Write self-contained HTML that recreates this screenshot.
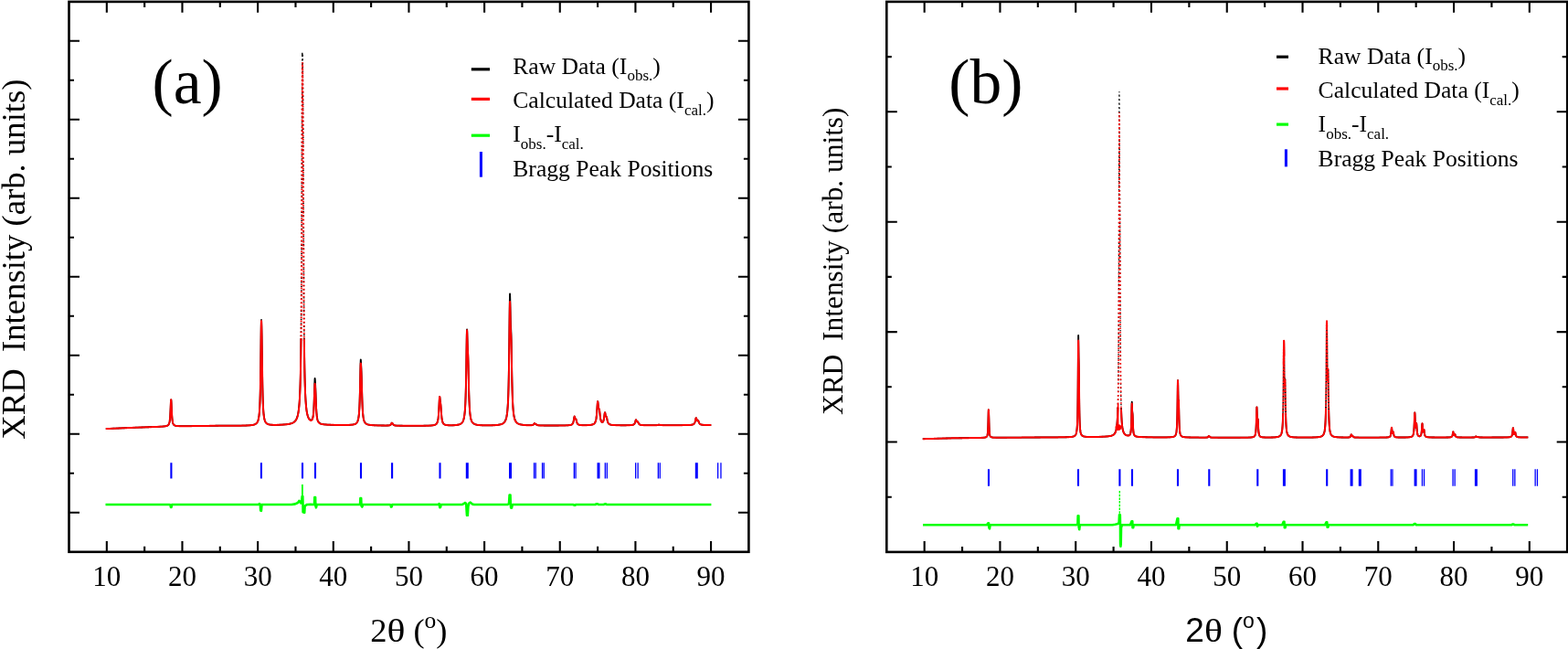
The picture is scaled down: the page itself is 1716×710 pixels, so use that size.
<!DOCTYPE html>
<html><head><meta charset="utf-8"><title>XRD Rietveld refinement</title><style>html,body{margin:0;padding:0;background:#fff;width:1716px;height:710px;overflow:hidden}
svg{display:block}
text{fill:#000}
.sf{font-family:"Liberation Serif","Times New Roman",serif}
.ss{font-family:"Liberation Sans",Arial,sans-serif}
.tl{font-family:"Liberation Serif","Times New Roman",serif;font-size:31px;text-anchor:middle}
</style></head><body>
<svg width="1716" height="710" viewBox="0 0 1716 710">

<rect x="75.5" y="1.9" width="743.9" height="601.9" fill="none" stroke="#000" stroke-width="2.6"/>
<path d="M116.83 603.8V592M116.83 1.9V13.7M158.16 603.8V597.8M158.16 1.9V7.9M199.48 603.8V592M199.48 1.9V13.7M240.81 603.8V597.8M240.81 1.9V7.9M282.14 603.8V592M282.14 1.9V13.7M323.47 603.8V597.8M323.47 1.9V7.9M364.79 603.8V592M364.79 1.9V13.7M406.12 603.8V597.8M406.12 1.9V7.9M447.45 603.8V592M447.45 1.9V13.7M488.78 603.8V597.8M488.78 1.9V7.9M530.11 603.8V592M530.11 1.9V13.7M571.43 603.8V597.8M571.43 1.9V7.9M612.76 603.8V592M612.76 1.9V13.7M654.09 603.8V597.8M654.09 1.9V7.9M695.42 603.8V592M695.42 1.9V13.7M736.74 603.8V597.8M736.74 1.9V7.9M778.07 603.8V592M778.07 1.9V13.7M75.5 560.8H87M819.4 560.8H807.9M75.5 517.8H81M819.4 517.8H813.9M75.5 474.8H87M819.4 474.8H807.9M75.5 431.8H81M819.4 431.8H813.9M75.5 388.8H87M819.4 388.8H807.9M75.5 345.8H81M819.4 345.8H813.9M75.5 302.8H87M819.4 302.8H807.9M75.5 259.8H81M819.4 259.8H813.9M75.5 216.8H87M819.4 216.8H807.9M75.5 173.8H81M819.4 173.8H813.9M75.5 130.8H87M819.4 130.8H807.9M75.5 87.8H81M819.4 87.8H813.9M75.5 44.8H87M819.4 44.8H807.9" stroke="#000" stroke-width="2.1" fill="none"/>
<text x="116.83" y="640.5" class="tl">10</text>
<text x="199.48" y="640.5" class="tl">20</text>
<text x="282.14" y="640.5" class="tl">30</text>
<text x="364.79" y="640.5" class="tl">40</text>
<text x="447.45" y="640.5" class="tl">50</text>
<text x="530.11" y="640.5" class="tl">60</text>
<text x="612.76" y="640.5" class="tl">70</text>
<text x="695.42" y="640.5" class="tl">80</text>
<text x="778.07" y="640.5" class="tl">90</text>
<path d="M115.8 469.08L116.3 469.06L116.8 469.04L117.3 469.02L117.8 469L118.3 468.98L118.8 468.96L119.3 468.94L119.8 468.92L120.3 468.9L120.8 468.88L121.3 468.86L121.8 468.84L122.3 468.82L122.8 468.8L123.3 468.77L123.8 468.75L124.3 468.73L124.8 468.71L125.3 468.69L125.8 468.67L126.3 468.65L126.8 468.63L127.3 468.61L127.8 468.59L128.3 468.57L128.8 468.55L129.3 468.53L129.8 468.51L130.3 468.49L130.8 468.47L131.3 468.44L131.8 468.42L132.3 468.4L132.8 468.38L133.3 468.36L133.8 468.34L134.3 468.32L134.8 468.3L135.3 468.28L135.8 468.26L136.3 468.24L136.8 468.22L137.3 468.2L137.8 468.18L138.3 468.16L138.8 468.14L139.3 468.11L139.8 468.09L140.3 468.07L140.8 468.05L141.3 468.03L141.8 468.01L142.3 467.99L142.8 467.97L143.3 467.95L143.8 467.93L144.3 467.91L144.8 467.89L145.3 467.87L145.8 467.84L146.3 467.82L146.8 467.8L147.3 467.78L147.8 467.76L148.3 467.74L148.8 467.72L149.3 467.7L149.8 467.68L150.3 467.66L150.8 467.64L151.3 467.63L151.8 467.61L152.3 467.59L152.8 467.58L153.3 467.56L153.8 467.54L154.3 467.53L154.8 467.51L155.3 467.49L155.8 467.48L156.3 467.46L156.8 467.44L157.3 467.42L157.8 467.41L158.3 467.39L158.8 467.37L159.3 467.36L159.8 467.34L160.3 467.32L160.8 467.31L161.3 467.29L161.8 467.27L162.3 467.25L162.8 467.24L163.3 467.22L163.8 467.2L164.3 467.18L164.8 467.17L165.3 467.15L165.8 467.13L166.3 467.11L166.8 467.09L167.3 467.08L167.8 467.06L168.3 467.04L168.8 467.02L169.3 467L169.8 466.98L170.3 466.96L170.8 466.94L171.3 466.92L171.8 466.9L172.3 466.88L172.8 466.86L173.3 466.84L173.8 466.81L174.3 466.79L174.8 466.77L175.3 466.74L175.8 466.71L176.3 466.69L176.8 466.66L177.3 466.62L177.8 466.59L178.3 466.55L178.8 466.51L179.3 466.47L179.8 466.41L180.3 466.35L180.8 466.28L181.3 466.2L181.8 466.1L182.3 465.97L182.75 465.82L182.8 465.8L182.93 465.74L183.11 465.66L183.29 465.57L183.3 465.57L183.47 465.47L183.66 465.35L183.8 465.24L183.84 465.21L184.02 465.05L184.2 464.87L184.3 464.75L184.38 464.65L184.56 464.4L184.74 464.09L184.8 463.98L184.93 463.71L185.11 463.25L185.29 462.67L185.3 462.62L185.47 461.94L185.65 461L185.8 460.01L185.83 459.77L186.01 458.15L186.19 455.97L186.3 454.39L186.38 453.1L186.4 452.63L186.56 449.39L186.58 448.81L186.74 445L186.76 444.37L186.8 443.42L186.92 440.66L186.94 440.14L187.1 437.81L187.12 437.6L187.2 437.3L187.28 437.5L187.3 437.62L187.31 437.66L187.46 439.66L187.49 440.1L187.64 443.4L187.67 443.98L187.8 447.08L187.82 447.66L187.85 448.23L188.01 451.57L188.03 452.06L188.19 454.77L188.21 455.15L188.3 456.36L188.37 457.21L188.39 457.49L188.55 459.04L188.57 459.26L188.73 460.42L188.8 460.86L188.91 461.48L189.09 462.29L189.28 462.92L189.3 462.99L189.46 463.42L189.64 463.82L189.8 464.12L189.82 464.15L190 464.42L190.18 464.65L190.3 464.77L190.36 464.84L190.54 465L190.72 465.13L190.8 465.18L190.91 465.25L191.09 465.35L191.27 465.44L191.3 465.45L191.45 465.52L191.8 465.64L192.3 465.78L192.8 465.87L193.3 465.95L193.8 466L194.3 466.05L194.8 466.08L195.3 466.11L195.8 466.13L196.3 466.15L196.8 466.16L197.3 466.17L197.8 466.18L198.3 466.18L198.8 466.19L199.3 466.19L199.8 466.19L200.3 466.19L200.8 466.19L201.3 466.19L201.8 466.19L202.3 466.19L202.8 466.19L203.3 466.18L203.8 466.18L204.3 466.18L204.8 466.17L205.3 466.17L205.8 466.16L206.3 466.16L206.8 466.16L207.3 466.15L207.8 466.15L208.3 466.14L208.8 466.14L209.3 466.13L209.8 466.12L210.3 466.12L210.8 466.11L211.3 466.11L211.8 466.1L212.3 466.1L212.8 466.09L213.3 466.08L213.8 466.08L214.3 466.07L214.8 466.06L215.3 466.06L215.8 466.05L216.3 466.05L216.8 466.04L217.3 466.03L217.8 466.03L218.3 466.02L218.8 466.01L219.3 466.01L219.8 466L220.3 465.99L220.8 465.99L221.3 465.98L221.8 465.97L222.3 465.97L222.8 465.96L223.3 465.95L223.8 465.95L224.3 465.94L224.8 465.93L225.3 465.92L225.8 465.92L226.3 465.91L226.8 465.9L227.3 465.9L227.8 465.89L228.3 465.88L228.8 465.87L229.3 465.87L229.8 465.86L230.3 465.85L230.8 465.85L231.3 465.84L231.8 465.83L232.3 465.82L232.8 465.82L233.3 465.81L233.8 465.8L234.3 465.79L234.8 465.79L235.3 465.78L235.8 465.77L236.3 465.76L236.8 465.76L237.3 465.75L237.8 465.74L238.3 465.73L238.8 465.73L239.3 465.72L239.8 465.71L240.3 465.71L240.8 465.71L241.3 465.71L241.8 465.71L242.3 465.71L242.8 465.71L243.3 465.71L243.8 465.71L244.3 465.71L244.8 465.71L245.3 465.71L245.8 465.71L246.3 465.71L246.8 465.71L247.3 465.71L247.8 465.71L248.3 465.71L248.8 465.71L249.3 465.71L249.8 465.71L250.3 465.71L250.8 465.71L251.3 465.71L251.8 465.7L252.3 465.7L252.8 465.7L253.3 465.7L253.8 465.7L254.3 465.7L254.8 465.7L255.3 465.7L255.8 465.69L256.3 465.69L256.8 465.69L257.3 465.69L257.8 465.68L258.3 465.68L258.8 465.68L259.3 465.67L259.8 465.67L260.3 465.67L260.8 465.66L261.3 465.66L261.8 465.65L262.3 465.65L262.8 465.64L263.3 465.64L263.8 465.63L264.3 465.62L264.8 465.62L265.3 465.61L265.8 465.6L266.3 465.59L266.8 465.58L267.3 465.57L267.8 465.56L268.3 465.54L268.8 465.53L269.3 465.51L269.8 465.49L270.3 465.47L270.8 465.45L271.3 465.43L271.8 465.4L272.3 465.37L272.8 465.33L273.3 465.3L273.8 465.25L274.3 465.21L274.8 465.15L275.3 465.09L275.8 465.02L276.3 464.94L276.8 464.85L277.3 464.74L277.8 464.61L278.3 464.45L278.8 464.26L279.3 464.04L279.8 463.75L280.3 463.39L280.8 462.93L281.19 462.47L281.3 462.32L281.39 462.19L281.59 461.88L281.78 461.53L281.8 461.49L281.98 461.13L282.17 460.67L282.3 460.33L282.37 460.13L282.57 459.51L282.76 458.79L282.8 458.64L282.96 457.93L283.15 456.91L283.3 456.02L283.35 455.68L283.55 454.18L283.74 452.33L283.8 451.72L283.94 450.03L284.13 447.11L284.3 444.01L284.33 443.35L284.53 438.45L284.72 431.97L284.8 428.87L284.92 423.29L285.12 411.82L285.3 398.08L285.31 397.09L285.37 392.07L285.51 379.77L285.57 374.45L285.7 363L285.76 358.86L285.8 356.61L285.9 352.12L285.96 350.63L286.02 350L286.1 350.42L286.15 351.51L286.29 356.07L286.3 356.41L286.35 358.76L286.49 366.12L286.55 369.89L286.68 379.41L286.74 383.93L286.8 388.24L286.88 394.4L286.94 398.94L287.08 408.7L287.14 412.55L287.27 420.56L287.3 421.99L287.33 423.61L287.47 429.8L287.53 432.12L287.67 436.81L287.72 438.57L287.8 440.62L287.86 442.12L288.06 446.17L288.25 449.3L288.3 449.95L288.45 451.76L288.64 453.72L288.8 454.99L288.84 455.3L289.04 456.59L289.23 457.66L289.3 457.98L289.43 458.56L289.63 459.31L289.8 459.88L289.82 459.95L290.02 460.49L290.21 460.96L290.3 461.15L290.41 461.37L290.61 461.72L290.8 462.03L291.3 462.67L291.8 463.15L292.3 463.51L292.8 463.79L293.3 464.01L293.8 464.19L294.3 464.33L294.8 464.45L295.3 464.54L295.8 464.62L296.3 464.68L296.8 464.73L297.3 464.77L297.8 464.8L298.3 464.83L298.8 464.85L299.3 464.86L299.8 464.87L300.3 464.88L300.8 464.88L301.3 464.88L301.8 464.88L302.3 464.87L302.8 464.86L303.3 464.85L303.8 464.84L304.3 464.82L304.8 464.81L305.3 464.79L305.8 464.77L306.3 464.75L306.8 464.72L307.3 464.69L307.8 464.66L308.3 464.63L308.8 464.6L309.3 464.56L309.8 464.53L310.3 464.49L310.8 464.46L311.3 464.42L311.8 464.39L312.3 464.34L312.8 464.3L313.3 464.25L313.8 464.19L314.3 464.13L314.8 464.06L315.3 463.99L315.8 463.91L316.3 463.82L316.8 463.72L317.3 463.61L317.8 463.48L318.3 463.34L318.8 463.19L319.3 463.01L319.8 462.81L320.3 462.58L320.8 462.32L321.3 462.01L321.8 461.66L322.3 461.24L322.8 460.75L323.3 460.17L323.8 459.46L324.3 458.59L324.8 457.51L325.3 456.15L325.8 454.4L326.03 453.41L326.24 452.43L326.3 452.09L326.44 451.32L326.64 450.07L326.8 448.96L326.84 448.64L327.05 447L327.25 445.1L327.3 444.58L327.45 442.89L327.65 440.31L327.8 438.18L327.86 437.27L328.06 433.64L328.26 429.26L328.3 428.36L328.47 423.92L328.67 417.35L328.8 412.27L328.87 409.15L329.07 398.81L329.28 385.46L329.3 383.71L329.46 370M332.88 370L332.89 371.04L332.93 374.72L333.13 390.63L333.3 401.02L333.33 402.86L333.54 412.4L333.74 419.96L333.8 421.88L333.94 426.02L334.14 430.93L334.3 434.09L334.35 434.99L334.55 438.36L334.75 441.2L334.8 441.78L334.96 443.6L335.16 445.65L335.3 446.9L335.36 447.41L335.56 448.94L335.77 450.27L335.8 450.46L336.3 453.03L336.8 454.93L337.3 456.36L337.8 457.44L338.3 458.26L338.8 458.87L339.3 459.29L339.58 459.46L339.79 459.54L339.8 459.55L339.99 459.6L340.2 459.62L340.3 459.62L340.4 459.61L340.61 459.57L340.8 459.49L340.81 459.48L341.02 459.35L341.22 459.16L341.3 459.08L341.43 458.91L341.63 458.58L341.8 458.24L341.84 458.15L342.04 457.6L342.25 456.9L342.3 456.68L342.45 455.99L342.66 454.8L342.8 453.76L342.86 453.25L343.07 451.2L343.27 448.45L343.3 448L343.48 444.77L343.68 439.89L343.8 436.37L343.88 433.58L344.08 426.6L344.09 426.19L344.28 419.44L344.3 419.11L344.3 418.96L344.49 414.83L344.5 414.7L344.63 414L344.69 414.22L344.7 414.29L344.8 415.18L344.9 416.55L344.91 416.72L345.1 420.09L345.12 420.3L345.3 424.29L345.31 424.51L345.32 424.78L345.51 430.04L345.52 430.33L345.72 436.07L345.73 436.39L345.8 438.41L345.92 441.67L345.93 441.94L346.13 446.27L346.14 446.48L346.3 449.32L346.33 449.83L346.34 449.99L346.54 452.54L346.55 452.67L346.75 454.71L346.8 455.09L346.96 456.27L347.16 457.5L347.3 458.18L347.37 458.48L347.57 459.27L347.78 459.92L347.8 459.98L347.98 460.46L348.19 460.9L348.3 461.12L348.39 461.28L348.6 461.61L348.8 461.89L348.8 461.89L349.01 462.13L349.21 462.35L349.3 462.43L349.42 462.54L349.8 462.83L350.3 463.14L350.8 463.39L351.3 463.58L351.8 463.74L352.3 463.88L352.8 463.99L353.3 464.09L353.8 464.17L354.3 464.24L354.8 464.31L355.3 464.37L355.8 464.42L356.3 464.46L356.8 464.5L357.3 464.54L357.8 464.57L358.3 464.61L358.8 464.63L359.3 464.66L359.8 464.68L360.3 464.7L360.8 464.72L361.3 464.74L361.8 464.76L362.3 464.78L362.8 464.79L363.3 464.8L363.8 464.82L364.3 464.83L364.8 464.84L365.3 464.85L365.8 464.86L366.3 464.86L366.8 464.87L367.3 464.88L367.8 464.88L368.3 464.89L368.8 464.89L369.3 464.9L369.8 464.9L370.3 464.91L370.8 464.92L371.3 464.92L371.8 464.93L372.3 464.93L372.8 464.94L373.3 464.94L373.8 464.95L374.3 464.95L374.8 464.95L375.3 464.95L375.8 464.96L376.3 464.96L376.8 464.95L377.3 464.95L377.8 464.95L378.3 464.94L378.8 464.94L379.3 464.93L379.8 464.92L380.3 464.91L380.8 464.9L381.3 464.88L381.8 464.86L382.3 464.84L382.8 464.82L383.3 464.79L383.8 464.75L384.3 464.71L384.8 464.67L385.3 464.61L385.8 464.54L386.3 464.46L386.8 464.36L387.3 464.25L387.8 464.1L388.3 463.92L388.8 463.7L389.3 463.41L389.6 463.19L389.8 463.03L389.81 463.02L390.03 462.82L390.24 462.6L390.3 462.53L390.45 462.34L390.66 462.05L390.8 461.84L390.88 461.71L391.09 461.32L391.3 460.86L391.3 460.85L391.51 460.31L391.73 459.66L391.8 459.4L391.94 458.87L392.15 457.92L392.3 457.12L392.36 456.74L392.58 455.27L392.79 453.41L392.8 453.29L393 451.01L393.21 447.89L393.3 446.33L393.43 443.74L393.64 438.24L393.8 432.86L393.85 430.97L394.06 421.61L394.27 410.76L394.3 409.45L394.38 405.48L394.49 400.42L394.59 396.73L394.7 394.22L394.8 393.41L394.8 393.4L394.81 393.4L394.91 393.99L395.01 395.53L395.12 397.76L395.23 400.03L395.3 401.67L395.34 402.5L395.44 404.85L395.55 407.57L395.65 410.44L395.76 414.02L395.8 415.36L395.86 417.73L395.97 422L396.08 426.04L396.19 430.21L396.29 433.81L396.3 434.18L396.4 437.33L396.5 440.26L396.61 443.01L396.71 445.24L396.8 446.91L396.82 447.35L396.93 449.06L397.04 450.64L397.25 453.17L397.3 453.68L397.46 455.12L397.67 456.66L397.8 457.42L397.89 457.88L398.1 458.87L398.3 459.64L398.31 459.68L398.52 460.35L398.74 460.91L398.8 461.06L398.95 461.38L399.16 461.79L399.3 462.02L399.37 462.14L399.58 462.44L399.8 462.7L399.8 462.7L400.3 463.2L400.8 463.58L401.3 463.87L401.8 464.1L402.3 464.29L402.8 464.44L403.3 464.57L403.8 464.67L404.3 464.76L404.8 464.84L405.3 464.91L405.8 464.97L406.3 465.02L406.8 465.07L407.3 465.11L407.8 465.14L408.3 465.18L408.8 465.21L409.3 465.24L409.8 465.26L410.3 465.28L410.8 465.3L411.3 465.32L411.8 465.34L412.3 465.36L412.8 465.38L413.3 465.39L413.8 465.4L414.3 465.42L414.8 465.43L415.3 465.44L415.8 465.45L416.3 465.46L416.8 465.47L417.3 465.48L417.8 465.49L418.3 465.5L418.8 465.5L419.3 465.51L419.8 465.52L420.3 465.52L420.8 465.53L421.3 465.53L421.8 465.53L422.3 465.53L422.8 465.53L423.3 465.52L423.48 465.52L423.7 465.51L423.8 465.51L423.92 465.51L424.13 465.5L424.3 465.5L424.35 465.49L424.57 465.48L424.79 465.47L424.8 465.47L425 465.46L425.22 465.44L425.3 465.44L425.44 465.42L425.65 465.4L425.8 465.38L425.87 465.37L426.09 465.33L426.3 465.29L426.31 465.29L426.52 465.23L426.74 465.15L426.8 465.13L426.96 465.06L427.18 464.93L427.3 464.84L427.39 464.76L427.61 464.53L427.8 464.28L427.83 464.23L428.05 463.85L428.26 463.4L428.3 463.32L428.45 463.03L428.48 462.98L428.67 462.75L428.7 462.73L428.8 462.7L428.81 462.7L428.88 462.72L428.92 462.73L429.1 462.87L429.13 462.91L429.3 463.06L429.32 463.07L429.35 463.1L429.54 463.26L429.57 463.29L429.75 463.47L429.79 463.51L429.8 463.52L429.97 463.75L430 463.81L430.19 464.09L430.22 464.14L430.3 464.26L430.4 464.4L430.44 464.45L430.62 464.67L430.66 464.71L430.8 464.84L430.84 464.87L430.88 464.9L431.06 465.03L431.09 465.05L431.3 465.16L431.31 465.17L431.53 465.26L431.75 465.33L431.8 465.34L431.96 465.39L432.18 465.43L432.3 465.45L432.4 465.47L432.62 465.5L432.8 465.52L432.83 465.53L433.05 465.55L433.27 465.57L433.3 465.57L433.49 465.59L433.7 465.6L433.8 465.61L433.92 465.62L434.3 465.64L434.8 465.66L435.3 465.68L435.8 465.69L436.3 465.7L436.8 465.72L437.3 465.73L437.8 465.74L438.3 465.74L438.8 465.75L439.3 465.76L439.8 465.77L440.3 465.77L440.8 465.78L441.3 465.78L441.8 465.79L442.3 465.8L442.8 465.8L443.3 465.81L443.8 465.81L444.3 465.82L444.8 465.82L445.3 465.83L445.8 465.83L446.3 465.83L446.8 465.84L447.3 465.84L447.8 465.85L448.3 465.85L448.8 465.86L449.3 465.86L449.8 465.86L450.3 465.86L450.8 465.86L451.3 465.86L451.8 465.86L452.3 465.86L452.8 465.85L453.3 465.85L453.8 465.85L454.3 465.85L454.8 465.85L455.3 465.84L455.8 465.84L456.3 465.84L456.8 465.84L457.3 465.83L457.8 465.83L458.3 465.83L458.8 465.82L459.3 465.82L459.8 465.81L460.3 465.81L460.8 465.8L461.3 465.8L461.8 465.79L462.3 465.79L462.8 465.78L463.3 465.78L463.8 465.77L464.3 465.76L464.8 465.75L465.3 465.74L465.8 465.73L466.3 465.72L466.8 465.71L467.3 465.7L467.8 465.69L468.3 465.67L468.8 465.65L469.3 465.63L469.8 465.61L470.3 465.59L470.8 465.56L471.3 465.53L471.8 465.49L472.3 465.45L472.8 465.41L473.3 465.35L473.8 465.28L474.3 465.2L474.8 465.1L475.3 464.97L475.69 464.85L475.8 464.81L475.92 464.77L476.14 464.68L476.3 464.61L476.37 464.58L476.59 464.46L476.8 464.34L476.82 464.32L477.04 464.17L477.27 463.99L477.3 463.96L477.49 463.78L477.72 463.53L477.8 463.43L477.94 463.24L478.17 462.88L478.3 462.64L478.4 462.45L478.62 461.92L478.8 461.4L478.85 461.25L479.07 460.41L479.3 459.34L479.3 459.32L479.52 457.93L479.75 456.07L479.8 455.56L479.97 453.6L480.2 450.32L480.3 448.56L480.42 446.15L480.65 441.31L480.8 438.15L480.88 436.78L480.96 435.47L481.1 434.22L481.19 434L481.19 434L481.3 434.32L481.32 434.47L481.41 435.16L481.55 436.54L481.64 437.44L481.78 438.74L481.8 438.94L481.86 439.44L482 440.41L482.09 441L482.23 442.04L482.3 442.7L482.31 442.84L482.45 444.42L482.54 445.61L482.68 447.65L482.76 448.97L482.8 449.5L482.9 451.01L482.99 452.21L483.13 453.95L483.22 454.94L483.3 455.8L483.35 456.31L483.44 457.06L483.58 458.11L483.67 458.68L483.8 459.46L483.8 459.48L484.03 460.53L484.25 461.34L484.3 461.48L484.48 461.98L484.71 462.49L484.8 462.68L484.93 462.91L485.16 463.25L485.3 463.43L485.38 463.52L485.61 463.76L485.8 463.93L485.83 463.96L486.06 464.13L486.28 464.27L486.3 464.28L486.51 464.39L486.8 464.53L487.3 464.72L487.8 464.86L488.3 464.97L488.8 465.05L489.3 465.12L489.8 465.17L490.3 465.21L490.8 465.24L491.3 465.26L491.8 465.28L492.3 465.29L492.8 465.3L493.3 465.3L493.8 465.3L494.3 465.29L494.8 465.28L495.3 465.27L495.8 465.25L496.3 465.23L496.8 465.2L497.3 465.17L497.8 465.13L498.3 465.09L498.8 465.04L499.3 464.99L499.8 464.92L500.3 464.85L500.8 464.76L501.3 464.67L501.8 464.55L502.3 464.41L502.8 464.25L503.3 464.06L503.8 463.83L504.3 463.54L504.8 463.19L505.3 462.75L505.48 462.56L505.71 462.3L505.8 462.19L505.94 462L506.17 461.66L506.3 461.45L506.4 461.27L506.63 460.83L506.8 460.46L506.86 460.32L507.09 459.72L507.3 459.1L507.32 459.03L507.55 458.21L507.78 457.23L507.8 457.15L508.01 456.05L508.24 454.62L508.3 454.21L508.47 452.85L508.7 450.65L508.8 449.54L508.93 447.87L509.16 444.29L509.3 441.62L509.39 439.61L509.62 433.43L509.8 427.23L509.85 425.2L510.08 414.3L510.3 401.12L510.31 400.46L510.54 384.36L510.77 369.4L510.8 367.83L510.93 362.6L511 361.09L511.09 360.5L511.16 361.05L511.23 362.33L511.3 364.21L511.39 367.21L511.46 369.69L511.62 375.31L511.69 377.42L511.8 380.29L511.85 381.42L511.92 382.79L512.08 385.76L512.15 387.11L512.3 390.89L512.31 391.19L512.38 393.44L512.54 399.87L512.61 403.01L512.77 410.74L512.8 412.18L512.84 414.04L513 421.35L513.07 424.23L513.23 430.26L513.3 432.52L513.3 432.58L513.46 437.24L513.53 438.97L513.69 442.56L513.76 443.88L513.8 444.64L513.99 447.63L514.22 450.53L514.3 451.4L514.45 452.8L514.68 454.61L514.8 455.42L514.91 456.06L515.14 457.25L515.3 457.97L515.37 458.23L515.6 459.06L515.8 459.68L515.83 459.75L516.06 460.35L516.29 460.86L516.3 460.88L516.52 461.29L516.8 461.76L517.3 462.42L517.8 462.93L518.3 463.33L518.8 463.65L519.3 463.91L519.8 464.12L520.3 464.3L520.8 464.45L521.3 464.57L521.8 464.68L522.3 464.77L522.8 464.85L523.3 464.92L523.8 464.98L524.3 465.03L524.8 465.08L525.3 465.12L525.8 465.16L526.3 465.19L526.8 465.22L527.3 465.24L527.8 465.26L528.3 465.28L528.8 465.3L529.3 465.31L529.8 465.32L530.3 465.33L530.8 465.34L531.3 465.34L531.8 465.35L532.3 465.35L532.8 465.35L533.3 465.35L533.8 465.35L534.3 465.35L534.8 465.34L535.3 465.34L535.8 465.33L536.3 465.32L536.8 465.31L537.3 465.3L537.8 465.28L538.3 465.27L538.8 465.25L539.3 465.23L539.8 465.21L540.3 465.19L540.8 465.16L541.3 465.13L541.8 465.1L542.3 465.06L542.8 465.02L543.3 464.98L543.8 464.93L544.3 464.88L544.8 464.82L545.3 464.75L545.8 464.67L546.3 464.58L546.8 464.48L547.3 464.37L547.8 464.24L548.3 464.09L548.8 463.92L549.3 463.72L549.8 463.48L550.3 463.2L550.8 462.85L551.3 462.44L551.8 461.92L552.3 461.28L552.31 461.26L552.55 460.89L552.79 460.48L552.8 460.46L553.02 460.01L553.26 459.48L553.3 459.39L553.5 458.87L553.74 458.16L553.8 457.95L553.97 457.34L554.21 456.38L554.3 455.97L554.45 455.25L554.68 453.9L554.8 453.14L554.92 452.28L555.16 450.3L555.3 448.9L555.39 447.87L555.63 444.83L555.8 442.18L555.87 440.98L556.11 436.03L556.3 430.86L556.34 429.58L556.58 421.04L556.8 410.55L556.82 409.67L557.05 394.7L557.29 375.53L557.3 374.55L557.53 353.38L557.76 332.93L557.8 330.39L558 321.9L558.05 321.35L558.06 321.3L558.24 324.4L558.28 326.2L558.3 326.89L558.47 335.6L558.52 338.09L558.71 347.25L558.76 349.13L558.8 350.66L558.95 354.9L559 355.92L559.18 359.26L559.23 360.1L559.3 361.45L559.42 364.59L559.47 366.18L559.66 374.56L559.71 377.16L559.8 382.64L559.89 388.49L559.94 391.49L560.13 402.96L560.18 405.64L560.3 412.09L560.37 415.47L560.42 417.64L560.61 425.39L560.65 427.06L560.8 431.75L560.84 432.98L560.89 434.25L561.08 438.77L561.3 442.93L561.32 443.21L561.55 446.67L561.79 449.39L561.8 449.49L562.03 451.58L562.26 453.35L562.3 453.59L562.5 454.82L562.74 456.04L562.8 456.32L562.98 457.06L563.21 457.93L563.3 458.22L563.45 458.67L563.69 459.31L563.8 459.59L564.3 460.62L564.8 461.4L565.3 462.02L565.8 462.51L566.3 462.91L566.8 463.24L567.3 463.51L567.8 463.74L568.3 463.94L568.8 464.1L569.3 464.25L569.8 464.37L570.3 464.48L570.8 464.57L571.3 464.66L571.8 464.73L572.3 464.8L572.8 464.86L573.3 464.91L573.8 464.96L574.3 465L574.8 465.04L575.3 465.07L575.8 465.1L576.3 465.13L576.8 465.15L577.3 465.17L577.8 465.19L578.3 465.2L578.8 465.21L579.12 465.22L579.3 465.22L579.36 465.22L579.6 465.22L579.8 465.22L579.84 465.22L580.08 465.22L580.3 465.22L580.32 465.22L580.56 465.22L580.8 465.21L580.8 465.21L581.04 465.2L581.29 465.19L581.3 465.19L581.53 465.18L581.77 465.16L581.8 465.15L582.01 465.13L582.25 465.1L582.3 465.09L582.49 465.06L582.73 465L582.8 464.98L582.97 464.93L583.21 464.84L583.3 464.8L583.45 464.71L583.7 464.54L583.8 464.45L583.94 464.31L584.18 464.02L584.3 463.85L584.42 463.68L584.66 463.37L584.8 463.25L584.9 463.21L584.96 463.2L585.02 463.21L585.14 463.26L585.26 463.34L585.3 463.37L585.38 463.44L585.5 463.54L585.62 463.63L585.74 463.71L585.8 463.73L585.86 463.76L585.98 463.8L586.11 463.82L586.22 463.85L586.3 463.87L586.35 463.88L586.46 463.93L586.59 464.01L586.71 464.1L586.8 464.18L586.83 464.21L586.95 464.32L587.07 464.43L587.19 464.54L587.3 464.63L587.31 464.64L587.43 464.72L587.55 464.8L587.67 464.87L587.79 464.93L587.8 464.93L587.91 464.98L588.03 465.03L588.27 465.1L588.3 465.11L588.51 465.16L588.75 465.21L588.8 465.22L589 465.25L589.24 465.28L589.3 465.28L589.48 465.3L589.72 465.32L589.8 465.33L589.96 465.34L590.2 465.36L590.3 465.36L590.44 465.37L590.68 465.38L590.8 465.39L591.3 465.41L591.8 465.42L592.3 465.43L592.8 465.44L593.3 465.45L593.8 465.46L594.3 465.47L594.8 465.47L595.3 465.48L595.8 465.48L596.3 465.48L596.8 465.49L597.3 465.49L597.8 465.49L598.3 465.49L598.8 465.5L599.3 465.5L599.8 465.5L600.3 465.5L600.8 465.5L601.3 465.5L601.8 465.5L602.3 465.5L602.8 465.5L603.3 465.5L603.8 465.5L604.3 465.5L604.8 465.5L605.3 465.5L605.8 465.5L606.3 465.5L606.8 465.5L607.3 465.49L607.8 465.49L608.3 465.49L608.8 465.49L609.3 465.49L609.8 465.48L610.3 465.48L610.8 465.48L611.3 465.48L611.8 465.47L612.3 465.47L612.8 465.47L613.3 465.46L613.8 465.46L614.3 465.45L614.8 465.45L615.3 465.44L615.8 465.44L616.3 465.43L616.8 465.42L617.3 465.41L617.8 465.4L618.3 465.39L618.8 465.38L619.3 465.36L619.8 465.35L620.3 465.33L620.8 465.31L621.3 465.28L621.8 465.25L622.3 465.21L622.76 465.17L622.8 465.17L623.01 465.15L623.25 465.12L623.3 465.11L623.5 465.08L623.75 465.04L623.8 465.04L624 465L624.25 464.95L624.3 464.94L624.49 464.89L624.74 464.82L624.8 464.81L624.99 464.74L625.24 464.65L625.3 464.62L625.48 464.54L625.73 464.4L625.8 464.35L625.98 464.23L626.23 464.02L626.3 463.94L626.47 463.75L626.72 463.4L626.8 463.27L626.97 462.95L627.22 462.36L627.3 462.11L627.46 461.57L627.71 460.52L627.8 460.07L627.96 459.19L628.21 457.66L628.3 457.07L628.45 456.26L628.7 455.53L628.75 455.5L628.8 455.51L628.94 455.75L628.95 455.77L629.19 456.62L629.2 456.65L629.3 457.06L629.44 457.55L629.44 457.57L629.68 458.17L629.69 458.18L629.8 458.34L629.93 458.44L629.94 458.45L630.18 458.55L630.18 458.55L630.3 458.65L630.43 458.84L630.43 458.85L630.67 459.5L630.68 459.53L630.8 459.96L630.92 460.44L630.93 460.46L631.17 461.38L631.17 461.4L631.3 461.83L631.42 462.18L631.42 462.2L631.66 462.82L631.67 462.83L631.8 463.1L631.91 463.3L631.92 463.31L632.16 463.67L632.3 463.84L632.41 463.95L632.66 464.17L632.8 464.27L632.91 464.34L633.15 464.48L633.3 464.55L633.4 464.59L633.65 464.69L633.8 464.73L633.9 464.76L634.14 464.83L634.3 464.86L634.39 464.88L634.64 464.92L634.8 464.95L635.3 465.02L635.8 465.07L636.3 465.1L636.8 465.13L637.3 465.15L637.8 465.16L638.3 465.17L638.8 465.18L639.3 465.18L639.8 465.18L640.3 465.18L640.8 465.17L641.3 465.16L641.8 465.15L642.3 465.14L642.8 465.12L643.3 465.1L643.8 465.07L644.3 465.04L644.8 465.01L645.3 464.97L645.8 464.92L646.3 464.86L646.8 464.79L647.3 464.7L647.8 464.6L648.07 464.53L648.3 464.47L648.32 464.46L648.57 464.39L648.8 464.31L648.82 464.3L649.07 464.2L649.3 464.1L649.33 464.08L649.58 463.95L649.8 463.82L649.83 463.8L650.08 463.62L650.3 463.44L650.33 463.41L650.58 463.16L650.8 462.9L650.83 462.86L651.08 462.5L651.3 462.12L651.34 462.05L651.59 461.49L651.8 460.9L651.84 460.79L652.09 459.88L652.3 458.91L652.34 458.7L652.59 457.14L652.8 455.47L652.84 455.07L653.1 452.32L653.3 449.52L653.35 448.83L653.6 444.82L653.8 441.76L653.85 441.14L654.1 439.26L654.15 439.2L654.3 439.62L654.35 439.95L654.42 440.48L654.6 442.33L654.67 443.03L654.8 444.34L654.85 444.83L654.92 445.38L655.11 446.53L655.17 446.8L655.3 447.14L655.36 447.23L655.42 447.29L655.61 447.35L655.67 447.39L655.8 447.58L655.86 447.75L655.93 448L655.94 448.07L656.11 449.12L656.18 449.65L656.19 449.77L656.3 450.75L656.36 451.35L656.43 452L656.45 452.17L656.61 453.79L656.68 454.41L656.7 454.57L656.8 455.44L656.86 455.94L656.93 456.44L656.95 456.58L657.12 457.65L657.18 458.02L657.2 458.13L657.3 458.63L657.37 458.93L657.43 459.22L657.46 459.3L657.62 459.89L657.71 460.16L657.8 460.42L657.87 460.59L657.96 460.8L658.12 461.1L658.21 461.25L658.3 461.38L658.37 461.47L658.47 461.57L658.62 461.71L658.72 461.78L658.8 461.82L658.88 461.86L658.97 461.88L659.13 461.9L659.22 461.9L659.3 461.88L659.38 461.86L659.48 461.81L659.63 461.71L659.73 461.62L659.8 461.54L659.88 461.44L659.98 461.3L660.13 461.03L660.23 460.82L660.3 460.65L660.49 460.12L660.74 459.14L660.8 458.85L660.99 457.81L661.24 456.08L661.3 455.63L661.5 454.07L661.75 452.23L661.8 451.94L662 451.32L662.05 451.3L662.25 451.74L662.3 451.94L662.34 452.14L662.5 453.03L662.6 453.55L662.76 454.4L662.8 454.59L662.85 454.79L663.01 455.34L663.1 455.54L663.26 455.75L663.3 455.78L663.35 455.8L663.51 455.84L663.61 455.88L663.77 456.04L663.8 456.09L663.86 456.21L664.02 456.72L664.11 457.1L664.27 457.88L664.3 458.02L664.36 458.35L664.52 459.19L664.62 459.63L664.78 460.36L664.8 460.46L664.87 460.72L665.03 461.31L665.12 461.59L665.28 462.03L665.3 462.08L665.37 462.25L665.53 462.59L665.79 463.03L665.8 463.04L666.04 463.36L666.29 463.63L666.3 463.63L666.54 463.84L666.8 464.02L666.8 464.02L667.05 464.16L667.3 464.28L667.3 464.28L667.55 464.39L667.8 464.47L667.81 464.47L668.06 464.55L668.3 464.61L668.8 464.72L669.3 464.81L669.8 464.87L670.3 464.93L670.8 464.98L671.3 465.01L671.8 465.05L672.3 465.07L672.8 465.1L673.3 465.12L673.8 465.14L674.3 465.15L674.8 465.16L675.3 465.18L675.8 465.19L676.3 465.2L676.8 465.2L677.3 465.21L677.8 465.22L678.3 465.22L678.8 465.23L679.3 465.23L679.8 465.23L680.3 465.24L680.8 465.24L681.3 465.24L681.8 465.24L682.3 465.24L682.8 465.24L683.3 465.24L683.8 465.24L684.3 465.23L684.8 465.23L685.3 465.23L685.8 465.22L686.3 465.21L686.8 465.21L687.3 465.2L687.8 465.19L688.3 465.17L688.8 465.16L689.3 465.14L689.8 465.11L689.82 465.11L690.08 465.1L690.3 465.08L690.33 465.08L690.59 465.06L690.8 465.04L690.85 465.04L691.11 465.01L691.3 464.99L691.36 464.98L691.62 464.95L691.8 464.92L691.88 464.91L692.14 464.86L692.3 464.82L692.39 464.8L692.65 464.73L692.8 464.69L692.91 464.65L693.17 464.55L693.3 464.49L693.42 464.42L693.68 464.26L693.8 464.17L693.94 464.05L694.2 463.78L694.3 463.65L694.45 463.42L694.71 462.94L694.8 462.74L694.97 462.31L695.23 461.5L695.3 461.25L695.49 460.57L695.74 459.73L695.8 459.59L696 459.31L696.06 459.3L696.26 459.49L696.3 459.57L696.45 459.92L696.51 460.08L696.71 460.57L696.77 460.71L696.8 460.76L696.97 461.07L697.03 461.15L697.23 461.32L697.29 461.35L697.3 461.35L697.48 461.36L697.55 461.36L697.74 461.34L697.8 461.35L697.8 461.35L698 461.45L698.06 461.51L698.26 461.81L698.3 461.89L698.32 461.93L698.51 462.35L698.58 462.48L698.77 462.9L698.8 462.96L698.83 463.03L699.03 463.38L699.09 463.48L699.29 463.75L699.3 463.77L699.35 463.83L699.54 464.04L699.61 464.09L699.8 464.25L699.86 464.3L700.12 464.46L700.3 464.55L700.38 464.58L700.64 464.68L700.8 464.73L700.89 464.76L701.15 464.82L701.3 464.85L701.41 464.87L701.67 464.92L701.8 464.94L701.92 464.96L702.18 464.99L702.3 465L702.8 465.05L703.3 465.08L703.8 465.11L704.3 465.13L704.8 465.15L705.3 465.16L705.8 465.17L706.3 465.18L706.8 465.19L707.3 465.2L707.8 465.2L708.3 465.21L708.8 465.21L709.3 465.22L709.8 465.22L710.3 465.22L710.8 465.22L711.3 465.22L711.8 465.22L712.3 465.22L712.8 465.22L713.3 465.22L713.8 465.22L714.3 465.22L714.73 465.22L714.8 465.22L714.99 465.22L715.25 465.22L715.3 465.22L715.51 465.21L715.77 465.21L715.8 465.21L716.03 465.21L716.3 465.21L716.3 465.21L716.56 465.2L716.8 465.2L716.82 465.2L717.08 465.19L717.3 465.19L717.34 465.19L717.6 465.18L717.8 465.18L717.86 465.18L718.12 465.17L718.3 465.16L718.39 465.15L718.65 465.14L718.8 465.13L718.91 465.12L719.17 465.09L719.3 465.08L719.43 465.06L719.69 465.02L719.8 464.99L719.96 464.96L720.22 464.88L720.3 464.86L720.48 464.8L720.74 464.72L720.8 464.71L721 464.68L721.03 464.68L721.26 464.7L721.3 464.71L721.52 464.75L721.54 464.76L721.78 464.81L721.8 464.82L721.8 464.82L722.04 464.86L722.06 464.86L722.3 464.88L722.31 464.88L722.32 464.88L722.57 464.88L722.59 464.88L722.8 464.87L722.83 464.87L722.85 464.87L723.09 464.88L723.11 464.88L723.3 464.9L723.35 464.91L723.37 464.91L723.61 464.95L723.63 464.96L723.8 464.99L723.88 465L723.89 465.01L724.14 465.05L724.15 465.05L724.3 465.07L724.4 465.08L724.41 465.08L724.66 465.11L724.68 465.11L724.8 465.12L724.92 465.13L725.18 465.14L725.3 465.15L725.44 465.15L725.7 465.16L725.8 465.16L725.97 465.17L726.23 465.17L726.3 465.18L726.49 465.18L726.75 465.18L726.8 465.18L727.01 465.19L727.27 465.19L727.3 465.19L727.8 465.19L728.3 465.19L728.8 465.2L729.3 465.2L729.8 465.2L730.3 465.2L730.8 465.2L731.3 465.2L731.8 465.19L732.3 465.19L732.8 465.19L733.3 465.19L733.8 465.19L734.3 465.19L734.8 465.19L735.3 465.19L735.8 465.18L736.3 465.18L736.8 465.18L737.3 465.18L737.8 465.18L738.3 465.18L738.8 465.17L739.3 465.17L739.8 465.17L740.3 465.17L740.8 465.16L741.3 465.16L741.8 465.16L742.3 465.16L742.8 465.15L743.3 465.15L743.8 465.15L744.3 465.14L744.8 465.14L745.3 465.14L745.8 465.13L746.3 465.13L746.8 465.13L747.3 465.12L747.8 465.12L748.3 465.11L748.8 465.1L749.3 465.1L749.8 465.09L750.3 465.08L750.8 465.07L751.3 465.06L751.8 465.05L752.3 465.04L752.8 465.03L753.3 465.01L753.8 464.99L754.3 464.97L754.8 464.94L755.3 464.91L755.38 464.9L755.65 464.88L755.8 464.87L755.92 464.86L756.18 464.83L756.3 464.82L756.45 464.8L756.72 464.76L756.8 464.75L756.99 464.72L757.25 464.68L757.3 464.67L757.52 464.62L757.79 464.56L757.8 464.56L758.05 464.48L758.3 464.4L758.32 464.39L758.59 464.28L758.8 464.18L758.86 464.15L759.12 463.98L759.3 463.84L759.39 463.76L759.66 463.49L759.8 463.31L759.93 463.12L760.2 462.65L760.3 462.42L760.46 462.01L760.73 461.17L760.8 460.91L761 460.09L761.26 458.86L761.3 458.7L761.53 457.74L761.8 457.21L761.84 457.2L762.07 457.49L762.3 458.21L762.34 458.33L762.49 458.89L762.6 459.24L762.76 459.69L762.8 459.78L762.87 459.92L763.03 460.17L763.14 460.28L763.3 460.34L763.3 460.34L763.4 460.33L763.56 460.26L763.67 460.2L763.8 460.13L763.83 460.12L763.94 460.11L764.1 460.19L764.21 460.32L764.3 460.49L764.37 460.62L764.48 460.88L764.63 461.31L764.74 461.6L764.8 461.76L764.9 462.02L765.01 462.29L765.17 462.64L765.28 462.85L765.3 462.89L765.44 463.12L765.54 463.29L765.7 463.49L765.8 463.6L765.81 463.62L766.08 463.87L766.3 464.04L766.35 464.07L766.61 464.22L766.8 464.31L766.88 464.34L767.15 464.44L767.3 464.49L767.42 464.52L767.68 464.59L767.8 464.61L767.95 464.64L768.22 464.69L768.3 464.7L768.8 464.77L769.3 464.82L769.8 464.86L770.3 464.89L770.8 464.92L771.3 464.94L771.8 464.95L772.3 464.97L772.8 464.98L773.3 464.99L773.8 465L774.3 465L774.8 465.01L775.3 465.02L775.8 465.02L776.3 465.02L776.8 465.03L777.3 465.03L777.8 465.03L778.3 465.04" stroke="#000" stroke-width="1.8" fill="none" stroke-linejoin="round"/>
<path d="M115.8 469.08L116.3 469.06L116.8 469.04L117.3 469.02L117.8 469L118.3 468.98L118.8 468.96L119.3 468.94L119.8 468.92L120.3 468.9L120.8 468.88L121.3 468.86L121.8 468.84L122.3 468.82L122.8 468.8L123.3 468.78L123.8 468.75L124.3 468.73L124.8 468.71L125.3 468.69L125.8 468.67L126.3 468.65L126.8 468.63L127.3 468.61L127.8 468.59L128.3 468.57L128.8 468.55L129.3 468.53L129.8 468.51L130.3 468.49L130.8 468.47L131.3 468.45L131.8 468.42L132.3 468.4L132.8 468.38L133.3 468.36L133.8 468.34L134.3 468.32L134.8 468.3L135.3 468.28L135.8 468.26L136.3 468.24L136.8 468.22L137.3 468.2L137.8 468.18L138.3 468.16L138.8 468.14L139.3 468.11L139.8 468.09L140.3 468.07L140.8 468.05L141.3 468.03L141.8 468.01L142.3 467.99L142.8 467.97L143.3 467.95L143.8 467.93L144.3 467.91L144.8 467.89L145.3 467.87L145.8 467.85L146.3 467.82L146.8 467.8L147.3 467.78L147.8 467.76L148.3 467.74L148.8 467.72L149.3 467.7L149.8 467.68L150.3 467.66L150.8 467.64L151.3 467.63L151.8 467.61L152.3 467.59L152.8 467.58L153.3 467.56L153.8 467.54L154.3 467.53L154.8 467.51L155.3 467.49L155.8 467.48L156.3 467.46L156.8 467.44L157.3 467.43L157.8 467.41L158.3 467.39L158.8 467.37L159.3 467.36L159.8 467.34L160.3 467.32L160.8 467.31L161.3 467.29L161.8 467.27L162.3 467.25L162.8 467.24L163.3 467.22L163.8 467.2L164.3 467.18L164.8 467.17L165.3 467.15L165.8 467.13L166.3 467.11L166.8 467.09L167.3 467.08L167.8 467.06L168.3 467.04L168.8 467.02L169.3 467L169.8 466.98L170.3 466.96L170.8 466.94L171.3 466.92L171.8 466.9L172.3 466.88L172.8 466.86L173.3 466.84L173.8 466.81L174.3 466.79L174.8 466.77L175.3 466.74L175.8 466.71L176.3 466.69L176.8 466.66L177.3 466.63L177.8 466.59L178.3 466.55L178.8 466.51L179.3 466.47L179.8 466.42L180.3 466.36L180.8 466.29L181.3 466.2L181.8 466.1L182.3 465.97L182.75 465.82L182.8 465.8L182.93 465.74L183.11 465.66L183.29 465.57L183.3 465.57L183.47 465.47L183.66 465.35L183.8 465.24L183.84 465.21L184.02 465.06L184.2 464.87L184.3 464.76L184.38 464.65L184.56 464.4L184.74 464.09L184.8 463.98L184.93 463.71L185.11 463.25L185.29 462.67L185.3 462.62L185.47 461.94L185.65 461L185.8 460.01L185.83 459.77L186.01 458.15L186.19 455.97L186.3 454.39L186.38 453.1L186.4 452.63L186.56 449.39L186.58 448.81L186.74 445L186.76 444.37L186.8 443.42L186.92 440.66L186.94 440.14L187.1 437.81L187.12 437.6L187.2 437.3L187.28 437.5L187.3 437.62L187.31 437.66L187.46 439.66L187.49 440.1L187.64 443.4L187.67 443.98L187.8 447.08L187.82 447.66L187.85 448.23L188.01 451.57L188.03 452.06L188.19 454.77L188.21 455.15L188.3 456.36L188.37 457.21L188.39 457.5L188.55 459.04L188.57 459.26L188.73 460.42L188.8 460.86L188.91 461.48L189.09 462.29L189.28 462.92L189.3 462.99L189.46 463.42L189.64 463.82L189.8 464.12L189.82 464.15L190 464.42L190.18 464.65L190.3 464.78L190.36 464.84L190.54 465L190.72 465.13L190.8 465.18L190.91 465.25L191.09 465.35L191.27 465.44L191.3 465.46L191.45 465.52L191.8 465.64L192.3 465.78L192.8 465.87L193.3 465.95L193.8 466.01L194.3 466.05L194.8 466.08L195.3 466.11L195.8 466.13L196.3 466.15L196.8 466.16L197.3 466.17L197.8 466.18L198.3 466.18L198.8 466.19L199.3 466.19L199.8 466.19L200.3 466.19L200.8 466.19L201.3 466.19L201.8 466.19L202.3 466.19L202.8 466.19L203.3 466.18L203.8 466.18L204.3 466.18L204.8 466.17L205.3 466.17L205.8 466.17L206.3 466.16L206.8 466.16L207.3 466.15L207.8 466.15L208.3 466.14L208.8 466.14L209.3 466.13L209.8 466.13L210.3 466.12L210.8 466.11L211.3 466.11L211.8 466.1L212.3 466.1L212.8 466.09L213.3 466.08L213.8 466.08L214.3 466.07L214.8 466.07L215.3 466.06L215.8 466.05L216.3 466.05L216.8 466.04L217.3 466.03L217.8 466.03L218.3 466.02L218.8 466.01L219.3 466.01L219.8 466L220.3 465.99L220.8 465.99L221.3 465.98L221.8 465.97L222.3 465.97L222.8 465.96L223.3 465.95L223.8 465.95L224.3 465.94L224.8 465.93L225.3 465.93L225.8 465.92L226.3 465.91L226.8 465.9L227.3 465.9L227.8 465.89L228.3 465.88L228.8 465.88L229.3 465.87L229.8 465.86L230.3 465.85L230.8 465.85L231.3 465.84L231.8 465.83L232.3 465.83L232.8 465.82L233.3 465.81L233.8 465.8L234.3 465.8L234.8 465.79L235.3 465.78L235.8 465.77L236.3 465.77L236.8 465.76L237.3 465.75L237.8 465.74L238.3 465.74L238.8 465.73L239.3 465.72L239.8 465.71L240.3 465.71L240.8 465.71L241.3 465.71L241.8 465.71L242.3 465.71L242.8 465.71L243.3 465.71L243.8 465.71L244.3 465.71L244.8 465.71L245.3 465.71L245.8 465.71L246.3 465.71L246.8 465.71L247.3 465.71L247.8 465.71L248.3 465.71L248.8 465.71L249.3 465.71L249.8 465.71L250.3 465.71L250.8 465.71L251.3 465.71L251.8 465.71L252.3 465.71L252.8 465.71L253.3 465.7L253.8 465.7L254.3 465.7L254.8 465.7L255.3 465.7L255.8 465.7L256.3 465.69L256.8 465.69L257.3 465.69L257.8 465.69L258.3 465.68L258.8 465.68L259.3 465.68L259.8 465.67L260.3 465.67L260.8 465.67L261.3 465.66L261.8 465.66L262.3 465.65L262.8 465.65L263.3 465.64L263.8 465.63L264.3 465.63L264.8 465.62L265.3 465.61L265.8 465.6L266.3 465.59L266.8 465.58L267.3 465.57L267.8 465.56L268.3 465.55L268.8 465.53L269.3 465.52L269.8 465.5L270.3 465.48L270.8 465.46L271.3 465.43L271.8 465.4L272.3 465.37L272.8 465.34L273.3 465.3L273.8 465.26L274.3 465.21L274.8 465.16L275.3 465.1L275.8 465.03L276.3 464.95L276.8 464.86L277.3 464.75L277.8 464.62L278.3 464.47L278.8 464.28L279.3 464.05L279.8 463.77L280.3 463.42L280.8 462.96L281.19 462.5L281.3 462.35L281.39 462.23L281.59 461.92L281.78 461.57L281.8 461.54L281.98 461.17L282.17 460.72L282.3 460.39L282.37 460.19L282.57 459.57L282.76 458.85L282.8 458.7L282.96 458L283.15 456.99L283.3 456.11L283.35 455.77L283.55 454.29L283.74 452.45L283.8 451.84L283.94 450.17L284.13 447.27L284.3 444.21L284.33 443.55L284.53 438.69L284.72 432.27L284.8 429.2L284.92 423.66L285.12 412.28L285.3 398.67L285.31 397.68L285.37 392.7L285.51 380.52L285.57 375.24L285.7 363.89L285.76 359.79L285.8 357.56L285.9 353.1L285.96 351.63L286.02 351L286.1 351.41L286.15 352.5L286.29 357.02L286.3 357.35L286.35 359.68L286.49 366.98L286.55 370.72L286.68 380.16L286.74 384.64L286.8 388.91L286.88 395.02L286.94 399.52L287.08 409.2L287.14 413.02L287.27 420.96L287.3 422.37L287.33 423.98L287.47 430.12L287.53 432.42L287.67 437.07L287.72 438.81L287.8 440.84L287.86 442.33L288.06 446.34L288.25 449.45L288.3 450.09L288.45 451.89L288.64 453.83L288.8 455.09L288.84 455.39L289.04 456.68L289.23 457.73L289.3 458.05L289.43 458.62L289.63 459.37L289.8 459.94L289.82 460L290.02 460.55L290.21 461.01L290.3 461.19L290.41 461.41L290.61 461.76L290.8 462.07L291.3 462.7L291.8 463.18L292.3 463.54L292.8 463.82L293.3 464.04L293.8 464.21L294.3 464.35L294.8 464.46L295.3 464.56L295.8 464.63L296.3 464.69L296.8 464.74L297.3 464.78L297.8 464.81L298.3 464.84L298.8 464.86L299.3 464.88L299.8 464.89L300.3 464.89L300.8 464.89L301.3 464.89L301.8 464.89L302.3 464.89L302.8 464.88L303.3 464.87L303.8 464.85L304.3 464.84L304.8 464.82L305.3 464.81L305.8 464.78L306.3 464.76L306.8 464.74L307.3 464.71L307.8 464.68L308.3 464.65L308.8 464.62L309.3 464.58L309.8 464.55L310.3 464.51L310.8 464.48L311.3 464.45L311.8 464.41L312.3 464.37L312.8 464.33L313.3 464.28L313.8 464.22L314.3 464.16L314.8 464.1L315.3 464.02L315.8 463.95L316.3 463.86L316.8 463.76L317.3 463.65L317.8 463.53L318.3 463.39L318.8 463.24L319.3 463.07L319.8 462.87L320.3 462.65L320.8 462.39L321.3 462.1L321.8 461.75L322.3 461.35L322.8 460.87L323.3 460.3L323.8 459.6L324.3 458.76L324.8 457.7L325.3 456.37L325.8 454.66L326.03 453.7L326.24 452.74L326.3 452.41L326.44 451.66L326.64 450.44L326.8 449.35L326.84 449.04L327.05 447.43L327.25 445.58L327.3 445.07L327.45 443.42L327.65 440.9L327.8 438.82L327.86 437.93L328.06 434.38L328.26 430.1L328.3 429.23L328.47 424.89L328.67 418.47L328.8 413.51L328.87 410.46L329.07 400.36L329.28 387.32L329.3 385.61L329.48 370.3L329.48 370M332.85 370L332.89 373.25L332.93 376.84L333.13 392.38L333.3 402.53L333.33 404.33L333.54 413.65L333.74 421.03L333.8 422.92L333.94 426.96L334.14 431.75L334.3 434.85L334.35 435.72L334.55 439.02L334.75 441.79L334.8 442.36L334.96 444.14L335.16 446.15L335.3 447.36L335.36 447.87L335.56 449.36L335.77 450.66L335.8 450.85L336.3 453.37L336.8 455.23L337.3 456.63L337.8 457.7L338.3 458.51L338.8 459.12L339.3 459.55L339.58 459.72L339.79 459.82L339.8 459.82L339.99 459.88L340.2 459.92L340.3 459.93L340.4 459.93L340.61 459.9L340.8 459.85L340.81 459.84L341.02 459.74L341.22 459.58L341.3 459.51L341.43 459.37L341.63 459.09L341.8 458.79L341.84 458.72L342.04 458.24L342.25 457.63L342.3 457.43L342.45 456.83L342.66 455.79L342.8 454.87L342.86 454.42L343.07 452.61L343.27 450.18L343.3 449.78L343.48 446.93L343.68 442.61L343.8 439.49L343.88 437.03L344.08 430.84L344.09 430.48L344.28 424.51L344.3 424.22L344.3 424.08L344.49 420.43L344.5 420.31L344.63 419.7L344.69 419.89L344.7 419.95L344.8 420.75L344.9 421.96L344.91 422.11L345.1 425.11L345.12 425.29L345.3 428.83L345.31 429.02L345.32 429.26L345.51 433.93L345.52 434.19L345.72 439.28L345.73 439.56L345.8 441.35L345.92 444.24L345.93 444.48L346.13 448.31L346.14 448.5L346.3 451.02L346.33 451.47L346.34 451.62L346.54 453.88L346.55 453.99L346.75 455.8L346.8 456.14L346.96 457.19L347.16 458.28L347.3 458.88L347.37 459.15L347.57 459.85L347.78 460.43L347.8 460.49L347.98 460.91L348.19 461.31L348.3 461.5L348.39 461.65L348.6 461.94L348.8 462.18L348.8 462.19L349.01 462.4L349.21 462.6L349.3 462.67L349.42 462.76L349.8 463.03L350.3 463.31L350.8 463.53L351.3 463.71L351.8 463.85L352.3 463.97L352.8 464.08L353.3 464.16L353.8 464.24L354.3 464.31L354.8 464.37L355.3 464.42L355.8 464.47L356.3 464.51L356.8 464.55L357.3 464.58L357.8 464.61L358.3 464.64L358.8 464.67L359.3 464.69L359.8 464.71L360.3 464.74L360.8 464.75L361.3 464.77L361.8 464.79L362.3 464.8L362.8 464.82L363.3 464.83L363.8 464.84L364.3 464.85L364.8 464.86L365.3 464.87L365.8 464.88L366.3 464.88L366.8 464.89L367.3 464.9L367.8 464.9L368.3 464.91L368.8 464.91L369.3 464.92L369.8 464.92L370.3 464.93L370.8 464.93L371.3 464.94L371.8 464.95L372.3 464.95L372.8 464.96L373.3 464.96L373.8 464.97L374.3 464.97L374.8 464.97L375.3 464.97L375.8 464.97L376.3 464.97L376.8 464.97L377.3 464.97L377.8 464.97L378.3 464.96L378.8 464.96L379.3 464.95L379.8 464.94L380.3 464.93L380.8 464.92L381.3 464.91L381.8 464.89L382.3 464.87L382.8 464.85L383.3 464.82L383.8 464.79L384.3 464.75L384.8 464.7L385.3 464.65L385.8 464.59L386.3 464.51L386.8 464.42L387.3 464.31L387.8 464.17L388.3 464L388.8 463.79L389.3 463.52L389.6 463.32L389.8 463.17L389.81 463.15L390.03 462.97L390.24 462.76L390.3 462.69L390.45 462.52L390.66 462.24L390.8 462.04L390.88 461.92L391.09 461.55L391.3 461.11L391.3 461.11L391.51 460.59L391.73 459.98L391.8 459.74L391.94 459.24L392.15 458.34L392.3 457.58L392.36 457.22L392.58 455.83L392.79 454.08L392.8 453.96L393 451.81L393.21 448.86L393.3 447.39L393.43 444.95L393.64 439.75L393.8 434.67L393.85 432.88L394.06 424.05L394.27 413.79L394.3 412.56L394.38 408.81L394.49 404.03L394.59 400.54L394.7 398.17L394.8 397.41L394.8 397.4L394.81 397.4L394.91 397.95L395.01 399.41L395.12 401.52L395.23 403.66L395.3 405.21L395.34 405.99L395.44 408.22L395.55 410.78L395.65 413.5L395.76 416.87L395.8 418.14L395.86 420.38L395.97 424.41L396.08 428.23L396.19 432.17L396.29 435.57L396.3 435.92L396.4 438.89L396.5 441.66L396.61 444.26L396.71 446.37L396.8 447.94L396.82 448.35L396.93 449.97L397.04 451.46L397.25 453.85L397.3 454.34L397.46 455.7L397.67 457.15L397.8 457.86L397.89 458.3L398.1 459.23L398.3 459.97L398.31 460L398.52 460.63L398.74 461.17L398.8 461.31L398.95 461.61L399.16 462L399.3 462.22L399.37 462.32L399.58 462.61L399.8 462.86L399.8 462.86L400.3 463.33L400.8 463.69L401.3 463.96L401.8 464.18L402.3 464.36L402.8 464.5L403.3 464.62L403.8 464.72L404.3 464.81L404.8 464.88L405.3 464.95L405.8 465L406.3 465.05L406.8 465.09L407.3 465.13L407.8 465.17L408.3 465.2L408.8 465.23L409.3 465.26L409.8 465.28L410.3 465.3L410.8 465.32L411.3 465.34L411.8 465.36L412.3 465.37L412.8 465.39L413.3 465.4L413.8 465.42L414.3 465.43L414.8 465.44L415.3 465.45L415.8 465.46L416.3 465.47L416.8 465.48L417.3 465.49L417.8 465.5L418.3 465.51L418.8 465.51L419.3 465.52L419.8 465.52L420.3 465.53L420.8 465.53L421.3 465.54L421.8 465.54L422.3 465.54L422.8 465.53L423.3 465.53L423.48 465.52L423.7 465.52L423.8 465.52L423.92 465.51L424.13 465.51L424.3 465.5L424.35 465.5L424.57 465.49L424.79 465.48L424.8 465.48L425 465.47L425.22 465.45L425.3 465.44L425.44 465.43L425.65 465.4L425.8 465.39L425.87 465.37L426.09 465.34L426.3 465.29L426.31 465.29L426.52 465.23L426.74 465.16L426.8 465.13L426.96 465.06L427.18 464.93L427.3 464.84L427.39 464.76L427.61 464.54L427.8 464.28L427.83 464.23L428.05 463.85L428.26 463.4L428.3 463.33L428.45 463.04L428.48 462.98L428.67 462.75L428.7 462.73L428.8 462.7L428.81 462.7L428.88 462.72L428.92 462.73L429.1 462.87L429.13 462.91L429.3 463.06L429.32 463.07L429.35 463.1L429.54 463.26L429.57 463.29L429.75 463.47L429.79 463.51L429.8 463.52L429.97 463.76L430 463.81L430.19 464.09L430.22 464.14L430.3 464.26L430.4 464.41L430.44 464.45L430.62 464.67L430.66 464.71L430.8 464.84L430.84 464.88L430.88 464.91L431.06 465.04L431.09 465.06L431.3 465.17L431.31 465.17L431.53 465.26L431.75 465.33L431.8 465.35L431.96 465.39L432.18 465.44L432.3 465.46L432.4 465.47L432.62 465.5L432.8 465.53L432.83 465.53L433.05 465.55L433.27 465.57L433.3 465.58L433.49 465.59L433.7 465.61L433.8 465.61L433.92 465.62L434.3 465.64L434.8 465.66L435.3 465.68L435.8 465.7L436.3 465.71L436.8 465.72L437.3 465.73L437.8 465.74L438.3 465.75L438.8 465.76L439.3 465.76L439.8 465.77L440.3 465.78L440.8 465.78L441.3 465.79L441.8 465.79L442.3 465.8L442.8 465.8L443.3 465.81L443.8 465.82L444.3 465.82L444.8 465.82L445.3 465.83L445.8 465.83L446.3 465.84L446.8 465.84L447.3 465.85L447.8 465.85L448.3 465.85L448.8 465.86L449.3 465.86L449.8 465.87L450.3 465.87L450.8 465.87L451.3 465.86L451.8 465.86L452.3 465.86L452.8 465.86L453.3 465.86L453.8 465.85L454.3 465.85L454.8 465.85L455.3 465.85L455.8 465.84L456.3 465.84L456.8 465.84L457.3 465.83L457.8 465.83L458.3 465.83L458.8 465.82L459.3 465.82L459.8 465.82L460.3 465.81L460.8 465.81L461.3 465.8L461.8 465.8L462.3 465.79L462.8 465.78L463.3 465.78L463.8 465.77L464.3 465.76L464.8 465.76L465.3 465.75L465.8 465.74L466.3 465.73L466.8 465.71L467.3 465.7L467.8 465.69L468.3 465.67L468.8 465.66L469.3 465.64L469.8 465.62L470.3 465.59L470.8 465.56L471.3 465.53L471.8 465.5L472.3 465.46L472.8 465.41L473.3 465.35L473.8 465.28L474.3 465.2L474.8 465.1L475.3 464.98L475.69 464.86L475.8 464.82L475.92 464.77L476.14 464.68L476.3 464.61L476.37 464.58L476.59 464.46L476.8 464.34L476.82 464.33L477.04 464.17L477.27 463.99L477.3 463.97L477.49 463.78L477.72 463.53L477.8 463.43L477.94 463.24L478.17 462.88L478.3 462.65L478.4 462.45L478.62 461.92L478.8 461.41L478.85 461.26L479.07 460.42L479.3 459.34L479.3 459.32L479.52 457.94L479.75 456.07L479.8 455.56L479.97 453.61L480.2 450.32L480.3 448.56L480.42 446.15L480.65 441.31L480.8 438.15L480.88 436.78L480.96 435.47L481.1 434.22L481.19 434L481.19 434L481.3 434.32L481.32 434.47L481.41 435.16L481.55 436.54L481.64 437.44L481.78 438.74L481.8 438.94L481.86 439.44L482 440.41L482.09 441L482.23 442.04L482.3 442.7L482.31 442.84L482.45 444.43L482.54 445.61L482.68 447.65L482.76 448.97L482.8 449.5L482.9 451.01L482.99 452.22L483.13 453.96L483.22 454.95L483.3 455.8L483.35 456.31L483.44 457.07L483.58 458.11L483.67 458.69L483.8 459.46L483.8 459.48L484.03 460.53L484.25 461.35L484.3 461.49L484.48 461.99L484.71 462.5L484.8 462.68L484.93 462.91L485.16 463.25L485.3 463.43L485.38 463.53L485.61 463.76L485.8 463.93L485.83 463.96L486.06 464.13L486.28 464.27L486.3 464.28L486.51 464.4L486.8 464.54L487.3 464.72L487.8 464.86L488.3 464.97L488.8 465.05L489.3 465.12L489.8 465.17L490.3 465.21L490.8 465.24L491.3 465.27L491.8 465.28L492.3 465.3L492.8 465.3L493.3 465.3L493.8 465.3L494.3 465.3L494.8 465.29L495.3 465.27L495.8 465.25L496.3 465.23L496.8 465.21L497.3 465.18L497.8 465.14L498.3 465.1L498.8 465.05L499.3 465L499.8 464.93L500.3 464.86L500.8 464.78L501.3 464.68L501.8 464.56L502.3 464.43L502.8 464.27L503.3 464.08L503.8 463.85L504.3 463.56L504.8 463.22L505.3 462.78L505.48 462.59L505.71 462.33L505.8 462.22L505.94 462.03L506.17 461.69L506.3 461.49L506.4 461.31L506.63 460.87L506.8 460.51L506.86 460.36L507.09 459.77L507.3 459.16L507.32 459.09L507.55 458.27L507.78 457.3L507.8 457.22L508.01 456.13L508.24 454.71L508.3 454.3L508.47 452.96L508.7 450.77L508.8 449.67L508.93 448.01L509.16 444.46L509.3 441.81L509.39 439.82L509.62 433.68L509.8 427.53L509.85 425.51L510.08 414.7L510.3 401.62L510.31 400.96L510.54 384.98L510.77 370.14L510.8 368.57L510.93 363.38L511 361.89L511.09 361.3L511.16 361.85L511.23 363.12L511.3 364.98L511.39 367.96L511.46 370.42L511.62 375.99L511.69 378.09L511.8 380.94L511.85 382.07L511.92 383.42L512.08 386.37L512.15 387.71L512.3 391.46L512.31 391.76L512.38 393.99L512.54 400.37L512.61 403.49L512.77 411.16L512.8 412.59L512.84 414.44L513 421.69L513.07 424.55L513.23 430.54L513.3 432.78L513.3 432.84L513.46 437.46L513.53 439.17L513.69 442.74L513.76 444.05L513.8 444.8L513.99 447.77L514.22 450.65L514.3 451.51L514.45 452.9L514.68 454.7L514.8 455.5L514.91 456.14L515.14 457.32L515.3 458.03L515.37 458.3L515.6 459.12L515.8 459.73L515.83 459.81L516.06 460.39L516.29 460.9L516.3 460.93L516.52 461.33L516.8 461.8L517.3 462.45L517.8 462.96L518.3 463.35L518.8 463.67L519.3 463.93L519.8 464.14L520.3 464.31L520.8 464.46L521.3 464.59L521.8 464.7L522.3 464.79L522.8 464.87L523.3 464.94L523.8 465L524.3 465.05L524.8 465.09L525.3 465.14L525.8 465.17L526.3 465.2L526.8 465.23L527.3 465.25L527.8 465.28L528.3 465.29L528.8 465.31L529.3 465.33L529.8 465.34L530.3 465.35L530.8 465.36L531.3 465.36L531.8 465.37L532.3 465.37L532.8 465.37L533.3 465.37L533.8 465.37L534.3 465.37L534.8 465.36L535.3 465.36L535.8 465.35L536.3 465.34L536.8 465.33L537.3 465.32L537.8 465.31L538.3 465.3L538.8 465.28L539.3 465.26L539.8 465.24L540.3 465.22L540.8 465.2L541.3 465.17L541.8 465.14L542.3 465.1L542.8 465.07L543.3 465.03L543.8 464.98L544.3 464.93L544.8 464.87L545.3 464.81L545.8 464.73L546.3 464.65L546.8 464.56L547.3 464.45L547.8 464.33L548.3 464.19L548.8 464.03L549.3 463.84L549.8 463.62L550.3 463.35L550.8 463.03L551.3 462.64L551.8 462.15L552.3 461.55L552.31 461.53L552.55 461.19L552.79 460.8L552.8 460.78L553.02 460.36L553.26 459.86L553.3 459.77L553.5 459.28L553.74 458.62L553.8 458.42L553.97 457.85L554.21 456.94L554.3 456.56L554.45 455.88L554.68 454.61L554.8 453.9L554.92 453.09L555.16 451.23L555.3 449.91L555.39 448.94L555.63 446.09L555.8 443.6L555.87 442.47L556.11 437.82L556.3 432.96L556.34 431.76L556.58 423.73L556.8 413.87L556.82 413.05L557.05 398.98L557.29 380.97L557.3 380.04L557.53 360.15L557.76 340.93L557.8 338.54L558 330.57L558.05 330.05L558.06 330L558.24 332.92L558.28 334.61L558.3 335.25L558.47 343.44L558.52 345.78L558.71 354.39L558.76 356.16L558.8 357.59L558.95 361.58L559 362.54L559.18 365.67L559.23 366.46L559.3 367.73L559.42 370.68L559.47 372.18L559.66 380.05L559.71 382.49L559.8 387.65L559.89 393.15L559.94 395.96L560.13 406.74L560.18 409.26L560.3 415.32L560.37 418.5L560.42 420.54L560.61 427.82L560.65 429.39L560.8 433.8L560.84 434.95L560.89 436.15L561.08 440.39L561.3 444.3L561.32 444.56L561.55 447.81L561.79 450.37L561.8 450.47L562.03 452.43L562.26 454.1L562.3 454.33L562.5 455.47L562.74 456.62L562.8 456.89L562.98 457.58L563.21 458.4L563.3 458.67L563.45 459.1L563.69 459.7L563.8 459.96L564.3 460.92L564.8 461.66L565.3 462.24L565.8 462.71L566.3 463.08L566.8 463.39L567.3 463.65L567.8 463.86L568.3 464.04L568.8 464.2L569.3 464.33L569.8 464.45L570.3 464.55L570.8 464.64L571.3 464.72L571.8 464.79L572.3 464.85L572.8 464.91L573.3 464.96L573.8 465L574.3 465.04L574.8 465.07L575.3 465.11L575.8 465.13L576.3 465.16L576.8 465.18L577.3 465.2L577.8 465.21L578.3 465.23L578.8 465.24L579.12 465.24L579.3 465.24L579.36 465.24L579.6 465.24L579.8 465.24L579.84 465.24L580.08 465.24L580.3 465.24L580.32 465.24L580.56 465.24L580.8 465.23L580.8 465.23L581.04 465.22L581.29 465.21L581.3 465.21L581.53 465.19L581.77 465.17L581.8 465.17L582.01 465.15L582.25 465.12L582.3 465.11L582.49 465.07L582.73 465.02L582.8 465L582.97 464.95L583.21 464.85L583.3 464.81L583.45 464.72L583.7 464.55L583.8 464.46L583.94 464.32L584.18 464.02L584.3 463.85L584.42 463.68L584.66 463.37L584.8 463.25L584.9 463.21L584.96 463.2L585.02 463.21L585.14 463.26L585.26 463.34L585.3 463.37L585.38 463.44L585.5 463.54L585.62 463.64L585.74 463.71L585.8 463.74L585.86 463.76L585.98 463.8L586.11 463.83L586.22 463.85L586.3 463.87L586.35 463.89L586.46 463.94L586.59 464.01L586.71 464.1L586.8 464.19L586.83 464.21L586.95 464.32L587.07 464.44L587.19 464.54L587.3 464.64L587.31 464.64L587.43 464.73L587.55 464.81L587.67 464.88L587.79 464.94L587.8 464.94L587.91 464.99L588.03 465.04L588.27 465.11L588.3 465.12L588.51 465.17L588.75 465.22L588.8 465.23L589 465.26L589.24 465.29L589.3 465.29L589.48 465.31L589.72 465.33L589.8 465.34L589.96 465.35L590.2 465.37L590.3 465.37L590.44 465.38L590.68 465.39L590.8 465.4L591.3 465.42L591.8 465.43L592.3 465.44L592.8 465.45L593.3 465.46L593.8 465.47L594.3 465.47L594.8 465.48L595.3 465.48L595.8 465.49L596.3 465.49L596.8 465.49L597.3 465.5L597.8 465.5L598.3 465.5L598.8 465.5L599.3 465.5L599.8 465.5L600.3 465.51L600.8 465.51L601.3 465.51L601.8 465.51L602.3 465.51L602.8 465.51L603.3 465.51L603.8 465.51L604.3 465.51L604.8 465.5L605.3 465.5L605.8 465.5L606.3 465.5L606.8 465.5L607.3 465.5L607.8 465.5L608.3 465.5L608.8 465.49L609.3 465.49L609.8 465.49L610.3 465.49L610.8 465.48L611.3 465.48L611.8 465.48L612.3 465.47L612.8 465.47L613.3 465.47L613.8 465.46L614.3 465.46L614.8 465.45L615.3 465.45L615.8 465.44L616.3 465.43L616.8 465.42L617.3 465.41L617.8 465.41L618.3 465.39L618.8 465.38L619.3 465.37L619.8 465.35L620.3 465.33L620.8 465.31L621.3 465.29L621.8 465.25L622.3 465.22L622.76 465.17L622.8 465.17L623.01 465.15L623.25 465.12L623.3 465.11L623.5 465.08L623.75 465.05L623.8 465.04L624 465L624.25 464.95L624.3 464.94L624.49 464.89L624.74 464.83L624.8 464.81L624.99 464.75L625.24 464.65L625.3 464.62L625.48 464.54L625.73 464.4L625.8 464.36L625.98 464.23L626.23 464.02L626.3 463.94L626.47 463.75L626.72 463.4L626.8 463.27L626.97 462.96L627.22 462.36L627.3 462.11L627.46 461.57L627.71 460.52L627.8 460.07L627.96 459.2L628.21 457.66L628.3 457.08L628.45 456.26L628.7 455.53L628.75 455.5L628.8 455.51L628.94 455.75L628.95 455.77L629.19 456.62L629.2 456.65L629.3 457.06L629.44 457.55L629.44 457.57L629.68 458.17L629.69 458.19L629.8 458.34L629.93 458.44L629.94 458.45L630.18 458.55L630.18 458.55L630.3 458.65L630.43 458.84L630.43 458.85L630.67 459.51L630.68 459.53L630.8 459.96L630.92 460.44L630.93 460.46L631.17 461.38L631.17 461.4L631.3 461.83L631.42 462.19L631.42 462.21L631.66 462.82L631.67 462.83L631.8 463.1L631.91 463.3L631.92 463.31L632.16 463.68L632.3 463.84L632.41 463.96L632.66 464.17L632.8 464.28L632.91 464.35L633.15 464.48L633.3 464.55L633.4 464.6L633.65 464.69L633.8 464.74L633.9 464.76L634.14 464.83L634.3 464.86L634.39 464.88L634.64 464.93L634.8 464.95L635.3 465.02L635.8 465.07L636.3 465.1L636.8 465.13L637.3 465.15L637.8 465.17L638.3 465.17L638.8 465.18L639.3 465.18L639.8 465.18L640.3 465.18L640.8 465.17L641.3 465.16L641.8 465.15L642.3 465.14L642.8 465.12L643.3 465.1L643.8 465.07L644.3 465.04L644.8 465.01L645.3 464.97L645.8 464.92L646.3 464.86L646.8 464.79L647.3 464.7L647.8 464.6L648.07 464.53L648.3 464.47L648.32 464.47L648.57 464.39L648.8 464.31L648.82 464.3L649.07 464.2L649.3 464.1L649.33 464.08L649.58 463.95L649.8 463.82L649.83 463.8L650.08 463.62L650.3 463.44L650.33 463.41L650.58 463.16L650.8 462.9L650.83 462.86L651.08 462.5L651.3 462.12L651.34 462.05L651.59 461.49L651.8 460.9L651.84 460.79L652.09 459.88L652.3 458.91L652.34 458.7L652.59 457.14L652.8 455.47L652.84 455.07L653.1 452.32L653.3 449.52L653.35 448.83L653.6 444.82L653.8 441.76L653.85 441.14L654.1 439.26L654.15 439.2L654.3 439.62L654.35 439.95L654.42 440.48L654.6 442.33L654.67 443.03L654.8 444.34L654.85 444.83L654.92 445.38L655.11 446.53L655.17 446.8L655.3 447.14L655.36 447.23L655.42 447.29L655.61 447.35L655.67 447.39L655.8 447.58L655.86 447.75L655.93 448L655.94 448.07L656.11 449.12L656.18 449.65L656.19 449.77L656.3 450.76L656.36 451.35L656.43 452L656.45 452.17L656.61 453.79L656.68 454.41L656.7 454.57L656.8 455.44L656.86 455.94L656.93 456.44L656.95 456.58L657.12 457.65L657.18 458.03L657.2 458.13L657.3 458.63L657.37 458.93L657.43 459.22L657.46 459.3L657.62 459.89L657.71 460.17L657.8 460.42L657.87 460.59L657.96 460.8L658.12 461.11L658.21 461.25L658.3 461.38L658.37 461.47L658.47 461.57L658.62 461.71L658.72 461.78L658.8 461.82L658.88 461.86L658.97 461.89L659.13 461.9L659.22 461.9L659.3 461.88L659.38 461.86L659.48 461.81L659.63 461.71L659.73 461.62L659.8 461.54L659.88 461.45L659.98 461.3L660.13 461.03L660.23 460.82L660.3 460.66L660.49 460.12L660.74 459.14L660.8 458.85L660.99 457.81L661.24 456.08L661.3 455.63L661.5 454.07L661.75 452.23L661.8 451.94L662 451.32L662.05 451.3L662.25 451.74L662.3 451.94L662.34 452.14L662.5 453.03L662.6 453.55L662.76 454.4L662.8 454.59L662.85 454.79L663.01 455.34L663.1 455.54L663.26 455.75L663.3 455.78L663.35 455.8L663.51 455.85L663.61 455.88L663.77 456.04L663.8 456.09L663.86 456.21L664.02 456.72L664.11 457.1L664.27 457.88L664.3 458.03L664.36 458.35L664.52 459.19L664.62 459.63L664.78 460.36L664.8 460.46L664.87 460.72L665.03 461.31L665.12 461.59L665.28 462.04L665.3 462.08L665.37 462.25L665.53 462.6L665.79 463.03L665.8 463.04L666.04 463.36L666.29 463.63L666.3 463.63L666.54 463.84L666.8 464.02L666.8 464.02L667.05 464.16L667.3 464.28L667.3 464.28L667.55 464.39L667.8 464.47L667.81 464.47L668.06 464.55L668.3 464.61L668.8 464.72L669.3 464.81L669.8 464.87L670.3 464.93L670.8 464.98L671.3 465.01L671.8 465.05L672.3 465.07L672.8 465.1L673.3 465.12L673.8 465.14L674.3 465.15L674.8 465.17L675.3 465.18L675.8 465.19L676.3 465.2L676.8 465.2L677.3 465.21L677.8 465.22L678.3 465.22L678.8 465.23L679.3 465.23L679.8 465.23L680.3 465.24L680.8 465.24L681.3 465.24L681.8 465.24L682.3 465.24L682.8 465.24L683.3 465.24L683.8 465.24L684.3 465.23L684.8 465.23L685.3 465.23L685.8 465.22L686.3 465.22L686.8 465.21L687.3 465.2L687.8 465.19L688.3 465.17L688.8 465.16L689.3 465.14L689.8 465.11L689.82 465.11L690.08 465.1L690.3 465.08L690.33 465.08L690.59 465.06L690.8 465.04L690.85 465.04L691.11 465.01L691.3 464.99L691.36 464.98L691.62 464.95L691.8 464.92L691.88 464.91L692.14 464.86L692.3 464.83L692.39 464.8L692.65 464.74L692.8 464.69L692.91 464.65L693.17 464.55L693.3 464.49L693.42 464.42L693.68 464.26L693.8 464.17L693.94 464.05L694.2 463.78L694.3 463.65L694.45 463.42L694.71 462.94L694.8 462.74L694.97 462.31L695.23 461.5L695.3 461.25L695.49 460.57L695.74 459.73L695.8 459.59L696 459.31L696.06 459.3L696.26 459.49L696.3 459.57L696.45 459.92L696.51 460.08L696.71 460.57L696.77 460.71L696.8 460.76L696.97 461.07L697.03 461.15L697.23 461.32L697.29 461.35L697.3 461.35L697.48 461.37L697.55 461.36L697.74 461.34L697.8 461.35L697.8 461.35L698 461.45L698.06 461.51L698.26 461.81L698.3 461.89L698.32 461.93L698.51 462.35L698.58 462.48L698.77 462.9L698.8 462.96L698.83 463.03L699.03 463.38L699.09 463.48L699.29 463.75L699.3 463.77L699.35 463.83L699.54 464.04L699.61 464.1L699.8 464.25L699.86 464.3L700.12 464.46L700.3 464.55L700.38 464.58L700.64 464.68L700.8 464.73L700.89 464.76L701.15 464.82L701.3 464.85L701.41 464.87L701.67 464.92L701.8 464.94L701.92 464.96L702.18 464.99L702.3 465L702.8 465.05L703.3 465.08L703.8 465.11L704.3 465.13L704.8 465.15L705.3 465.16L705.8 465.18L706.3 465.18L706.8 465.19L707.3 465.2L707.8 465.2L708.3 465.21L708.8 465.21L709.3 465.22L709.8 465.22L710.3 465.22L710.8 465.22L711.3 465.22L711.8 465.22L712.3 465.22L712.8 465.22L713.3 465.22L713.8 465.22L714.3 465.22L714.73 465.22L714.8 465.22L714.99 465.22L715.25 465.22L715.3 465.22L715.51 465.21L715.77 465.21L715.8 465.21L716.03 465.21L716.3 465.21L716.3 465.21L716.56 465.2L716.8 465.2L716.82 465.2L717.08 465.2L717.3 465.19L717.34 465.19L717.6 465.18L717.8 465.18L717.86 465.18L718.12 465.17L718.3 465.16L718.39 465.15L718.65 465.14L718.8 465.13L718.91 465.12L719.17 465.09L719.3 465.08L719.43 465.06L719.69 465.02L719.8 464.99L719.96 464.96L720.22 464.88L720.3 464.86L720.48 464.8L720.74 464.72L720.8 464.71L721 464.68L721.03 464.68L721.26 464.7L721.3 464.71L721.52 464.75L721.54 464.76L721.78 464.81L721.8 464.82L721.8 464.82L722.04 464.86L722.06 464.86L722.3 464.88L722.31 464.88L722.32 464.88L722.57 464.88L722.59 464.88L722.8 464.87L722.83 464.87L722.85 464.87L723.09 464.88L723.11 464.88L723.3 464.9L723.35 464.91L723.37 464.91L723.61 464.95L723.63 464.96L723.8 464.99L723.88 465L723.89 465.01L724.14 465.05L724.15 465.05L724.3 465.07L724.4 465.08L724.41 465.08L724.66 465.11L724.68 465.11L724.8 465.12L724.92 465.13L725.18 465.14L725.3 465.15L725.44 465.15L725.7 465.16L725.8 465.17L725.97 465.17L726.23 465.18L726.3 465.18L726.49 465.18L726.75 465.18L726.8 465.18L727.01 465.19L727.27 465.19L727.3 465.19L727.8 465.19L728.3 465.19L728.8 465.2L729.3 465.2L729.8 465.2L730.3 465.2L730.8 465.2L731.3 465.2L731.8 465.2L732.3 465.19L732.8 465.19L733.3 465.19L733.8 465.19L734.3 465.19L734.8 465.19L735.3 465.19L735.8 465.19L736.3 465.18L736.8 465.18L737.3 465.18L737.8 465.18L738.3 465.18L738.8 465.17L739.3 465.17L739.8 465.17L740.3 465.17L740.8 465.17L741.3 465.16L741.8 465.16L742.3 465.16L742.8 465.15L743.3 465.15L743.8 465.15L744.3 465.15L744.8 465.14L745.3 465.14L745.8 465.13L746.3 465.13L746.8 465.13L747.3 465.12L747.8 465.12L748.3 465.11L748.8 465.1L749.3 465.1L749.8 465.09L750.3 465.08L750.8 465.07L751.3 465.06L751.8 465.05L752.3 465.04L752.8 465.03L753.3 465.01L753.8 464.99L754.3 464.97L754.8 464.94L755.3 464.91L755.38 464.9L755.65 464.88L755.8 464.87L755.92 464.86L756.18 464.83L756.3 464.82L756.45 464.8L756.72 464.77L756.8 464.75L756.99 464.72L757.25 464.68L757.3 464.67L757.52 464.62L757.79 464.56L757.8 464.56L758.05 464.49L758.3 464.4L758.32 464.39L758.59 464.28L758.8 464.18L758.86 464.15L759.12 463.98L759.3 463.84L759.39 463.76L759.66 463.49L759.8 463.31L759.93 463.12L760.2 462.65L760.3 462.42L760.46 462.01L760.73 461.17L760.8 460.91L761 460.09L761.26 458.86L761.3 458.7L761.53 457.74L761.8 457.21L761.84 457.2L762.07 457.49L762.3 458.21L762.34 458.33L762.49 458.89L762.6 459.24L762.76 459.69L762.8 459.78L762.87 459.92L763.03 460.17L763.14 460.28L763.3 460.34L763.3 460.34L763.4 460.33L763.56 460.26L763.67 460.2L763.8 460.13L763.83 460.12L763.94 460.11L764.1 460.19L764.21 460.32L764.3 460.49L764.37 460.62L764.48 460.88L764.63 461.31L764.74 461.6L764.8 461.76L764.9 462.02L765.01 462.29L765.17 462.64L765.28 462.85L765.3 462.89L765.44 463.12L765.54 463.29L765.7 463.5L765.8 463.61L765.81 463.62L766.08 463.87L766.3 464.04L766.35 464.07L766.61 464.22L766.8 464.31L766.88 464.34L767.15 464.44L767.3 464.49L767.42 464.52L767.68 464.59L767.8 464.61L767.95 464.64L768.22 464.69L768.3 464.7L768.8 464.77L769.3 464.82L769.8 464.86L770.3 464.89L770.8 464.92L771.3 464.94L771.8 464.95L772.3 464.97L772.8 464.98L773.3 464.99L773.8 465L774.3 465L774.8 465.01L775.3 465.02L775.8 465.02L776.3 465.02L776.8 465.03L777.3 465.03L777.8 465.03L778.3 465.04" stroke="#f00" stroke-width="2" fill="none" stroke-linejoin="round"/>
<path d="M329.48 368.04L329.68 345.01L329.8 328.4L329.89 314.31L330.09 273.62L330.29 221.73L330.3 219.17L330.45 173.02L330.49 160.65L330.66 112.47L330.7 101.99L330.8 79.35L330.86 69.87L330.9 64.96L331.03 58.6L331.06 59.01L331.1 60.55L331.26 74.83L331.3 79.12L331.31 79.89L331.47 103.32L331.51 110.03L331.67 140.14L331.71 148.53L331.8 168.5L331.87 186.19L331.91 196.02L332.08 236.07L332.12 245.92L332.28 282.14L332.3 286.46L332.32 290.48L332.48 319.83L332.52 326.36L332.69 348.95L332.73 353.92L332.8 362.22L332.89 371.04" stroke="#000" stroke-width="1.7" stroke-dasharray="1.3 3.2" fill="none"/>
<path d="M330.8 57.8V61.5" stroke="#000" stroke-width="1.4"/>
<path d="M329.48 370.3L329.68 347.8L329.8 331.57L329.89 317.81L330.09 278.06L330.29 227.37L330.3 224.87L330.45 179.78L330.49 167.7L330.66 120.63L330.7 110.39L330.8 88.28L330.86 79.01L330.9 74.21L331.03 68L331.06 68.4L331.1 69.9L331.26 83.85L331.3 88.05L331.31 88.8L331.47 111.69L331.51 118.25L331.67 147.66L331.71 155.86L331.8 175.37L331.87 192.65L331.91 202.25L332.08 241.38L332.12 251.01L332.28 286.39L332.3 290.61L332.32 294.53L332.48 323.21L332.52 329.59L332.69 351.66L332.73 356.52L332.8 364.62L332.89 373.25" stroke="#f00" stroke-width="2" stroke-dasharray="1.9 2.1" stroke-dashoffset="-2" fill="none"/>
<path d="M187.4 506.2V523.6M285.9 506.2V523.6M331 506.2V523.6M345 506.2V523.6M395 506.2V523.6M429.1 506.2V523.6M481.5 506.2V523.6" stroke="#00f" stroke-width="2.1" fill="none"/>
<path d="M511.3 506.2V523.6M558.5 506.2V523.6M655 506.2V523.6M762.3 506.2V523.6" stroke="#00f" stroke-width="3" fill="none"/>
<path d="M584.55 506.2V523.6M586.25 506.2V523.6M593.55 506.2V523.6M595.25 506.2V523.6M628.35 506.2V523.6M630.05 506.2V523.6M662.3 506.2V523.6M664.3 506.2V523.6M695.65 506.2V523.6M698.15 506.2V523.6M720.35 506.2V523.6M722.25 506.2V523.6M785.65 506.2V523.6M788.95 506.2V523.6" stroke="#00f" stroke-width="1.3" fill="none"/>
<path d="M115.5 552L116.2 552L116.9 552L117.6 552L118.3 552L119 552L119.7 552L120.4 552L121.1 552L121.8 552L122.5 552L123.2 552L123.9 552L124.6 552L125.3 552L126 552L126.7 552L127.4 552L128.1 552L128.8 552L129.5 552L130.2 552L130.9 552L131.6 552L132.3 552L133 552L133.7 552L134.4 552L135.1 552L135.8 552L136.5 552L137.2 552L137.9 552L138.6 552L139.3 552L140 552L140.7 552L141.4 552L142.1 552L142.8 552L143.5 552L144.2 552L144.9 552L145.6 552L146.3 552L147 552L147.7 552L148.4 552L149.1 552L149.8 552L150.5 552L151.2 552L151.9 552L152.6 552L153.3 552L154 552L154.7 552L155.4 552L156.1 552L156.8 552L157.5 552L158.2 552L158.9 552L159.6 552L160.3 552L161 552L161.7 552L162.4 552L163.1 552L163.8 552L164.5 552L165.2 552L165.9 552L166.6 552L167.3 552L168 552L168.7 552L169.4 552L170.1 552L170.8 552L171.5 552L172.2 552L172.9 552L173.6 552L174.3 552L175 552L175.7 552L176.4 552L177.1 552L177.8 552L178.5 552L179.2 552L179.9 552L180.6 552L181.3 552L182 552L182.7 552L183.4 552L184.1 552L185 552L186.4 552.3L187 555L187.5 555L188.2 552L190 552L190.4 552L191.1 552L191.8 552L192.5 552L193.2 552L193.9 552L194.6 552L195.3 552L196 552L196.7 552L197.4 552L198.1 552L198.8 552L199.5 552L200.2 552L200.9 552L201.6 552L202.3 552L203 552L203.7 552L204.4 552L205.1 552L205.8 552L206.5 552L207.2 552L207.9 552L208.6 552L209.3 552L210 552L210.7 552L211.4 552L212.1 552L212.8 552L213.5 552L214.2 552L214.9 552L215.6 552L216.3 552L217 552L217.7 552L218.4 552L219.1 552L219.8 552L220.5 552L221.2 552L221.9 552L222.6 552L223.3 552L224 552L224.7 552L225.4 552L226.1 552L226.8 552L227.5 552L228.2 552L228.9 552L229.6 552L230.3 552L231 552L231.7 552L232.4 552L233.1 552L233.8 552L234.5 552L235.2 552L235.9 552L236.6 552L237.3 552L238 552L238.7 552L239.4 552L240.1 552L240.8 552L241.5 552L242.2 552L242.9 552L243.6 552L244.3 552L245 552L245.7 552L246.4 552L247.1 552L247.8 552L248.5 552L249.2 552L249.9 552L250.6 552L251.3 552L252 552L252.7 552L253.4 552L254.1 552L254.8 552L255.5 552L256.2 552L256.9 552L257.6 552L258.3 552L259 552L259.7 552L260.4 552L261.1 552L261.8 552L262.5 552L263.2 552L263.9 552L264.6 552L265.3 552L266 552L266.7 552L267.4 552L268.1 552L268.8 552L269.5 552L270.2 552L270.9 552L271.6 552L272.3 552L273 552L273.7 552L274.4 552L275.1 552L275.8 552L276.5 552L277.2 552L277.9 552L278.6 552L279.3 552L280 552L280.7 552L281.4 552L282.1 552L282.7 552L284 551.2L284.8 552L285.2 558.5L285.9 558.8L286.5 552L288.2 552L289.1 552L289.8 552L290.5 552L291.2 552L291.9 552L292.6 552L293.3 552L294 552L294.7 552L295.4 552L296.1 552L296.8 552L297.5 552L298.2 552L298.9 552L299.6 552L300.3 552L301 552L301.7 552L302.4 552L303.1 552L303.8 552L304.5 552L305.2 552L305.9 552L306.6 552L307.3 552L308 552L308.7 552L309.4 552L310.1 552L310.8 552L311.5 552L312.2 552L312.9 552L313.6 552L314.3 552L315 552L315.7 552L316.4 552L317.1 552L317.8 552L318.5 552L319 552L323 551.4L326 550L327.4 547.9L328.5 549L329.4 550.5L330.2 548L330.7 543L331.3 543L331.5 552L331.6 560.2L333.2 560.8L333.6 554L334.5 552.8L336 552L340 551.7L342.5 552L343 552L344 551.5L344.3 544L345.1 544L345.3 553L346 555.3L346.7 552L348.5 552L349.3 552L350 552L350.7 552L351.4 552L352.1 552L352.8 552L353.5 552L354.2 552L354.9 552L355.6 552L356.3 552L357 552L357.7 552L358.4 552L359.1 552L359.8 552L360.5 552L361.2 552L361.9 552L362.6 552L363.3 552L364 552L364.7 552L365.4 552L366.1 552L366.8 552L367.5 552L368.2 552L368.9 552L369.6 552L370.3 552L371 552L371.7 552L372.4 552L373.1 552L373.8 552L374.5 552L375.2 552L375.9 552L376.6 552L377.3 552L378 552L378.7 552L379.4 552L380.1 552L380.8 552L381.5 552L382.2 552L382.9 552L383.6 552L384.3 552L385 552L385.7 552L386.4 552L387.1 552L387.8 552L388.5 552L389.2 552L389.9 552L390.6 552L391.3 552L392 552L392.7 552L394.1 551.5L394.4 545L395.2 545L395.5 553.5L396.3 554.5L397.1 552L398.7 552L399 552L399.7 552L400.4 552L401.1 552L401.8 552L402.5 552L403.2 552L403.9 552L404.6 552L405.3 552L406 552L406.7 552L407.4 552L408.1 552L408.8 552L409.5 552L410.2 552L410.9 552L411.6 552L412.3 552L413 552L413.7 552L414.4 552L415.1 552L415.8 552L416.5 552L417.2 552L417.9 552L418.6 552L419.3 552L420 552L420.7 552L421.4 552L422.1 552L422.8 552L423.5 552L424.2 552L424.9 552L425.6 552L426 552L427.5 552.2L428 554.6L428.6 554.4L429.3 552L431 552L431.9 552L432.6 552L433.3 552L434 552L434.7 552L435.4 552L436.1 552L436.8 552L437.5 552L438.2 552L438.9 552L439.6 552L440.3 552L441 552L441.7 552L442.4 552L443.1 552L443.8 552L444.5 552L445.2 552L445.9 552L446.6 552L447.3 552L448 552L448.7 552L449.4 552L450.1 552L450.8 552L451.5 552L452.2 552L452.9 552L453.6 552L454.3 552L455 552L455.7 552L456.4 552L457.1 552L457.8 552L458.5 552L459.2 552L459.9 552L460.6 552L461.3 552L462 552L462.7 552L463.4 552L464.1 552L464.8 552L465.5 552L466.2 552L466.9 552L467.6 552L468.3 552L469 552L469.7 552L470.4 552L471.1 552L471.8 552L472.5 552L473.2 552L473.9 552L474.6 552L475.3 552L476 552L476.7 552L477.4 552L478.1 552L478.8 552L479.4 552L480.7 551.2L481.4 555.2L482 555L482.7 552L484.4 552L485.1 552L485.8 552L486.5 552L487.2 552L487.9 552L488.6 552L489.3 552L490 552L490.7 552L491.4 552L492.1 552L492.8 552L493.5 552L494.2 552L494.9 552L495.6 552L496.3 552L497 552L497.7 552L498.4 552L499.1 552L499.8 552L500.5 552L501.2 552L501.9 552L502.6 552L503.3 552L504 552L504.7 552L505.4 552L505.8 552L507.8 550.8L509.3 550L510.2 551L510.6 558L511 563.8L511.8 563.8L512.4 554L513.3 550.5L514.8 549.6L516.8 551.4L518.8 552L519.4 552L520.1 552L520.8 552L521.5 552L522.2 552L522.9 552L523.6 552L524.3 552L525 552L525.7 552L526.4 552L527.1 552L527.8 552L528.5 552L529.2 552L529.9 552L530.6 552L531.3 552L532 552L532.7 552L533.4 552L534.1 552L534.8 552L535.5 552L536.2 552L536.9 552L537.6 552L538.3 552L539 552L539.7 552L540.4 552L541.1 552L541.8 552L542.5 552L543.2 552L543.9 552L544.6 552L545.3 552L546 552L546.7 552L547.4 552L548.1 552L548.8 552L549.5 552L550.2 552L550.9 552L551.6 552L552.3 552L553 552L553.7 552L554.4 552L555.1 552L555.5 552L557 551L557.6 541.5L558.5 541.5L558.8 552L559.2 555.6L560 555.6L560.8 552L563 552L563.5 552L564.2 552L564.9 552L565.6 552L566.3 552L567 552L567.7 552L568.4 552L569.1 552L569.8 552L570.5 552L571.2 552L571.9 552L572.6 552L573.3 552L574 552L574.7 552L575.4 552L576.1 552L576.8 552L577.5 552L578.2 552L578.9 552L579.6 552L580.3 552L581 552L581.7 552L582.4 552L583.1 552L583.8 552L584.5 552L585.2 552L585.9 552L586.6 552L587.3 552L588 552L588.7 552L589.4 552L590.1 552L590.8 552L591.5 552L592.2 552L592.9 552L593.6 552L594.3 552L595 552L595.7 552L596.4 552L597.1 552L597.8 552L598.5 552L599.2 552L599.9 552L600.6 552L601.3 552L602 552L602.7 552L603.4 552L604.1 552L604.8 552L605.5 552L606.2 552L606.9 552L607.6 552L608.3 552L609 552L609.7 552L610.4 552L611.1 552L611.8 552L612.5 552L613.2 552L613.9 552L614.6 552L615.3 552L616 552L616.7 552L617.4 552L618.1 552L618.8 552L619.5 552L620.2 552L620.9 552L621.6 552L622.3 552L623 552L623.7 552L624.4 552L625.1 552L625.8 552L626.5 552L627 552L629 552.8L630.5 552L632 552L632.8 552L633.5 552L634.2 552L634.9 552L635.6 552L636.3 552L637 552L637.7 552L638.4 552L639.1 552L639.8 552L640.5 552L641.2 552L641.9 552L642.6 552L643.3 552L644 552L644.7 552L645.4 552L646.1 552L646.8 552L647.5 552L648.2 552L648.9 552L649.6 552L650.3 552L651 552L651.5 552L653 551.2L654 551.2L655 552L656.5 552L657.3 552L658 552L658.7 552L659.4 552L660.1 552L660.5 552L662 551.4L663 551.4L664 552L665.5 552L666.4 552L667.1 552L667.8 552L668.5 552L669.2 552L669.9 552L670.6 552L671.3 552L672 552L672.7 552L673.4 552L674.1 552L674.8 552L675.5 552L676.2 552L676.9 552L677.6 552L678.3 552L679 552L679.7 552L680.4 552L681.1 552L681.8 552L682.5 552L683.2 552L683.9 552L684.6 552L685.3 552L686 552L686.7 552L687.4 552L688.1 552L688.8 552L689.5 552L690.2 552L690.9 552L691.6 552L692.3 552L693 552L693.7 552L694.4 552L695.1 552L695.8 552L696.5 552L697.2 552L697.9 552L698.6 552L699.3 552L700 552L700.7 552L701.4 552L702.1 552L702.8 552L703.5 552L704.2 552L704.9 552L705.6 552L706.3 552L707 552L707.7 552L708.4 552L709.1 552L709.8 552L710.5 552L711.2 552L711.9 552L712.6 552L713.3 552L714 552L714.7 552L715.4 552L716.1 552L716.8 552L717.5 552L718.2 552L718.9 552L719.6 552L720.3 552L721 552L721.7 552L722.4 552L723.1 552L723.8 552L724.5 552L725.2 552L725.9 552L726.6 552L727.3 552L728 552L728.7 552L729.4 552L730.1 552L730.8 552L731.5 552L732.2 552L732.9 552L733.6 552L734.3 552L735 552L735.7 552L736.4 552L737.1 552L737.8 552L738.5 552L739.2 552L739.9 552L740.6 552L741.3 552L742 552L742.7 552L743.4 552L744.1 552L744.8 552L745.5 552L746.2 552L746.9 552L747.6 552L748.3 552L749 552L749.7 552L750.4 552L751.1 552L751.8 552L752.5 552L753.2 552L753.9 552L754.6 552L755.3 552L756 552L756.7 552L757.4 552L758.1 552L758.8 552L759.5 552L760.2 552L760.9 552L761.6 552L762.3 552L763 552L763.7 552L764.4 552L765.1 552L765.8 552L766.5 552L767.2 552L767.9 552L768.6 552L769.3 552L770 552L770.7 552L771.4 552L772.1 552L772.8 552L773.5 552L774.2 552L774.9 552L775.6 552L776.3 552L777 552L777.7 552L778.4 552" stroke="#0f0" stroke-width="2.6" fill="none" stroke-linejoin="round"/>
<path d="M330.9 530V546" stroke="#0f0" stroke-width="1.8"/>
<rect x="970.3" y="1.9" width="744.9" height="602" fill="none" stroke="#000" stroke-width="2.6"/>
<path d="M1011.68 603.9V592.1M1011.68 1.9V13.7M1053.07 603.9V597.9M1053.07 1.9V7.9M1094.45 603.9V592.1M1094.45 1.9V13.7M1135.83 603.9V597.9M1135.83 1.9V7.9M1177.22 603.9V592.1M1177.22 1.9V13.7M1218.6 603.9V597.9M1218.6 1.9V7.9M1259.98 603.9V592.1M1259.98 1.9V13.7M1301.37 603.9V597.9M1301.37 1.9V7.9M1342.75 603.9V592.1M1342.75 1.9V13.7M1384.13 603.9V597.9M1384.13 1.9V7.9M1425.52 603.9V592.1M1425.52 1.9V13.7M1466.9 603.9V597.9M1466.9 1.9V7.9M1508.28 603.9V592.1M1508.28 1.9V13.7M1549.67 603.9V597.9M1549.67 1.9V7.9M1591.05 603.9V592.1M1591.05 1.9V13.7M1632.43 603.9V597.9M1632.43 1.9V7.9M1673.82 603.9V592.1M1673.82 1.9V13.7M970.3 543.7H975.8M1715.2 543.7H1709.7M970.3 483.5H981.8M1715.2 483.5H1703.7M970.3 423.3H975.8M1715.2 423.3H1709.7M970.3 363.1H981.8M1715.2 363.1H1703.7M970.3 302.9H975.8M1715.2 302.9H1709.7M970.3 242.7H981.8M1715.2 242.7H1703.7M970.3 182.5H975.8M1715.2 182.5H1709.7M970.3 122.3H981.8M1715.2 122.3H1703.7M970.3 62.1H975.8M1715.2 62.1H1709.7" stroke="#000" stroke-width="2.1" fill="none"/>
<text x="1011.68" y="640.5" class="tl">10</text>
<text x="1094.45" y="640.5" class="tl">20</text>
<text x="1177.22" y="640.5" class="tl">30</text>
<text x="1259.98" y="640.5" class="tl">40</text>
<text x="1342.75" y="640.5" class="tl">50</text>
<text x="1425.52" y="640.5" class="tl">60</text>
<text x="1508.28" y="640.5" class="tl">70</text>
<text x="1591.05" y="640.5" class="tl">80</text>
<text x="1673.82" y="640.5" class="tl">90</text>
<path d="M1009.8 480.19L1010.3 480.18L1010.8 480.17L1011.3 480.15L1011.8 480.14L1012.3 480.13L1012.8 480.11L1013.3 480.1L1013.8 480.09L1014.3 480.07L1014.8 480.06L1015.3 480.05L1015.8 480.04L1016.3 480.02L1016.8 480.01L1017.3 480L1017.8 479.98L1018.3 479.97L1018.8 479.96L1019.3 479.94L1019.8 479.93L1020.3 479.92L1020.8 479.9L1021.3 479.89L1021.8 479.88L1022.3 479.86L1022.8 479.85L1023.3 479.84L1023.8 479.82L1024.3 479.81L1024.8 479.8L1025.3 479.78L1025.8 479.77L1026.3 479.76L1026.8 479.74L1027.3 479.73L1027.8 479.72L1028.3 479.7L1028.8 479.69L1029.3 479.68L1029.8 479.66L1030.3 479.65L1030.8 479.64L1031.3 479.62L1031.8 479.61L1032.3 479.6L1032.8 479.58L1033.3 479.57L1033.8 479.56L1034.3 479.54L1034.8 479.53L1035.3 479.52L1035.8 479.5L1036.3 479.49L1036.8 479.48L1037.3 479.46L1037.8 479.45L1038.3 479.44L1038.8 479.42L1039.3 479.41L1039.8 479.4L1040.3 479.39L1040.8 479.38L1041.3 479.37L1041.8 479.37L1042.3 479.36L1042.8 479.36L1043.3 479.35L1043.8 479.34L1044.3 479.34L1044.8 479.33L1045.3 479.32L1045.8 479.32L1046.3 479.31L1046.8 479.3L1047.3 479.3L1047.8 479.29L1048.3 479.28L1048.8 479.28L1049.3 479.27L1049.8 479.27L1050.3 479.26L1050.8 479.25L1051.3 479.25L1051.8 479.24L1052.3 479.23L1052.8 479.23L1053.3 479.22L1053.8 479.21L1054.3 479.21L1054.8 479.2L1055.3 479.19L1055.8 479.19L1056.3 479.18L1056.8 479.17L1057.3 479.17L1057.8 479.16L1058.3 479.15L1058.8 479.15L1059.3 479.14L1059.8 479.13L1060.3 479.13L1060.8 479.12L1061.3 479.11L1061.8 479.11L1062.3 479.1L1062.8 479.09L1063.3 479.08L1063.8 479.08L1064.3 479.07L1064.8 479.06L1065.3 479.05L1065.8 479.05L1066.3 479.04L1066.8 479.03L1067.3 479.02L1067.8 479.02L1068.3 479.01L1068.8 479L1069.3 478.99L1069.8 478.98L1070.3 478.97L1070.8 478.96L1071.3 478.95L1071.8 478.94L1072.3 478.93L1072.8 478.91L1073.3 478.9L1073.8 478.88L1074.3 478.86L1074.8 478.84L1075.3 478.82L1075.8 478.79L1076.3 478.76L1076.8 478.71L1077.3 478.66L1077.8 478.58L1078.3 478.48L1078.8 478.32L1079.3 478.08L1079.4 478.01L1079.5 477.93L1079.6 477.85L1079.7 477.75L1079.8 477.65L1079.8 477.64L1079.9 477.52L1080 477.38L1080.1 477.21L1080.2 477.01L1080.3 476.78L1080.3 476.78L1080.4 476.51L1080.5 476.18L1080.6 475.78L1080.7 475.28L1080.8 474.67L1080.8 474.66L1080.9 473.88L1081 472.88L1081.1 471.57L1081.2 469.82L1081.3 467.51L1081.4 464.45L1081.5 460.52L1081.59 456.54L1081.6 455.93L1081.69 452.04L1081.7 451.53L1081.79 448.99L1081.8 448.76L1081.86 448.3L1081.89 448.37L1081.9 448.45L1081.99 449.66L1082 449.91L1082.09 451.81L1082.1 452.13L1082.19 454.54L1082.2 454.94L1082.29 457.95L1082.3 458.44L1082.39 461.73L1082.4 462.17L1082.49 465.17L1082.5 465.57L1082.59 467.98L1082.6 468.3L1082.69 470.16L1082.7 470.4L1082.79 471.81L1082.8 471.98L1082.8 472L1082.9 473.21L1083 474.14L1083.1 474.87L1083.2 475.45L1083.3 475.9L1083.3 475.91L1083.4 476.28L1083.5 476.59L1083.6 476.85L1083.7 477.07L1083.8 477.25L1083.8 477.25L1083.9 477.41L1084 477.54L1084.1 477.66L1084.2 477.76L1084.3 477.85L1084.8 478.16L1085.3 478.35L1085.8 478.47L1086.3 478.55L1086.8 478.6L1087.3 478.64L1087.8 478.67L1088.3 478.69L1088.8 478.71L1089.3 478.72L1089.8 478.73L1090.3 478.74L1090.8 478.74L1091.3 478.75L1091.8 478.75L1092.3 478.75L1092.8 478.75L1093.3 478.75L1093.8 478.76L1094.3 478.75L1094.8 478.75L1095.3 478.75L1095.8 478.75L1096.3 478.75L1096.8 478.75L1097.3 478.75L1097.8 478.75L1098.3 478.74L1098.8 478.74L1099.3 478.74L1099.8 478.74L1100.3 478.73L1100.8 478.73L1101.3 478.73L1101.8 478.73L1102.3 478.72L1102.8 478.72L1103.3 478.72L1103.8 478.72L1104.3 478.71L1104.8 478.71L1105.3 478.71L1105.8 478.7L1106.3 478.7L1106.8 478.7L1107.3 478.69L1107.8 478.69L1108.3 478.69L1108.8 478.68L1109.3 478.68L1109.8 478.68L1110.3 478.67L1110.8 478.67L1111.3 478.67L1111.8 478.66L1112.3 478.66L1112.8 478.66L1113.3 478.65L1113.8 478.65L1114.3 478.65L1114.8 478.64L1115.3 478.64L1115.8 478.64L1116.3 478.63L1116.8 478.63L1117.3 478.63L1117.8 478.62L1118.3 478.62L1118.8 478.62L1119.3 478.61L1119.8 478.61L1120.3 478.61L1120.8 478.6L1121.3 478.6L1121.8 478.6L1122.3 478.59L1122.8 478.59L1123.3 478.59L1123.8 478.58L1124.3 478.58L1124.8 478.58L1125.3 478.57L1125.8 478.57L1126.3 478.57L1126.8 478.56L1127.3 478.56L1127.8 478.55L1128.3 478.55L1128.8 478.55L1129.3 478.54L1129.8 478.54L1130.3 478.54L1130.8 478.53L1131.3 478.53L1131.8 478.53L1132.3 478.52L1132.8 478.52L1133.3 478.51L1133.8 478.51L1134.3 478.51L1134.8 478.5L1135.3 478.5L1135.8 478.5L1136.3 478.49L1136.8 478.49L1137.3 478.48L1137.8 478.48L1138.3 478.48L1138.8 478.47L1139.3 478.47L1139.8 478.46L1140.3 478.46L1140.8 478.46L1141.3 478.46L1141.8 478.46L1142.3 478.45L1142.8 478.45L1143.3 478.45L1143.8 478.45L1144.3 478.45L1144.8 478.44L1145.3 478.44L1145.8 478.44L1146.3 478.44L1146.8 478.44L1147.3 478.43L1147.8 478.43L1148.3 478.43L1148.8 478.43L1149.3 478.42L1149.8 478.42L1150.3 478.42L1150.8 478.42L1151.3 478.41L1151.8 478.41L1152.3 478.41L1152.8 478.41L1153.3 478.4L1153.8 478.4L1154.3 478.4L1154.8 478.39L1155.3 478.39L1155.8 478.39L1156.3 478.38L1156.8 478.38L1157.3 478.38L1157.8 478.37L1158.3 478.37L1158.8 478.36L1159.3 478.36L1159.8 478.35L1160.3 478.35L1160.8 478.34L1161.3 478.34L1161.8 478.33L1162.3 478.33L1162.8 478.32L1163.3 478.31L1163.8 478.3L1164.3 478.3L1164.8 478.29L1165.3 478.28L1165.8 478.27L1166.3 478.26L1166.8 478.24L1167.3 478.23L1167.8 478.22L1168.3 478.2L1168.8 478.18L1169.3 478.16L1169.8 478.13L1170.3 478.11L1170.8 478.07L1171.3 478.04L1171.8 477.99L1172.3 477.94L1172.8 477.88L1173.3 477.81L1173.8 477.71L1174.3 477.6L1174.8 477.45L1175.3 477.26L1175.8 477L1176.3 476.63L1176.8 476.1L1177.3 475.28L1177.46 474.92L1177.57 474.64L1177.68 474.32L1177.79 473.96L1177.8 473.93L1177.9 473.55L1178.01 473.08L1178.12 472.54L1178.23 471.91L1178.3 471.46L1178.34 471.17L1178.45 470.3L1178.56 469.26L1178.67 468.01L1178.78 466.49L1178.8 466.2L1178.89 464.62L1179 462.28L1179.11 459.32L1179.22 455.52L1179.3 452.09L1179.33 450.55L1179.44 443.98L1179.55 435.33L1179.66 423.78L1179.77 409.04L1179.8 404.53L1179.88 391.98L1179.99 376.16L1180.09 367.96L1180.1 367.47L1180.14 366.9L1180.2 368.36L1180.21 369.01L1180.3 375.45L1180.31 376.03L1180.32 377.11L1180.42 384.62L1180.43 385.56L1180.53 390.7L1180.54 391.28L1180.64 394.8L1180.65 395.34L1180.75 400.17L1180.76 401.03L1180.8 404.1L1180.86 409.09L1180.87 410.35L1180.97 420.42L1180.98 421.8L1181.08 431.56L1181.09 432.77L1181.19 440.93L1181.2 441.9L1181.3 448.26L1181.3 448.49L1181.31 449.01L1181.41 453.86L1181.42 454.43L1181.53 458.57L1181.64 461.76L1181.75 464.25L1181.8 465.22L1181.86 466.23L1181.97 467.8L1182.08 469.1L1182.19 470.18L1182.3 471.07L1182.3 471.09L1182.41 471.83L1182.52 472.47L1182.63 473.02L1182.74 473.49L1182.8 473.73L1183.3 475.14L1183.8 475.98L1184.3 476.52L1184.8 476.89L1185.3 477.14L1185.8 477.33L1186.3 477.47L1186.8 477.58L1187.3 477.66L1187.8 477.73L1188.3 477.78L1188.8 477.83L1189.3 477.86L1189.8 477.89L1190.3 477.91L1190.8 477.93L1191.3 477.94L1191.8 477.95L1192.3 477.96L1192.8 477.97L1193.3 477.97L1193.8 477.97L1194.3 477.97L1194.8 477.97L1195.3 477.97L1195.8 477.97L1196.3 477.97L1196.8 477.96L1197.3 477.96L1197.8 477.95L1198.3 477.95L1198.8 477.94L1199.3 477.93L1199.8 477.93L1200.3 477.92L1200.8 477.91L1201.3 477.9L1201.8 477.89L1202.3 477.87L1202.8 477.86L1203.3 477.85L1203.8 477.83L1204.3 477.82L1204.8 477.8L1205.3 477.79L1205.8 477.77L1206.3 477.75L1206.8 477.73L1207.3 477.7L1207.8 477.68L1208.3 477.66L1208.8 477.63L1209.3 477.6L1209.8 477.56L1210.3 477.53L1210.8 477.49L1211.3 477.45L1211.8 477.4L1212.3 477.35L1212.8 477.29L1213.3 477.23L1213.8 477.15L1214.3 477.07L1214.8 476.98L1215.3 476.88L1215.8 476.76L1216.3 476.63L1216.8 476.47L1217.3 476.28L1217.8 476.04L1218.3 475.75L1218.8 475.39L1219.3 474.93L1219.8 474.33L1220.3 473.54L1220.8 472.45L1221.3 470.91L1221.8 468.62L1222.15 466.24L1222.27 465.28L1222.3 465L1222.38 464.2L1222.5 462.96L1222.61 461.56L1222.73 459.95L1222.8 458.79L1222.84 458.1L1222.95 455.95L1223.07 453.42L1223.18 450.45L1223.3 446.89L1223.3 446.85L1223.32 446M1227.02 446L1227.07 447.91L1227.19 451.38L1227.3 454.21L1227.3 454.25L1227.42 456.7L1227.53 458.78L1227.64 460.56L1227.8 462.61L1228.3 467.22L1228.8 470.02L1229.3 471.86L1229.8 473.12L1230.3 474.02L1230.8 474.69L1231.3 475.19L1231.8 475.57L1232.3 475.87L1232.8 476.09L1233.3 476.26L1233.8 476.38L1234.3 476.44L1234.8 476.44L1235.3 476.37L1235.8 476.19L1235.92 476.12L1236.04 476.04L1236.15 475.95L1236.27 475.85L1236.3 475.82L1236.38 475.72L1236.5 475.58L1236.62 475.41L1236.73 475.21L1236.8 475.07L1236.85 474.97L1236.96 474.69L1237.08 474.35L1237.19 473.93L1237.3 473.47L1237.31 473.42L1237.43 472.79L1237.54 472L1237.66 470.99L1237.77 469.69L1237.8 469.35L1237.89 467.98L1238.01 465.75L1238.12 462.74L1238.24 458.75L1238.3 456.11L1238.35 453.66L1238.47 447.84L1238.58 442.47L1238.7 439.7L1238.72 439.6L1238.8 440.33L1238.81 440.57L1238.82 440.65L1238.93 443.91L1238.93 444.04L1239.04 447.48L1239.05 447.56L1239.16 449.89L1239.16 449.93L1239.28 450.93L1239.28 450.95L1239.3 451.03L1239.39 451.37L1239.39 451.39L1239.51 452.48L1239.51 452.53L1239.62 455.06L1239.63 455.14L1239.74 458.66L1239.74 458.75L1239.8 460.61L1239.85 462.26L1239.86 462.38L1239.97 465.36L1239.97 465.44L1240.09 467.8L1240.09 467.86L1240.2 469.67L1240.2 469.71L1240.3 470.9L1240.32 471.13L1240.44 472.22L1240.55 473.06L1240.67 473.74L1240.78 474.28L1240.8 474.35L1240.9 474.73L1241.02 475.1L1241.13 475.41L1241.25 475.67L1241.3 475.77L1241.36 475.89L1241.48 476.08L1241.8 476.5L1242.3 476.92L1242.8 477.2L1243.3 477.39L1243.8 477.53L1244.3 477.63L1244.8 477.72L1245.3 477.78L1245.8 477.84L1246.3 477.89L1246.8 477.93L1247.3 477.97L1247.8 478L1248.3 478.03L1248.8 478.05L1249.3 478.08L1249.8 478.1L1250.3 478.12L1250.8 478.14L1251.3 478.15L1251.8 478.17L1252.3 478.19L1252.8 478.2L1253.3 478.22L1253.8 478.23L1254.3 478.24L1254.8 478.25L1255.3 478.26L1255.8 478.28L1256.3 478.29L1256.8 478.3L1257.3 478.31L1257.8 478.32L1258.3 478.33L1258.8 478.34L1259.3 478.34L1259.8 478.35L1260.3 478.36L1260.8 478.36L1261.3 478.37L1261.8 478.37L1262.3 478.38L1262.8 478.38L1263.3 478.38L1263.8 478.39L1264.3 478.39L1264.8 478.39L1265.3 478.4L1265.8 478.4L1266.3 478.4L1266.8 478.4L1267.3 478.4L1267.8 478.41L1268.3 478.41L1268.8 478.41L1269.3 478.41L1269.8 478.41L1270.3 478.41L1270.8 478.41L1271.3 478.41L1271.8 478.41L1272.3 478.41L1272.8 478.41L1273.3 478.41L1273.8 478.41L1274.3 478.4L1274.8 478.4L1275.3 478.4L1275.8 478.39L1276.3 478.39L1276.8 478.38L1277.3 478.37L1277.8 478.36L1278.3 478.35L1278.8 478.34L1279.3 478.32L1279.8 478.3L1280.3 478.28L1280.8 478.25L1281.3 478.22L1281.8 478.18L1282.3 478.13L1282.8 478.07L1283.3 477.99L1283.8 477.89L1284.3 477.75L1284.8 477.56L1285.3 477.3L1285.8 476.92L1286.1 476.59L1286.22 476.43L1286.3 476.32L1286.34 476.25L1286.46 476.05L1286.58 475.82L1286.7 475.55L1286.8 475.31L1286.83 475.24L1286.95 474.89L1287.07 474.47L1287.19 473.97L1287.3 473.43L1287.31 473.38L1287.43 472.67L1287.55 471.82L1287.67 470.75L1287.79 469.43L1287.8 469.33L1287.91 467.74L1288.03 465.58L1288.15 462.77L1288.28 459.03L1288.3 458.11L1288.4 454.04L1288.52 447.44L1288.64 439.03L1288.76 429.44L1288.8 426.12L1288.88 420.66L1289 416.3L1289.02 416.2L1289.12 418.28L1289.23 423.54L1289.24 424.46L1289.3 427.77L1289.35 430.29L1289.36 431.03L1289.47 435.27L1289.48 435.74L1289.59 437.75L1289.6 437.89L1289.71 438.08L1289.72 438.02L1289.8 437.74L1289.83 437.7L1289.85 437.71L1289.95 438.75L1289.97 439.06L1290.07 442.44L1290.09 443.1L1290.19 448.01L1290.21 448.79L1290.3 453.18L1290.31 453.77L1290.33 454.48L1290.43 458.7L1290.45 459.28L1290.56 462.59L1290.57 463.01L1290.67 465.54L1290.69 465.88L1290.8 467.88L1290.81 468.07L1290.93 469.76L1291.05 471.07L1291.17 472.11L1291.3 472.95L1291.3 472.98L1291.42 473.64L1291.54 474.21L1291.66 474.68L1291.78 475.08L1291.8 475.14L1291.9 475.42L1292.3 476.25L1292.8 476.9L1293.3 477.31L1293.8 477.59L1294.3 477.78L1294.8 477.93L1295.3 478.04L1295.8 478.12L1296.3 478.19L1296.8 478.25L1297.3 478.29L1297.8 478.33L1298.3 478.36L1298.8 478.39L1299.3 478.41L1299.8 478.44L1300.3 478.45L1300.8 478.47L1301.3 478.48L1301.8 478.5L1302.3 478.51L1302.8 478.52L1303.3 478.53L1303.8 478.54L1304.3 478.55L1304.8 478.55L1305.3 478.56L1305.8 478.57L1306.3 478.57L1306.8 478.58L1307.3 478.58L1307.8 478.59L1308.3 478.59L1308.8 478.6L1309.3 478.6L1309.8 478.61L1310.3 478.61L1310.8 478.61L1311.3 478.62L1311.8 478.62L1312.3 478.63L1312.8 478.63L1313.3 478.63L1313.8 478.63L1314.3 478.64L1314.8 478.64L1315.3 478.64L1315.8 478.64L1316.3 478.64L1316.8 478.64L1317.3 478.64L1317.8 478.64L1318.3 478.64L1318.8 478.64L1319.3 478.63L1319.8 478.62L1319.82 478.62L1319.94 478.62L1320.07 478.61L1320.19 478.61L1320.3 478.6L1320.32 478.6L1320.44 478.6L1320.57 478.59L1320.69 478.58L1320.8 478.57L1320.81 478.57L1320.94 478.56L1321.06 478.54L1321.19 478.52L1321.3 478.5L1321.31 478.5L1321.43 478.47L1321.56 478.44L1321.68 478.39L1321.8 478.34L1321.81 478.33L1321.93 478.26L1322.06 478.16L1322.18 478.02L1322.3 477.85L1322.3 477.84L1322.43 477.62L1322.55 477.35L1322.68 477.12L1322.8 477L1322.81 477L1322.92 477.06L1323.05 477.24L1323.11 477.33L1323.17 477.43L1323.23 477.51L1323.3 477.57L1323.3 477.58L1323.35 477.62L1323.42 477.65L1323.48 477.66L1323.55 477.66L1323.6 477.65L1323.67 477.63L1323.73 477.62L1323.79 477.62L1323.8 477.62L1323.85 477.64L1323.92 477.68L1323.97 477.73L1324.04 477.81L1324.1 477.88L1324.17 477.96L1324.22 478.03L1324.29 478.11L1324.3 478.12L1324.35 478.17L1324.41 478.23L1324.47 478.27L1324.54 478.32L1324.6 478.35L1324.66 478.39L1324.79 478.44L1324.8 478.44L1324.91 478.48L1325.04 478.51L1325.16 478.54L1325.28 478.56L1325.3 478.56L1325.41 478.58L1325.53 478.59L1325.66 478.6L1325.78 478.61L1325.8 478.61L1326.3 478.64L1326.8 478.66L1327.3 478.68L1327.8 478.68L1328.3 478.69L1328.8 478.7L1329.3 478.7L1329.8 478.71L1330.3 478.71L1330.8 478.71L1331.3 478.72L1331.8 478.72L1332.3 478.72L1332.8 478.73L1333.3 478.73L1333.8 478.73L1334.3 478.73L1334.8 478.74L1335.3 478.74L1335.8 478.74L1336.3 478.74L1336.8 478.74L1337.3 478.75L1337.8 478.75L1338.3 478.75L1338.8 478.75L1339.3 478.75L1339.8 478.75L1340.3 478.76L1340.8 478.76L1341.3 478.76L1341.8 478.76L1342.3 478.75L1342.8 478.75L1343.3 478.75L1343.8 478.75L1344.3 478.75L1344.8 478.75L1345.3 478.75L1345.8 478.75L1346.3 478.75L1346.8 478.75L1347.3 478.75L1347.8 478.75L1348.3 478.75L1348.8 478.75L1349.3 478.75L1349.8 478.75L1350.3 478.75L1350.8 478.75L1351.3 478.74L1351.8 478.74L1352.3 478.74L1352.8 478.74L1353.3 478.74L1353.8 478.74L1354.3 478.74L1354.8 478.74L1355.3 478.73L1355.8 478.73L1356.3 478.73L1356.8 478.73L1357.3 478.73L1357.8 478.72L1358.3 478.72L1358.8 478.72L1359.3 478.72L1359.8 478.71L1360.3 478.71L1360.8 478.7L1361.3 478.7L1361.8 478.7L1362.3 478.69L1362.8 478.68L1363.3 478.68L1363.8 478.67L1364.3 478.66L1364.8 478.65L1365.3 478.64L1365.8 478.63L1366.3 478.62L1366.8 478.6L1367.3 478.58L1367.8 478.56L1368.3 478.53L1368.8 478.49L1369.3 478.45L1369.8 478.4L1370.3 478.33L1370.8 478.24L1371.3 478.12L1371.8 477.94L1372.29 477.69L1372.3 477.69L1372.42 477.61L1372.55 477.51L1372.68 477.4L1372.8 477.29L1372.81 477.28L1372.94 477.13L1373.07 476.97L1373.2 476.78L1373.3 476.61L1373.33 476.55L1373.46 476.29L1373.59 475.97L1373.72 475.6L1373.8 475.31L1373.85 475.13L1373.98 474.57L1374.11 473.85L1374.23 472.95L1374.3 472.41L1374.36 471.8L1374.49 470.28L1374.62 468.28L1374.75 465.59L1374.8 464.41L1374.88 462.06L1375.01 457.53L1375.14 452.37L1375.27 447.7L1375.3 446.93L1375.4 445.52L1375.42 445.5L1375.53 446.83L1375.66 450.56L1375.79 454.63L1375.8 454.97L1375.84 455.95L1375.92 457.81L1375.96 458.64L1376.05 459.66L1376.1 460.01L1376.18 460.22L1376.22 460.14L1376.3 459.76L1376.31 459.72L1376.35 459.37L1376.44 458.76L1376.48 458.48L1376.57 458.36L1376.61 458.55L1376.69 459.43L1376.74 460.23L1376.8 461.39L1376.82 461.92L1376.87 462.99L1376.95 464.88L1377 465.95L1377.08 467.62L1377.13 468.48L1377.21 469.81L1377.26 470.5L1377.3 471.02L1377.34 471.52L1377.39 472.03L1377.47 472.8L1377.6 473.78L1377.73 474.55L1377.8 474.89L1377.86 475.15L1377.99 475.63L1378.12 476.01L1378.25 476.33L1378.3 476.45L1378.38 476.6L1378.51 476.82L1378.8 477.21L1379.3 477.63L1379.8 477.9L1380.3 478.08L1380.8 478.2L1381.3 478.29L1381.8 478.35L1382.3 478.4L1382.8 478.44L1383.3 478.47L1383.8 478.49L1384.3 478.51L1384.8 478.53L1385.3 478.54L1385.8 478.55L1386.3 478.55L1386.8 478.56L1387.3 478.56L1387.8 478.56L1388.3 478.56L1388.8 478.56L1389.3 478.55L1389.8 478.55L1390.3 478.54L1390.8 478.53L1391.3 478.52L1391.8 478.51L1392.3 478.49L1392.8 478.48L1393.3 478.46L1393.8 478.43L1394.3 478.41L1394.8 478.38L1395.3 478.34L1395.8 478.3L1396.3 478.25L1396.8 478.19L1397.3 478.13L1397.8 478.04L1398.3 477.94L1398.8 477.82L1399.3 477.66L1399.8 477.46L1400.3 477.19L1400.8 476.83L1401.3 476.34L1401.8 475.62L1401.92 475.4L1402.06 475.12L1402.19 474.82L1402.3 474.52L1402.32 474.47L1402.45 474.07L1402.58 473.62L1402.72 473.09L1402.8 472.72L1402.85 472.49L1402.98 471.78L1403.11 470.93L1403.25 469.93L1403.3 469.47L1403.38 468.72L1403.51 467.25L1403.64 465.44L1403.78 463.17L1403.8 462.7L1403.91 460.3L1404.04 456.58L1404.17 452M1407.05 452L1407.07 452.76L1407.09 453.42L1407.2 457.6L1407.22 458.13L1407.3 460.42L1407.35 461.69L1407.48 464.42L1407.62 466.57L1407.75 468.25L1407.8 468.82L1407.88 469.62L1408.01 470.72L1408.14 471.63L1408.28 472.4L1408.3 472.51L1408.8 474.45L1409.3 475.6L1409.8 476.33L1410.3 476.83L1410.8 477.19L1411.3 477.46L1411.8 477.66L1412.3 477.82L1412.8 477.95L1413.3 478.05L1413.8 478.13L1414.3 478.2L1414.8 478.26L1415.3 478.3L1415.8 478.35L1416.3 478.38L1416.8 478.41L1417.3 478.44L1417.8 478.46L1418.3 478.48L1418.8 478.5L1419.3 478.52L1419.8 478.53L1420.3 478.54L1420.8 478.55L1421.3 478.56L1421.8 478.57L1422.3 478.58L1422.8 478.58L1423.3 478.59L1423.8 478.59L1424.3 478.6L1424.8 478.6L1425.3 478.6L1425.8 478.6L1426.3 478.6L1426.8 478.61L1427.3 478.61L1427.8 478.61L1428.3 478.6L1428.8 478.6L1429.3 478.6L1429.8 478.6L1430.3 478.6L1430.8 478.59L1431.3 478.59L1431.8 478.59L1432.3 478.58L1432.8 478.58L1433.3 478.57L1433.8 478.56L1434.3 478.56L1434.8 478.55L1435.3 478.54L1435.8 478.53L1436.3 478.52L1436.8 478.5L1437.3 478.49L1437.8 478.47L1438.3 478.46L1438.8 478.44L1439.3 478.42L1439.8 478.39L1440.3 478.36L1440.8 478.33L1441.3 478.29L1441.8 478.25L1442.3 478.2L1442.8 478.15L1443.3 478.08L1443.8 478L1444.3 477.91L1444.8 477.8L1445.3 477.66L1445.8 477.49L1446.3 477.28L1446.8 477.01L1447.3 476.65L1447.8 476.16L1448.3 475.48L1448.71 474.7L1448.8 474.49L1448.85 474.37L1448.98 474L1449.12 473.59L1449.26 473.11L1449.3 472.95L1449.39 472.57L1449.53 471.94L1449.67 471.21L1449.8 470.4L1449.81 470.36L1449.94 469.34L1450.08 468.13L1450.22 466.68L1450.3 465.67L1450.36 464.92L1450.49 462.74L1450.63 460.01L1450.77 456.56L1450.8 455.56L1450.9 452.11L1451.04 446.28L1451.06 445M1454.09 445L1454.15 447.98L1454.19 449.96L1454.29 453.73L1454.3 454.17L1454.33 455.24L1454.47 459.26L1454.61 462.35L1454.74 464.76L1454.8 465.62L1454.88 466.67L1455.02 468.21L1455.15 469.47L1455.29 470.51L1455.3 470.58L1455.8 473.14L1456.3 474.64L1456.8 475.6L1457.3 476.25L1457.8 476.72L1458.3 477.06L1458.8 477.32L1459.3 477.52L1459.8 477.69L1460.3 477.82L1460.8 477.92L1461.3 478.01L1461.8 478.09L1462.3 478.15L1462.8 478.2L1463.3 478.25L1463.8 478.29L1464.3 478.33L1464.8 478.36L1465.3 478.38L1465.8 478.41L1466.3 478.43L1466.8 478.45L1467.3 478.46L1467.8 478.48L1468.3 478.49L1468.8 478.5L1469.3 478.51L1469.8 478.52L1470.3 478.53L1470.8 478.53L1471.3 478.54L1471.8 478.54L1472.3 478.55L1472.8 478.55L1473.3 478.55L1473.8 478.54L1474.3 478.54L1474.8 478.53L1475.3 478.51L1475.44 478.5L1475.59 478.5L1475.72 478.49L1475.8 478.48L1475.87 478.48L1476 478.47L1476.14 478.45L1476.28 478.44L1476.3 478.44L1476.42 478.42L1476.56 478.4L1476.7 478.37L1476.8 478.35L1476.84 478.34L1476.98 478.31L1477.12 478.26L1477.26 478.2L1477.3 478.19L1477.4 478.13L1477.54 478.04L1477.68 477.93L1477.8 477.8L1477.82 477.78L1477.96 477.58L1478.1 477.31L1478.24 476.95L1478.3 476.77L1478.38 476.49L1478.52 475.98L1478.66 475.51L1478.8 475.3L1478.81 475.3L1478.94 475.46L1479.08 475.86L1479.22 476.31L1479.3 476.54L1479.36 476.68L1479.5 476.94L1479.52 476.97L1479.64 477.07L1479.66 477.08L1479.78 477.1L1479.8 477.1L1479.8 477.1L1479.92 477.04L1479.94 477.02L1480.06 476.9L1480.08 476.87L1480.2 476.75L1480.22 476.73L1480.3 476.7L1480.34 476.7L1480.36 476.7L1480.48 476.81L1480.5 476.85L1480.62 477.06L1480.64 477.11L1480.76 477.35L1480.78 477.4L1480.8 477.44L1480.9 477.61L1480.92 477.65L1481.04 477.81L1481.06 477.84L1481.18 477.97L1481.2 477.99L1481.3 478.08L1481.32 478.09L1481.46 478.18L1481.6 478.25L1481.73 478.31L1481.8 478.33L1481.88 478.35L1482.02 478.39L1482.15 478.42L1482.3 478.44L1482.8 478.5L1483.3 478.54L1483.8 478.57L1484.3 478.58L1484.8 478.6L1485.3 478.61L1485.8 478.61L1486.3 478.62L1486.8 478.62L1487.3 478.63L1487.8 478.63L1488.3 478.63L1488.8 478.64L1489.3 478.64L1489.8 478.64L1490.3 478.64L1490.8 478.64L1491.3 478.64L1491.8 478.65L1492.3 478.65L1492.8 478.65L1493.3 478.65L1493.8 478.65L1494.3 478.65L1494.8 478.65L1495.3 478.65L1495.8 478.65L1496.3 478.65L1496.8 478.65L1497.3 478.65L1497.8 478.65L1498.3 478.65L1498.8 478.65L1499.3 478.65L1499.8 478.65L1500.3 478.65L1500.8 478.65L1501.3 478.65L1501.8 478.65L1502.3 478.64L1502.8 478.64L1503.3 478.64L1503.8 478.64L1504.3 478.64L1504.8 478.64L1505.3 478.64L1505.8 478.64L1506.3 478.64L1506.8 478.64L1507.3 478.63L1507.8 478.63L1508.3 478.63L1508.8 478.63L1509.3 478.63L1509.8 478.62L1510.3 478.62L1510.8 478.62L1511.3 478.61L1511.8 478.61L1512.3 478.61L1512.8 478.6L1513.3 478.6L1513.8 478.59L1514.3 478.58L1514.8 478.58L1515.3 478.57L1515.8 478.56L1516.3 478.54L1516.8 478.53L1517.3 478.51L1517.8 478.48L1518.3 478.44L1518.8 478.4L1519.3 478.33L1519.54 478.3L1519.68 478.27L1519.8 478.24L1519.83 478.24L1519.97 478.2L1520.12 478.16L1520.26 478.11L1520.3 478.1L1520.4 478.06L1520.55 478L1520.69 477.92L1520.8 477.86L1520.84 477.84L1520.98 477.74L1521.12 477.61L1521.27 477.46L1521.3 477.43L1521.41 477.28L1521.56 477.04L1521.7 476.75L1521.8 476.5L1521.85 476.37L1521.99 475.87L1522.13 475.21L1522.28 474.34L1522.3 474.19L1522.42 473.17L1522.57 471.69L1522.71 469.99L1522.8 469L1522.86 468.48L1523 467.8L1523 467.8L1523.14 468.32L1523.29 469.66L1523.3 469.79L1523.43 471.18L1523.58 472.43L1523.72 473.32L1523.8 473.65L1523.86 473.84L1523.87 473.85L1524 474.05L1524.01 474.05L1524.15 473.97L1524.15 473.96L1524.29 473.61L1524.3 473.59L1524.3 473.58L1524.44 473.07L1524.44 473.04L1524.58 472.56L1524.59 472.54L1524.72 472.43L1524.73 472.44L1524.8 472.6L1524.87 472.87L1524.88 472.91L1525.01 473.71L1525.02 473.76L1525.16 474.64L1525.16 474.67L1525.3 475.43L1525.3 475.44L1525.31 475.47L1525.44 476.07L1525.45 476.09L1525.59 476.55L1525.6 476.57L1525.74 476.93L1525.8 477.05L1525.88 477.2L1526.03 477.41L1526.17 477.58L1526.3 477.7L1526.32 477.72L1526.46 477.83L1526.8 478.01L1527.3 478.19L1527.8 478.29L1528.3 478.36L1528.8 478.41L1529.3 478.44L1529.8 478.46L1530.3 478.48L1530.8 478.49L1531.3 478.5L1531.8 478.51L1532.3 478.52L1532.8 478.52L1533.3 478.52L1533.8 478.52L1534.3 478.52L1534.8 478.52L1535.3 478.52L1535.8 478.51L1536.3 478.51L1536.8 478.5L1537.3 478.5L1537.8 478.49L1538.3 478.48L1538.8 478.46L1539.3 478.45L1539.8 478.43L1540.3 478.41L1540.8 478.38L1541.3 478.35L1541.8 478.32L1542.3 478.27L1542.8 478.21L1543.3 478.14L1543.8 478.04L1544.3 477.9L1544.78 477.72L1544.8 477.71L1544.92 477.65L1545.07 477.57L1545.22 477.48L1545.3 477.42L1545.37 477.38L1545.51 477.26L1545.66 477.13L1545.8 476.98L1545.81 476.97L1545.95 476.79L1546.1 476.57L1546.25 476.31L1546.3 476.21L1546.39 476L1546.54 475.63L1546.69 475.16L1546.8 474.72L1546.83 474.58L1546.98 473.84L1547.13 472.89L1547.27 471.64L1547.3 471.37L1547.42 469.98L1547.57 467.79L1547.71 464.86L1547.8 462.74L1547.86 461.13L1548.01 456.87L1548.15 453.09L1548.3 451.4L1548.45 452.73L1548.59 456.12L1548.74 459.95L1548.8 461.37L1548.89 463.17L1549.03 465.48L1549.18 466.9L1549.24 467.27L1549.3 467.49L1549.33 467.55L1549.39 467.61L1549.47 467.48L1549.54 467.24L1549.62 466.73L1549.68 466.24L1549.77 465.43L1549.8 465.09L1549.83 464.79L1549.91 463.95L1549.98 463.45L1550.06 463.06L1550.12 463.08L1550.21 463.53L1550.27 464.15L1550.3 464.53L1550.35 465.28L1550.42 466.23L1550.5 467.57L1550.56 468.52L1550.65 469.72L1550.71 470.51L1550.79 471.45L1550.8 471.52L1550.86 472.07L1550.94 472.8L1551 473.26L1551.09 473.81L1551.23 474.58L1551.3 474.85L1551.38 475.16L1551.53 475.61L1551.67 475.97L1551.8 476.22L1551.82 476.26L1552.3 476.85L1552.8 477.16L1552.96 477.21L1553.11 477.24L1553.25 477.27L1553.3 477.27L1553.4 477.27L1553.55 477.27L1553.7 477.25L1553.8 477.23L1553.84 477.22L1553.99 477.17L1554.14 477.1L1554.29 477.01L1554.3 477.01L1554.43 476.9L1554.58 476.76L1554.73 476.57L1554.8 476.46L1554.88 476.33L1555.02 476.03L1555.17 475.64L1555.3 475.21L1555.32 475.13L1555.47 474.46L1555.62 473.55L1555.76 472.34L1555.8 471.97L1555.91 470.73L1556.06 468.68L1556.2 466.32L1556.3 464.89L1556.35 464.23L1556.5 463.3L1556.51 463.3L1556.65 464.06L1556.8 465.96L1556.8 466.03L1556.94 468.11L1557.09 469.91L1557.24 471.22L1557.3 471.62L1557.38 472.04L1557.47 472.32L1557.53 472.44L1557.62 472.48L1557.68 472.43L1557.77 472.26L1557.8 472.16L1557.83 472.06L1557.91 471.69L1557.98 471.36L1558.06 470.89L1558.12 470.53L1558.21 470.14L1558.27 469.96L1558.3 469.92L1558.36 469.93L1558.42 470.09L1558.5 470.53L1558.57 470.99L1558.65 471.7L1558.71 472.24L1558.8 472.97L1558.8 472.99L1558.86 473.47L1558.95 474.08L1559.01 474.48L1559.09 474.96L1559.16 475.27L1559.24 475.63L1559.3 475.85L1559.3 475.86L1559.45 476.32L1559.6 476.67L1559.75 476.94L1559.8 477.02L1559.89 477.15L1560.04 477.33L1560.3 477.56L1560.8 477.85L1561.3 478.03L1561.8 478.15L1562.3 478.23L1562.8 478.29L1563.3 478.34L1563.8 478.37L1564.3 478.4L1564.8 478.42L1565.3 478.44L1565.8 478.46L1566.3 478.47L1566.8 478.48L1567.3 478.49L1567.8 478.5L1568.3 478.51L1568.8 478.51L1569.3 478.52L1569.8 478.52L1570.3 478.53L1570.8 478.53L1571.3 478.53L1571.8 478.54L1572.3 478.54L1572.8 478.54L1573.3 478.54L1573.8 478.54L1574.3 478.55L1574.8 478.55L1575.3 478.55L1575.8 478.55L1576.3 478.55L1576.8 478.55L1577.3 478.55L1577.8 478.55L1578.3 478.55L1578.8 478.55L1579.3 478.54L1579.8 478.54L1580.3 478.54L1580.8 478.54L1581.3 478.53L1581.8 478.53L1582.3 478.53L1582.8 478.52L1583.3 478.51L1583.8 478.51L1584.3 478.49L1584.8 478.48L1585.3 478.46L1585.8 478.44L1586.3 478.41L1586.68 478.38L1586.8 478.36L1586.83 478.36L1586.98 478.34L1587.13 478.32L1587.28 478.3L1587.3 478.29L1587.43 478.27L1587.58 478.24L1587.73 478.2L1587.8 478.19L1587.88 478.16L1588.04 478.11L1588.19 478.05L1588.3 478L1588.34 477.98L1588.49 477.9L1588.64 477.79L1588.79 477.66L1588.8 477.65L1588.94 477.48L1589.09 477.26L1589.24 476.98L1589.3 476.85L1589.39 476.6L1589.55 476.09L1589.7 475.41L1589.8 474.84L1589.85 474.55L1590 473.56L1590.15 472.69L1590.3 472.3L1590.31 472.3L1590.45 472.62L1590.6 473.42L1590.75 474.32L1590.8 474.58L1590.9 475.09L1591.06 475.65L1591.21 476.01L1591.3 476.15L1591.36 476.21L1591.39 476.23L1591.51 476.26L1591.54 476.25L1591.66 476.16L1591.69 476.11L1591.8 475.94L1591.81 475.92L1591.84 475.85L1591.96 475.57L1591.99 475.49L1592.11 475.22L1592.14 475.16L1592.26 475.05L1592.3 475.06L1592.3 475.06L1592.41 475.22L1592.45 475.3L1592.56 475.66L1592.6 475.78L1592.71 476.19L1592.75 476.3L1592.8 476.47L1592.87 476.66L1592.9 476.76L1593.02 477.05L1593.05 477.12L1593.17 477.34L1593.2 477.4L1593.3 477.54L1593.32 477.56L1593.47 477.73L1593.62 477.86L1593.77 477.96L1593.8 477.98L1593.92 478.04L1594.3 478.19L1594.8 478.3L1595.3 478.37L1595.8 478.41L1596.3 478.44L1596.8 478.46L1597.3 478.48L1597.8 478.49L1598.3 478.5L1598.8 478.51L1599.3 478.52L1599.8 478.52L1600.3 478.53L1600.8 478.53L1601.3 478.53L1601.8 478.53L1602.3 478.54L1602.8 478.54L1603.3 478.54L1603.8 478.54L1604.3 478.54L1604.8 478.54L1605.3 478.54L1605.8 478.54L1606.3 478.54L1606.8 478.54L1607.3 478.54L1607.8 478.54L1608.3 478.54L1608.8 478.54L1609.3 478.53L1609.8 478.53L1610.3 478.53L1610.8 478.52L1611.3 478.52L1611.62 478.51L1611.77 478.51L1611.8 478.51L1611.92 478.51L1612.08 478.5L1612.23 478.5L1612.3 478.5L1612.38 478.49L1612.54 478.49L1612.69 478.48L1612.8 478.48L1612.85 478.47L1613 478.46L1613.15 478.45L1613.3 478.44L1613.31 478.44L1613.46 478.42L1613.61 478.41L1613.77 478.38L1613.8 478.37L1613.92 478.35L1614.07 478.31L1614.23 478.26L1614.3 478.23L1614.38 478.19L1614.53 478.09L1614.69 477.97L1614.8 477.86L1614.84 477.81L1614.99 477.63L1615.15 477.47L1615.3 477.4L1615.31 477.4L1615.45 477.46L1615.61 477.61L1615.76 477.77L1615.8 477.81L1615.91 477.92L1616.07 478.02L1616.22 478.09L1616.3 478.11L1616.37 478.13L1616.48 478.14L1616.53 478.14L1616.64 478.14L1616.68 478.13L1616.79 478.11L1616.8 478.11L1616.83 478.1L1616.94 478.06L1616.99 478.04L1617.1 477.99L1617.14 477.97L1617.25 477.93L1617.3 477.92L1617.3 477.91L1617.4 477.91L1617.45 477.91L1617.56 477.95L1617.6 477.97L1617.71 478.04L1617.76 478.06L1617.8 478.09L1617.87 478.13L1617.91 478.16L1618.02 478.22L1618.06 478.24L1618.17 478.28L1618.21 478.3L1618.3 478.32L1618.33 478.33L1618.37 478.34L1618.52 478.38L1618.67 478.4L1618.8 478.42L1618.83 478.43L1618.98 478.44L1619.3 478.47L1619.8 478.49L1620.3 478.5L1620.8 478.51L1621.3 478.52L1621.8 478.52L1622.3 478.52L1622.8 478.53L1623.3 478.53L1623.8 478.53L1624.3 478.53L1624.8 478.53L1625.3 478.53L1625.8 478.53L1626.3 478.53L1626.8 478.53L1627.3 478.53L1627.8 478.53L1628.3 478.53L1628.8 478.53L1629.3 478.53L1629.8 478.53L1630.3 478.53L1630.8 478.53L1631.3 478.53L1631.8 478.53L1632.3 478.53L1632.8 478.52L1633.3 478.52L1633.8 478.52L1634.3 478.52L1634.8 478.52L1635.3 478.52L1635.8 478.52L1636.3 478.52L1636.8 478.52L1637.3 478.52L1637.8 478.51L1638.3 478.51L1638.8 478.51L1639.3 478.51L1639.8 478.51L1640.3 478.51L1640.8 478.5L1641.3 478.5L1641.8 478.5L1642.3 478.5L1642.8 478.5L1643.3 478.49L1643.8 478.49L1644.3 478.49L1644.8 478.48L1645.3 478.48L1645.8 478.47L1646.3 478.47L1646.8 478.46L1647.3 478.45L1647.8 478.44L1648.3 478.43L1648.8 478.42L1649.3 478.41L1649.8 478.39L1650.3 478.36L1650.8 478.33L1651.3 478.29L1651.8 478.24L1652.12 478.19L1652.28 478.17L1652.3 478.16L1652.43 478.14L1652.59 478.11L1652.75 478.07L1652.8 478.05L1652.91 478.02L1653.07 477.97L1653.22 477.91L1653.3 477.88L1653.38 477.85L1653.54 477.76L1653.69 477.67L1653.8 477.59L1653.85 477.55L1654.01 477.41L1654.17 477.23L1654.3 477.05L1654.33 477.01L1654.48 476.73L1654.64 476.37L1654.8 475.89L1654.8 475.89L1654.95 475.27L1655.11 474.42L1655.27 473.31L1655.3 473.06L1655.43 471.89L1655.59 470.27L1655.74 468.82L1655.8 468.47L1655.9 468.2L1655.9 468.2L1656.06 468.73L1656.21 470.08L1656.3 470.92L1656.37 471.6L1656.53 472.91L1656.69 473.88L1656.8 474.39L1656.85 474.55L1657 474.97L1657.16 475.17L1657.25 475.2L1657.3 475.18L1657.32 475.17L1657.41 475.08L1657.47 474.97L1657.56 474.77L1657.63 474.57L1657.72 474.26L1657.79 473.99L1657.8 473.94L1657.88 473.61L1657.95 473.33L1658.04 473.02L1658.11 472.87L1658.19 472.83L1658.26 472.92L1658.3 473.02L1658.35 473.21L1658.42 473.51L1658.51 473.98L1658.58 474.35L1658.67 474.83L1658.73 475.17L1658.8 475.47L1658.82 475.58L1658.89 475.85L1658.98 476.17L1659.05 476.38L1659.14 476.61L1659.21 476.77L1659.3 476.96L1659.37 477.07L1659.52 477.3L1659.68 477.48L1659.8 477.59L1660.3 477.9L1660.8 478.07L1661.3 478.18L1661.8 478.25L1662.3 478.3L1662.8 478.33L1663.3 478.36L1663.8 478.38L1664.3 478.4L1664.8 478.41L1665.3 478.42L1665.8 478.43L1666.3 478.44L1666.8 478.44L1667.3 478.45L1667.8 478.45L1668.3 478.46L1668.8 478.46L1669.3 478.46L1669.8 478.46L1670.3 478.47L1670.8 478.47L1671.3 478.47L1671.8 478.47L1672.3 478.47" stroke="#000" stroke-width="1.8" fill="none" stroke-linejoin="round"/>
<path d="M1009.8 480.19L1010.3 480.18L1010.8 480.17L1011.3 480.15L1011.8 480.14L1012.3 480.13L1012.8 480.11L1013.3 480.1L1013.8 480.09L1014.3 480.08L1014.8 480.06L1015.3 480.05L1015.8 480.04L1016.3 480.02L1016.8 480.01L1017.3 480L1017.8 479.98L1018.3 479.97L1018.8 479.96L1019.3 479.94L1019.8 479.93L1020.3 479.92L1020.8 479.9L1021.3 479.89L1021.8 479.88L1022.3 479.86L1022.8 479.85L1023.3 479.84L1023.8 479.82L1024.3 479.81L1024.8 479.8L1025.3 479.78L1025.8 479.77L1026.3 479.76L1026.8 479.74L1027.3 479.73L1027.8 479.72L1028.3 479.7L1028.8 479.69L1029.3 479.68L1029.8 479.66L1030.3 479.65L1030.8 479.64L1031.3 479.62L1031.8 479.61L1032.3 479.6L1032.8 479.58L1033.3 479.57L1033.8 479.56L1034.3 479.54L1034.8 479.53L1035.3 479.52L1035.8 479.5L1036.3 479.49L1036.8 479.48L1037.3 479.46L1037.8 479.45L1038.3 479.44L1038.8 479.42L1039.3 479.41L1039.8 479.4L1040.3 479.39L1040.8 479.38L1041.3 479.37L1041.8 479.37L1042.3 479.36L1042.8 479.36L1043.3 479.35L1043.8 479.34L1044.3 479.34L1044.8 479.33L1045.3 479.32L1045.8 479.32L1046.3 479.31L1046.8 479.3L1047.3 479.3L1047.8 479.29L1048.3 479.28L1048.8 479.28L1049.3 479.27L1049.8 479.27L1050.3 479.26L1050.8 479.25L1051.3 479.25L1051.8 479.24L1052.3 479.23L1052.8 479.23L1053.3 479.22L1053.8 479.21L1054.3 479.21L1054.8 479.2L1055.3 479.19L1055.8 479.19L1056.3 479.18L1056.8 479.17L1057.3 479.17L1057.8 479.16L1058.3 479.15L1058.8 479.15L1059.3 479.14L1059.8 479.13L1060.3 479.13L1060.8 479.12L1061.3 479.11L1061.8 479.11L1062.3 479.1L1062.8 479.09L1063.3 479.08L1063.8 479.08L1064.3 479.07L1064.8 479.06L1065.3 479.06L1065.8 479.05L1066.3 479.04L1066.8 479.03L1067.3 479.02L1067.8 479.02L1068.3 479.01L1068.8 479L1069.3 478.99L1069.8 478.98L1070.3 478.97L1070.8 478.96L1071.3 478.95L1071.8 478.94L1072.3 478.93L1072.8 478.91L1073.3 478.9L1073.8 478.88L1074.3 478.86L1074.8 478.84L1075.3 478.82L1075.8 478.79L1076.3 478.76L1076.8 478.71L1077.3 478.66L1077.8 478.58L1078.3 478.48L1078.8 478.32L1079.3 478.08L1079.4 478.01L1079.5 477.94L1079.6 477.85L1079.7 477.76L1079.8 477.65L1079.8 477.64L1079.9 477.52L1080 477.38L1080.1 477.21L1080.2 477.01L1080.3 476.78L1080.3 476.78L1080.4 476.51L1080.5 476.18L1080.6 475.78L1080.7 475.28L1080.8 474.67L1080.8 474.66L1080.9 473.89L1081 472.88L1081.1 471.57L1081.2 469.82L1081.3 467.51L1081.4 464.45L1081.5 460.52L1081.59 456.54L1081.6 455.93L1081.69 452.04L1081.7 451.53L1081.79 448.99L1081.8 448.76L1081.86 448.3L1081.89 448.37L1081.9 448.45L1081.99 449.66L1082 449.91L1082.09 451.81L1082.1 452.13L1082.19 454.54L1082.2 454.94L1082.29 457.95L1082.3 458.44L1082.39 461.73L1082.4 462.17L1082.49 465.17L1082.5 465.57L1082.59 467.98L1082.6 468.3L1082.69 470.16L1082.7 470.4L1082.79 471.82L1082.8 471.98L1082.8 472L1082.9 473.21L1083 474.14L1083.1 474.87L1083.2 475.45L1083.3 475.91L1083.3 475.91L1083.4 476.28L1083.5 476.59L1083.6 476.85L1083.7 477.07L1083.8 477.25L1083.8 477.25L1083.9 477.41L1084 477.54L1084.1 477.66L1084.2 477.76L1084.3 477.85L1084.8 478.16L1085.3 478.35L1085.8 478.47L1086.3 478.55L1086.8 478.6L1087.3 478.64L1087.8 478.67L1088.3 478.69L1088.8 478.71L1089.3 478.72L1089.8 478.73L1090.3 478.74L1090.8 478.74L1091.3 478.75L1091.8 478.75L1092.3 478.75L1092.8 478.75L1093.3 478.76L1093.8 478.76L1094.3 478.76L1094.8 478.76L1095.3 478.75L1095.8 478.75L1096.3 478.75L1096.8 478.75L1097.3 478.75L1097.8 478.75L1098.3 478.74L1098.8 478.74L1099.3 478.74L1099.8 478.74L1100.3 478.73L1100.8 478.73L1101.3 478.73L1101.8 478.73L1102.3 478.72L1102.8 478.72L1103.3 478.72L1103.8 478.72L1104.3 478.71L1104.8 478.71L1105.3 478.71L1105.8 478.7L1106.3 478.7L1106.8 478.7L1107.3 478.69L1107.8 478.69L1108.3 478.69L1108.8 478.69L1109.3 478.68L1109.8 478.68L1110.3 478.68L1110.8 478.67L1111.3 478.67L1111.8 478.67L1112.3 478.66L1112.8 478.66L1113.3 478.66L1113.8 478.65L1114.3 478.65L1114.8 478.65L1115.3 478.64L1115.8 478.64L1116.3 478.64L1116.8 478.63L1117.3 478.63L1117.8 478.63L1118.3 478.62L1118.8 478.62L1119.3 478.62L1119.8 478.61L1120.3 478.61L1120.8 478.6L1121.3 478.6L1121.8 478.6L1122.3 478.59L1122.8 478.59L1123.3 478.59L1123.8 478.58L1124.3 478.58L1124.8 478.58L1125.3 478.57L1125.8 478.57L1126.3 478.57L1126.8 478.56L1127.3 478.56L1127.8 478.56L1128.3 478.55L1128.8 478.55L1129.3 478.54L1129.8 478.54L1130.3 478.54L1130.8 478.53L1131.3 478.53L1131.8 478.53L1132.3 478.52L1132.8 478.52L1133.3 478.52L1133.8 478.51L1134.3 478.51L1134.8 478.5L1135.3 478.5L1135.8 478.5L1136.3 478.49L1136.8 478.49L1137.3 478.49L1137.8 478.48L1138.3 478.48L1138.8 478.47L1139.3 478.47L1139.8 478.47L1140.3 478.46L1140.8 478.46L1141.3 478.46L1141.8 478.46L1142.3 478.46L1142.8 478.45L1143.3 478.45L1143.8 478.45L1144.3 478.45L1144.8 478.45L1145.3 478.44L1145.8 478.44L1146.3 478.44L1146.8 478.44L1147.3 478.44L1147.8 478.43L1148.3 478.43L1148.8 478.43L1149.3 478.43L1149.8 478.42L1150.3 478.42L1150.8 478.42L1151.3 478.42L1151.8 478.41L1152.3 478.41L1152.8 478.41L1153.3 478.41L1153.8 478.4L1154.3 478.4L1154.8 478.4L1155.3 478.39L1155.8 478.39L1156.3 478.39L1156.8 478.38L1157.3 478.38L1157.8 478.38L1158.3 478.37L1158.8 478.37L1159.3 478.36L1159.8 478.36L1160.3 478.35L1160.8 478.35L1161.3 478.34L1161.8 478.34L1162.3 478.33L1162.8 478.33L1163.3 478.32L1163.8 478.31L1164.3 478.3L1164.8 478.3L1165.3 478.29L1165.8 478.28L1166.3 478.27L1166.8 478.25L1167.3 478.24L1167.8 478.23L1168.3 478.21L1168.8 478.19L1169.3 478.17L1169.8 478.15L1170.3 478.12L1170.8 478.09L1171.3 478.06L1171.8 478.02L1172.3 477.97L1172.8 477.91L1173.3 477.84L1173.8 477.75L1174.3 477.64L1174.8 477.5L1175.3 477.31L1175.8 477.07L1176.3 476.72L1176.8 476.22L1177.3 475.44L1177.46 475.1L1177.57 474.83L1177.68 474.53L1177.79 474.19L1177.8 474.16L1177.9 473.8L1178.01 473.35L1178.12 472.83L1178.23 472.23L1178.3 471.81L1178.34 471.54L1178.45 470.71L1178.56 469.72L1178.67 468.54L1178.78 467.09L1178.8 466.81L1178.89 465.31L1179 463.09L1179.11 460.28L1179.22 456.67L1179.3 453.41L1179.33 451.95L1179.44 445.71L1179.55 437.49L1179.66 426.53L1179.77 412.53L1179.8 408.24L1179.88 396.32L1179.99 381.3L1180.09 373.51L1180.1 373.04L1180.14 372.5L1180.2 373.89L1180.21 374.5L1180.3 380.62L1180.31 381.17L1180.32 382.19L1180.42 389.33L1180.43 390.22L1180.53 395.1L1180.54 395.65L1180.64 399L1180.65 399.51L1180.75 404.1L1180.76 404.91L1180.8 407.83L1180.86 412.57L1180.87 413.77L1180.97 423.34L1180.98 424.64L1181.08 433.91L1181.09 435.06L1181.19 442.81L1181.2 443.73L1181.3 449.78L1181.3 450L1181.31 450.48L1181.41 455.1L1181.42 455.63L1181.53 459.56L1181.64 462.59L1181.75 464.96L1181.8 465.88L1181.86 466.84L1181.97 468.33L1182.08 469.57L1182.19 470.59L1182.3 471.44L1182.3 471.45L1182.41 472.15L1182.52 472.76L1182.63 473.29L1182.74 473.74L1182.8 473.97L1183.3 475.31L1183.8 476.1L1184.3 476.61L1184.8 476.96L1185.3 477.2L1185.8 477.38L1186.3 477.52L1186.8 477.62L1187.3 477.7L1187.8 477.76L1188.3 477.81L1188.8 477.85L1189.3 477.88L1189.8 477.91L1190.3 477.93L1190.8 477.94L1191.3 477.96L1191.8 477.97L1192.3 477.98L1192.8 477.98L1193.3 477.98L1193.8 477.99L1194.3 477.99L1194.8 477.99L1195.3 477.99L1195.8 477.98L1196.3 477.98L1196.8 477.98L1197.3 477.97L1197.8 477.97L1198.3 477.96L1198.8 477.95L1199.3 477.95L1199.8 477.94L1200.3 477.93L1200.8 477.92L1201.3 477.91L1201.8 477.9L1202.3 477.89L1202.8 477.88L1203.3 477.86L1203.8 477.85L1204.3 477.84L1204.8 477.82L1205.3 477.8L1205.8 477.79L1206.3 477.77L1206.8 477.75L1207.3 477.73L1207.8 477.7L1208.3 477.68L1208.8 477.65L1209.3 477.62L1209.8 477.59L1210.3 477.56L1210.8 477.52L1211.3 477.48L1211.8 477.44L1212.3 477.39L1212.8 477.33L1213.3 477.27L1213.8 477.2L1214.3 477.13L1214.8 477.04L1215.3 476.94L1215.8 476.84L1216.3 476.71L1216.8 476.56L1217.3 476.38L1217.8 476.16L1218.3 475.89L1218.8 475.55L1219.3 475.12L1219.8 474.56L1220.3 473.81L1220.8 472.79L1221.3 471.34L1221.8 469.19L1222.15 466.95L1222.27 466.05L1222.3 465.78L1222.38 465.03L1222.5 463.87L1222.61 462.56L1222.73 461.04L1222.8 459.96L1222.84 459.3L1222.95 457.29L1223.07 454.9L1223.18 452.12L1223.3 448.77L1223.3 448.74L1223.38 446M1226.96 446L1227.07 449.73L1227.19 452.99L1227.3 455.65L1227.3 455.69L1227.42 458L1227.53 459.94L1227.64 461.62L1227.8 463.54L1228.3 467.88L1228.8 470.51L1229.3 472.23L1229.8 473.42L1230.3 474.27L1230.8 474.9L1231.3 475.37L1231.8 475.73L1232.3 476.01L1232.8 476.22L1233.3 476.37L1233.8 476.48L1234.3 476.54L1234.8 476.54L1235.3 476.47L1235.8 476.3L1235.92 476.23L1236.04 476.16L1236.15 476.08L1236.27 475.98L1236.3 475.95L1236.38 475.86L1236.5 475.72L1236.62 475.56L1236.73 475.37L1236.8 475.24L1236.85 475.15L1236.96 474.88L1237.08 474.55L1237.19 474.16L1237.3 473.73L1237.31 473.67L1237.43 473.07L1237.54 472.33L1237.66 471.37L1237.77 470.14L1237.8 469.81L1237.89 468.52L1238.01 466.4L1238.12 463.54L1238.24 459.76L1238.3 457.26L1238.35 454.93L1238.47 449.42L1238.58 444.32L1238.7 441.69L1238.72 441.6L1238.8 442.29L1238.81 442.52L1238.82 442.6L1238.93 445.69L1238.93 445.81L1239.04 449.08L1239.05 449.15L1239.16 451.36L1239.16 451.4L1239.28 452.35L1239.28 452.36L1239.3 452.44L1239.39 452.76L1239.39 452.78L1239.51 453.81L1239.51 453.86L1239.62 456.26L1239.63 456.34L1239.74 459.67L1239.74 459.76L1239.8 461.53L1239.85 463.09L1239.86 463.21L1239.97 466.03L1239.97 466.1L1240.09 468.35L1240.09 468.4L1240.2 470.12L1240.2 470.16L1240.3 471.28L1240.32 471.5L1240.44 472.53L1240.55 473.33L1240.67 473.98L1240.78 474.49L1240.8 474.56L1240.9 474.92L1241.02 475.26L1241.13 475.56L1241.25 475.81L1241.3 475.91L1241.36 476.02L1241.48 476.2L1241.8 476.6L1242.3 477L1242.8 477.26L1243.3 477.44L1243.8 477.57L1244.3 477.67L1244.8 477.75L1245.3 477.81L1245.8 477.87L1246.3 477.91L1246.8 477.95L1247.3 477.99L1247.8 478.02L1248.3 478.05L1248.8 478.07L1249.3 478.09L1249.8 478.11L1250.3 478.13L1250.8 478.15L1251.3 478.17L1251.8 478.18L1252.3 478.2L1252.8 478.21L1253.3 478.23L1253.8 478.24L1254.3 478.25L1254.8 478.26L1255.3 478.27L1255.8 478.29L1256.3 478.3L1256.8 478.31L1257.3 478.32L1257.8 478.32L1258.3 478.33L1258.8 478.34L1259.3 478.35L1259.8 478.36L1260.3 478.37L1260.8 478.37L1261.3 478.37L1261.8 478.38L1262.3 478.38L1262.8 478.39L1263.3 478.39L1263.8 478.39L1264.3 478.4L1264.8 478.4L1265.3 478.4L1265.8 478.4L1266.3 478.41L1266.8 478.41L1267.3 478.41L1267.8 478.41L1268.3 478.41L1268.8 478.41L1269.3 478.41L1269.8 478.42L1270.3 478.42L1270.8 478.42L1271.3 478.42L1271.8 478.42L1272.3 478.42L1272.8 478.41L1273.3 478.41L1273.8 478.41L1274.3 478.41L1274.8 478.4L1275.3 478.4L1275.8 478.4L1276.3 478.39L1276.8 478.38L1277.3 478.38L1277.8 478.37L1278.3 478.35L1278.8 478.34L1279.3 478.33L1279.8 478.31L1280.3 478.28L1280.8 478.26L1281.3 478.22L1281.8 478.18L1282.3 478.13L1282.8 478.07L1283.3 477.99L1283.8 477.89L1284.3 477.75L1284.8 477.57L1285.3 477.3L1285.8 476.92L1286.1 476.59L1286.22 476.43L1286.3 476.32L1286.34 476.25L1286.46 476.05L1286.58 475.82L1286.7 475.55L1286.8 475.31L1286.83 475.24L1286.95 474.89L1287.07 474.47L1287.19 473.97L1287.3 473.43L1287.31 473.39L1287.43 472.68L1287.55 471.82L1287.67 470.76L1287.79 469.43L1287.8 469.33L1287.91 467.74L1288.03 465.58L1288.15 462.77L1288.28 459.03L1288.3 458.11L1288.4 454.04L1288.52 447.44L1288.64 439.03L1288.76 429.44L1288.8 426.12L1288.88 420.66L1289 416.3L1289.02 416.2L1289.12 418.28L1289.23 423.54L1289.24 424.46L1289.3 427.77L1289.35 430.29L1289.36 431.03L1289.47 435.27L1289.48 435.75L1289.59 437.75L1289.6 437.89L1289.71 438.08L1289.72 438.02L1289.8 437.74L1289.83 437.7L1289.85 437.71L1289.95 438.75L1289.97 439.07L1290.07 442.44L1290.09 443.1L1290.19 448.01L1290.21 448.79L1290.3 453.18L1290.31 453.77L1290.33 454.48L1290.43 458.71L1290.45 459.28L1290.56 462.59L1290.57 463.01L1290.67 465.54L1290.69 465.88L1290.8 467.88L1290.81 468.07L1290.93 469.76L1291.05 471.07L1291.17 472.11L1291.3 472.95L1291.3 472.98L1291.42 473.64L1291.54 474.21L1291.66 474.68L1291.78 475.08L1291.8 475.15L1291.9 475.42L1292.3 476.25L1292.8 476.9L1293.3 477.31L1293.8 477.59L1294.3 477.78L1294.8 477.93L1295.3 478.04L1295.8 478.13L1296.3 478.19L1296.8 478.25L1297.3 478.29L1297.8 478.33L1298.3 478.36L1298.8 478.39L1299.3 478.42L1299.8 478.44L1300.3 478.45L1300.8 478.47L1301.3 478.49L1301.8 478.5L1302.3 478.51L1302.8 478.52L1303.3 478.53L1303.8 478.54L1304.3 478.55L1304.8 478.55L1305.3 478.56L1305.8 478.57L1306.3 478.57L1306.8 478.58L1307.3 478.59L1307.8 478.59L1308.3 478.6L1308.8 478.6L1309.3 478.6L1309.8 478.61L1310.3 478.61L1310.8 478.62L1311.3 478.62L1311.8 478.62L1312.3 478.63L1312.8 478.63L1313.3 478.63L1313.8 478.63L1314.3 478.64L1314.8 478.64L1315.3 478.64L1315.8 478.64L1316.3 478.64L1316.8 478.65L1317.3 478.65L1317.8 478.64L1318.3 478.64L1318.8 478.64L1319.3 478.63L1319.8 478.62L1319.82 478.62L1319.94 478.62L1320.07 478.61L1320.19 478.61L1320.3 478.6L1320.32 478.6L1320.44 478.6L1320.57 478.59L1320.69 478.58L1320.8 478.57L1320.81 478.57L1320.94 478.56L1321.06 478.54L1321.19 478.52L1321.3 478.5L1321.31 478.5L1321.43 478.47L1321.56 478.44L1321.68 478.39L1321.8 478.34L1321.81 478.33L1321.93 478.26L1322.06 478.16L1322.18 478.02L1322.3 477.85L1322.3 477.84L1322.43 477.62L1322.55 477.35L1322.68 477.12L1322.8 477L1322.81 477L1322.92 477.06L1323.05 477.24L1323.11 477.33L1323.17 477.43L1323.23 477.51L1323.3 477.57L1323.3 477.58L1323.35 477.62L1323.42 477.65L1323.48 477.66L1323.55 477.66L1323.6 477.65L1323.67 477.63L1323.73 477.62L1323.79 477.62L1323.8 477.62L1323.85 477.64L1323.92 477.68L1323.97 477.73L1324.04 477.81L1324.1 477.88L1324.17 477.96L1324.22 478.03L1324.29 478.11L1324.3 478.12L1324.35 478.17L1324.41 478.23L1324.47 478.27L1324.54 478.32L1324.6 478.35L1324.66 478.39L1324.79 478.44L1324.8 478.44L1324.91 478.48L1325.04 478.51L1325.16 478.54L1325.28 478.56L1325.3 478.56L1325.41 478.58L1325.53 478.59L1325.66 478.6L1325.78 478.61L1325.8 478.62L1326.3 478.64L1326.8 478.66L1327.3 478.68L1327.8 478.69L1328.3 478.69L1328.8 478.7L1329.3 478.7L1329.8 478.71L1330.3 478.71L1330.8 478.71L1331.3 478.72L1331.8 478.72L1332.3 478.72L1332.8 478.73L1333.3 478.73L1333.8 478.73L1334.3 478.73L1334.8 478.74L1335.3 478.74L1335.8 478.74L1336.3 478.74L1336.8 478.74L1337.3 478.75L1337.8 478.75L1338.3 478.75L1338.8 478.75L1339.3 478.75L1339.8 478.76L1340.3 478.76L1340.8 478.76L1341.3 478.76L1341.8 478.76L1342.3 478.76L1342.8 478.76L1343.3 478.75L1343.8 478.75L1344.3 478.75L1344.8 478.75L1345.3 478.75L1345.8 478.75L1346.3 478.75L1346.8 478.75L1347.3 478.75L1347.8 478.75L1348.3 478.75L1348.8 478.75L1349.3 478.75L1349.8 478.75L1350.3 478.75L1350.8 478.75L1351.3 478.75L1351.8 478.74L1352.3 478.74L1352.8 478.74L1353.3 478.74L1353.8 478.74L1354.3 478.74L1354.8 478.74L1355.3 478.73L1355.8 478.73L1356.3 478.73L1356.8 478.73L1357.3 478.73L1357.8 478.72L1358.3 478.72L1358.8 478.72L1359.3 478.72L1359.8 478.71L1360.3 478.71L1360.8 478.71L1361.3 478.7L1361.8 478.7L1362.3 478.69L1362.8 478.69L1363.3 478.68L1363.8 478.67L1364.3 478.66L1364.8 478.65L1365.3 478.64L1365.8 478.63L1366.3 478.62L1366.8 478.6L1367.3 478.58L1367.8 478.56L1368.3 478.53L1368.8 478.49L1369.3 478.45L1369.8 478.4L1370.3 478.33L1370.8 478.24L1371.3 478.12L1371.8 477.94L1372.29 477.69L1372.3 477.69L1372.42 477.61L1372.55 477.51L1372.68 477.4L1372.8 477.29L1372.81 477.28L1372.94 477.13L1373.07 476.97L1373.2 476.78L1373.3 476.61L1373.33 476.55L1373.46 476.29L1373.59 475.97L1373.72 475.6L1373.8 475.31L1373.85 475.13L1373.98 474.57L1374.11 473.85L1374.23 472.95L1374.3 472.41L1374.36 471.8L1374.49 470.28L1374.62 468.28L1374.75 465.59L1374.8 464.41L1374.88 462.06L1375.01 457.53L1375.14 452.37L1375.27 447.7L1375.3 446.93L1375.4 445.52L1375.42 445.5L1375.53 446.83L1375.66 450.56L1375.79 454.63L1375.8 454.97L1375.84 455.95L1375.92 457.81L1375.96 458.64L1376.05 459.66L1376.1 460.01L1376.18 460.22L1376.22 460.14L1376.3 459.76L1376.31 459.72L1376.35 459.37L1376.44 458.76L1376.48 458.48L1376.57 458.36L1376.61 458.55L1376.69 459.43L1376.74 460.23L1376.8 461.39L1376.82 461.92L1376.87 462.99L1376.95 464.88L1377 465.95L1377.08 467.62L1377.13 468.48L1377.21 469.81L1377.26 470.5L1377.3 471.02L1377.34 471.52L1377.39 472.03L1377.47 472.8L1377.6 473.78L1377.73 474.55L1377.8 474.89L1377.86 475.15L1377.99 475.63L1378.12 476.01L1378.25 476.33L1378.3 476.45L1378.38 476.6L1378.51 476.82L1378.8 477.21L1379.3 477.63L1379.8 477.9L1380.3 478.08L1380.8 478.2L1381.3 478.29L1381.8 478.35L1382.3 478.4L1382.8 478.44L1383.3 478.47L1383.8 478.5L1384.3 478.51L1384.8 478.53L1385.3 478.54L1385.8 478.55L1386.3 478.55L1386.8 478.56L1387.3 478.56L1387.8 478.56L1388.3 478.56L1388.8 478.56L1389.3 478.55L1389.8 478.55L1390.3 478.54L1390.8 478.53L1391.3 478.52L1391.8 478.51L1392.3 478.49L1392.8 478.48L1393.3 478.46L1393.8 478.43L1394.3 478.41L1394.8 478.38L1395.3 478.34L1395.8 478.3L1396.3 478.25L1396.8 478.19L1397.3 478.13L1397.8 478.04L1398.3 477.94L1398.8 477.82L1399.3 477.66L1399.8 477.46L1400.3 477.19L1400.8 476.83L1401.3 476.34L1401.8 475.62L1401.92 475.4L1402.06 475.12L1402.19 474.82L1402.3 474.52L1402.32 474.47L1402.45 474.07L1402.58 473.62L1402.72 473.09L1402.8 472.72L1402.85 472.49L1402.98 471.78L1403.11 470.93L1403.25 469.93L1403.3 469.47L1403.38 468.72L1403.51 467.25L1403.64 465.44L1403.78 463.17L1403.8 462.7L1403.91 460.3L1404.04 456.58L1404.17 452M1407.05 452L1407.07 452.76L1407.09 453.42L1407.2 457.6L1407.22 458.13L1407.3 460.42L1407.35 461.69L1407.48 464.42L1407.62 466.57L1407.75 468.25L1407.8 468.82L1407.88 469.62L1408.01 470.72L1408.14 471.63L1408.28 472.4L1408.3 472.51L1408.8 474.45L1409.3 475.6L1409.8 476.33L1410.3 476.83L1410.8 477.19L1411.3 477.46L1411.8 477.66L1412.3 477.82L1412.8 477.95L1413.3 478.05L1413.8 478.13L1414.3 478.2L1414.8 478.26L1415.3 478.3L1415.8 478.35L1416.3 478.38L1416.8 478.41L1417.3 478.44L1417.8 478.46L1418.3 478.48L1418.8 478.5L1419.3 478.52L1419.8 478.53L1420.3 478.54L1420.8 478.55L1421.3 478.56L1421.8 478.57L1422.3 478.58L1422.8 478.58L1423.3 478.59L1423.8 478.59L1424.3 478.6L1424.8 478.6L1425.3 478.6L1425.8 478.6L1426.3 478.6L1426.8 478.61L1427.3 478.61L1427.8 478.61L1428.3 478.6L1428.8 478.6L1429.3 478.6L1429.8 478.6L1430.3 478.6L1430.8 478.59L1431.3 478.59L1431.8 478.59L1432.3 478.58L1432.8 478.58L1433.3 478.57L1433.8 478.56L1434.3 478.56L1434.8 478.55L1435.3 478.54L1435.8 478.53L1436.3 478.52L1436.8 478.5L1437.3 478.49L1437.8 478.47L1438.3 478.46L1438.8 478.44L1439.3 478.42L1439.8 478.39L1440.3 478.36L1440.8 478.33L1441.3 478.29L1441.8 478.25L1442.3 478.2L1442.8 478.15L1443.3 478.08L1443.8 478L1444.3 477.91L1444.8 477.8L1445.3 477.66L1445.8 477.49L1446.3 477.28L1446.8 477.01L1447.3 476.65L1447.8 476.16L1448.3 475.48L1448.71 474.7L1448.8 474.49L1448.85 474.37L1448.98 474L1449.12 473.59L1449.26 473.11L1449.3 472.95L1449.39 472.57L1449.53 471.94L1449.67 471.21L1449.8 470.4L1449.81 470.36L1449.94 469.34L1450.08 468.13L1450.22 466.68L1450.3 465.67L1450.36 464.92L1450.49 462.74L1450.63 460.01L1450.77 456.56L1450.8 455.56L1450.9 452.11L1451.04 446.28L1451.06 445M1454.09 445L1454.15 447.98L1454.19 449.96L1454.29 453.73L1454.3 454.17L1454.33 455.24L1454.47 459.26L1454.61 462.35L1454.74 464.76L1454.8 465.62L1454.88 466.67L1455.02 468.21L1455.15 469.47L1455.29 470.51L1455.3 470.58L1455.8 473.14L1456.3 474.64L1456.8 475.6L1457.3 476.25L1457.8 476.72L1458.3 477.06L1458.8 477.32L1459.3 477.52L1459.8 477.69L1460.3 477.82L1460.8 477.92L1461.3 478.01L1461.8 478.09L1462.3 478.15L1462.8 478.2L1463.3 478.25L1463.8 478.29L1464.3 478.33L1464.8 478.36L1465.3 478.38L1465.8 478.41L1466.3 478.43L1466.8 478.45L1467.3 478.46L1467.8 478.48L1468.3 478.49L1468.8 478.5L1469.3 478.51L1469.8 478.52L1470.3 478.53L1470.8 478.53L1471.3 478.54L1471.8 478.54L1472.3 478.55L1472.8 478.55L1473.3 478.55L1473.8 478.54L1474.3 478.54L1474.8 478.53L1475.3 478.51L1475.44 478.5L1475.59 478.5L1475.72 478.49L1475.8 478.48L1475.87 478.48L1476 478.47L1476.14 478.45L1476.28 478.44L1476.3 478.44L1476.42 478.42L1476.56 478.4L1476.7 478.37L1476.8 478.35L1476.84 478.34L1476.98 478.31L1477.12 478.26L1477.26 478.2L1477.3 478.19L1477.4 478.13L1477.54 478.04L1477.68 477.93L1477.8 477.8L1477.82 477.78L1477.96 477.58L1478.1 477.31L1478.24 476.95L1478.3 476.77L1478.38 476.49L1478.52 475.98L1478.66 475.51L1478.8 475.3L1478.81 475.3L1478.94 475.46L1479.08 475.86L1479.22 476.31L1479.3 476.54L1479.36 476.68L1479.5 476.94L1479.52 476.97L1479.64 477.07L1479.66 477.09L1479.78 477.1L1479.8 477.1L1479.8 477.1L1479.92 477.04L1479.94 477.02L1480.06 476.9L1480.08 476.87L1480.2 476.75L1480.22 476.73L1480.3 476.7L1480.34 476.7L1480.36 476.7L1480.48 476.81L1480.5 476.85L1480.62 477.06L1480.64 477.11L1480.76 477.35L1480.78 477.4L1480.8 477.44L1480.9 477.61L1480.92 477.65L1481.04 477.81L1481.06 477.84L1481.18 477.97L1481.2 477.99L1481.3 478.08L1481.32 478.09L1481.46 478.18L1481.6 478.25L1481.73 478.31L1481.8 478.33L1481.88 478.35L1482.02 478.39L1482.15 478.42L1482.3 478.44L1482.8 478.5L1483.3 478.54L1483.8 478.57L1484.3 478.58L1484.8 478.6L1485.3 478.61L1485.8 478.61L1486.3 478.62L1486.8 478.62L1487.3 478.63L1487.8 478.63L1488.3 478.63L1488.8 478.64L1489.3 478.64L1489.8 478.64L1490.3 478.64L1490.8 478.64L1491.3 478.64L1491.8 478.65L1492.3 478.65L1492.8 478.65L1493.3 478.65L1493.8 478.65L1494.3 478.65L1494.8 478.65L1495.3 478.65L1495.8 478.65L1496.3 478.65L1496.8 478.65L1497.3 478.65L1497.8 478.65L1498.3 478.65L1498.8 478.65L1499.3 478.65L1499.8 478.65L1500.3 478.65L1500.8 478.65L1501.3 478.65L1501.8 478.65L1502.3 478.64L1502.8 478.64L1503.3 478.64L1503.8 478.64L1504.3 478.64L1504.8 478.64L1505.3 478.64L1505.8 478.64L1506.3 478.64L1506.8 478.64L1507.3 478.63L1507.8 478.63L1508.3 478.63L1508.8 478.63L1509.3 478.63L1509.8 478.62L1510.3 478.62L1510.8 478.62L1511.3 478.61L1511.8 478.61L1512.3 478.61L1512.8 478.6L1513.3 478.6L1513.8 478.59L1514.3 478.58L1514.8 478.58L1515.3 478.57L1515.8 478.56L1516.3 478.54L1516.8 478.53L1517.3 478.51L1517.8 478.48L1518.3 478.45L1518.8 478.4L1519.3 478.34L1519.54 478.3L1519.68 478.27L1519.8 478.24L1519.83 478.24L1519.97 478.2L1520.12 478.16L1520.26 478.11L1520.3 478.1L1520.4 478.06L1520.55 478L1520.69 477.92L1520.8 477.86L1520.84 477.84L1520.98 477.74L1521.12 477.61L1521.27 477.46L1521.3 477.43L1521.41 477.28L1521.56 477.04L1521.7 476.75L1521.8 476.5L1521.85 476.37L1521.99 475.87L1522.13 475.21L1522.28 474.34L1522.3 474.19L1522.42 473.17L1522.57 471.69L1522.71 469.99L1522.8 469L1522.86 468.48L1523 467.8L1523 467.8L1523.14 468.32L1523.29 469.66L1523.3 469.79L1523.43 471.18L1523.58 472.43L1523.72 473.32L1523.8 473.65L1523.86 473.84L1523.87 473.85L1524 474.05L1524.01 474.05L1524.15 473.97L1524.15 473.96L1524.29 473.61L1524.3 473.59L1524.3 473.58L1524.44 473.07L1524.44 473.04L1524.58 472.56L1524.59 472.54L1524.72 472.43L1524.73 472.44L1524.8 472.6L1524.87 472.87L1524.88 472.91L1525.01 473.71L1525.02 473.76L1525.16 474.64L1525.16 474.67L1525.3 475.43L1525.3 475.44L1525.31 475.47L1525.44 476.07L1525.45 476.09L1525.59 476.55L1525.6 476.57L1525.74 476.93L1525.8 477.05L1525.88 477.2L1526.03 477.41L1526.17 477.58L1526.3 477.7L1526.32 477.72L1526.46 477.83L1526.8 478.01L1527.3 478.19L1527.8 478.29L1528.3 478.36L1528.8 478.41L1529.3 478.44L1529.8 478.46L1530.3 478.48L1530.8 478.49L1531.3 478.5L1531.8 478.51L1532.3 478.52L1532.8 478.52L1533.3 478.52L1533.8 478.52L1534.3 478.52L1534.8 478.52L1535.3 478.52L1535.8 478.51L1536.3 478.51L1536.8 478.5L1537.3 478.5L1537.8 478.49L1538.3 478.48L1538.8 478.46L1539.3 478.45L1539.8 478.43L1540.3 478.41L1540.8 478.38L1541.3 478.35L1541.8 478.32L1542.3 478.27L1542.8 478.21L1543.3 478.14L1543.8 478.04L1544.3 477.9L1544.78 477.72L1544.8 477.71L1544.92 477.65L1545.07 477.57L1545.22 477.48L1545.3 477.42L1545.37 477.38L1545.51 477.26L1545.66 477.13L1545.8 476.98L1545.81 476.97L1545.95 476.79L1546.1 476.57L1546.25 476.31L1546.3 476.21L1546.39 476L1546.54 475.63L1546.69 475.16L1546.8 474.72L1546.83 474.58L1546.98 473.84L1547.13 472.89L1547.27 471.64L1547.3 471.37L1547.42 469.98L1547.57 467.79L1547.71 464.86L1547.8 462.74L1547.86 461.13L1548.01 456.87L1548.15 453.09L1548.3 451.4L1548.45 452.73L1548.59 456.12L1548.74 459.95L1548.8 461.37L1548.89 463.17L1549.03 465.48L1549.18 466.9L1549.24 467.27L1549.3 467.49L1549.33 467.55L1549.39 467.61L1549.47 467.48L1549.54 467.24L1549.62 466.73L1549.68 466.24L1549.77 465.43L1549.8 465.09L1549.83 464.79L1549.91 463.95L1549.98 463.45L1550.06 463.06L1550.12 463.08L1550.21 463.53L1550.27 464.15L1550.3 464.53L1550.35 465.28L1550.42 466.23L1550.5 467.57L1550.56 468.52L1550.65 469.72L1550.71 470.51L1550.79 471.45L1550.8 471.52L1550.86 472.07L1550.94 472.8L1551 473.26L1551.09 473.81L1551.23 474.58L1551.3 474.85L1551.38 475.16L1551.53 475.61L1551.67 475.97L1551.8 476.22L1551.82 476.26L1552.3 476.85L1552.8 477.16L1552.96 477.21L1553.11 477.24L1553.25 477.27L1553.3 477.27L1553.4 477.27L1553.55 477.27L1553.7 477.25L1553.8 477.23L1553.84 477.22L1553.99 477.17L1554.14 477.1L1554.29 477.01L1554.3 477.01L1554.43 476.9L1554.58 476.76L1554.73 476.57L1554.8 476.47L1554.88 476.33L1555.02 476.03L1555.17 475.64L1555.3 475.21L1555.32 475.13L1555.47 474.46L1555.62 473.55L1555.76 472.34L1555.8 471.97L1555.91 470.73L1556.06 468.68L1556.2 466.32L1556.3 464.89L1556.35 464.23L1556.5 463.3L1556.51 463.3L1556.65 464.06L1556.8 465.96L1556.8 466.03L1556.94 468.11L1557.09 469.91L1557.24 471.22L1557.3 471.62L1557.38 472.04L1557.47 472.32L1557.53 472.44L1557.62 472.48L1557.68 472.43L1557.77 472.26L1557.8 472.16L1557.83 472.06L1557.91 471.69L1557.98 471.36L1558.06 470.89L1558.12 470.53L1558.21 470.14L1558.27 469.96L1558.3 469.92L1558.36 469.93L1558.42 470.09L1558.5 470.53L1558.57 470.99L1558.65 471.7L1558.71 472.24L1558.8 472.97L1558.8 472.99L1558.86 473.47L1558.95 474.08L1559.01 474.48L1559.09 474.96L1559.16 475.27L1559.24 475.63L1559.3 475.85L1559.3 475.86L1559.45 476.32L1559.6 476.67L1559.75 476.94L1559.8 477.02L1559.89 477.15L1560.04 477.33L1560.3 477.56L1560.8 477.85L1561.3 478.03L1561.8 478.15L1562.3 478.23L1562.8 478.29L1563.3 478.34L1563.8 478.37L1564.3 478.4L1564.8 478.42L1565.3 478.44L1565.8 478.46L1566.3 478.47L1566.8 478.48L1567.3 478.49L1567.8 478.5L1568.3 478.51L1568.8 478.51L1569.3 478.52L1569.8 478.52L1570.3 478.53L1570.8 478.53L1571.3 478.53L1571.8 478.54L1572.3 478.54L1572.8 478.54L1573.3 478.54L1573.8 478.54L1574.3 478.55L1574.8 478.55L1575.3 478.55L1575.8 478.55L1576.3 478.55L1576.8 478.55L1577.3 478.55L1577.8 478.55L1578.3 478.55L1578.8 478.55L1579.3 478.54L1579.8 478.54L1580.3 478.54L1580.8 478.54L1581.3 478.53L1581.8 478.53L1582.3 478.53L1582.8 478.52L1583.3 478.51L1583.8 478.51L1584.3 478.49L1584.8 478.48L1585.3 478.46L1585.8 478.44L1586.3 478.41L1586.68 478.38L1586.8 478.36L1586.83 478.36L1586.98 478.34L1587.13 478.32L1587.28 478.3L1587.3 478.29L1587.43 478.27L1587.58 478.24L1587.73 478.2L1587.8 478.19L1587.88 478.16L1588.04 478.11L1588.19 478.05L1588.3 478L1588.34 477.98L1588.49 477.9L1588.64 477.79L1588.79 477.66L1588.8 477.65L1588.94 477.48L1589.09 477.26L1589.24 476.98L1589.3 476.85L1589.39 476.6L1589.55 476.09L1589.7 475.41L1589.8 474.84L1589.85 474.55L1590 473.56L1590.15 472.69L1590.3 472.3L1590.31 472.3L1590.45 472.62L1590.6 473.42L1590.75 474.32L1590.8 474.58L1590.9 475.09L1591.06 475.65L1591.21 476.01L1591.3 476.15L1591.36 476.21L1591.39 476.23L1591.51 476.26L1591.54 476.25L1591.66 476.16L1591.69 476.11L1591.8 475.94L1591.81 475.92L1591.84 475.85L1591.96 475.57L1591.99 475.49L1592.11 475.22L1592.14 475.16L1592.26 475.05L1592.3 475.06L1592.3 475.06L1592.41 475.22L1592.45 475.3L1592.56 475.66L1592.6 475.78L1592.71 476.19L1592.75 476.3L1592.8 476.47L1592.87 476.66L1592.9 476.76L1593.02 477.05L1593.05 477.12L1593.17 477.34L1593.2 477.4L1593.3 477.54L1593.32 477.56L1593.47 477.73L1593.62 477.86L1593.77 477.96L1593.8 477.98L1593.92 478.04L1594.3 478.19L1594.8 478.3L1595.3 478.37L1595.8 478.41L1596.3 478.44L1596.8 478.46L1597.3 478.48L1597.8 478.49L1598.3 478.5L1598.8 478.51L1599.3 478.52L1599.8 478.52L1600.3 478.53L1600.8 478.53L1601.3 478.53L1601.8 478.53L1602.3 478.54L1602.8 478.54L1603.3 478.54L1603.8 478.54L1604.3 478.54L1604.8 478.54L1605.3 478.54L1605.8 478.54L1606.3 478.54L1606.8 478.54L1607.3 478.54L1607.8 478.54L1608.3 478.54L1608.8 478.54L1609.3 478.53L1609.8 478.53L1610.3 478.53L1610.8 478.52L1611.3 478.52L1611.62 478.51L1611.77 478.51L1611.8 478.51L1611.92 478.51L1612.08 478.5L1612.23 478.5L1612.3 478.5L1612.38 478.49L1612.54 478.49L1612.69 478.48L1612.8 478.48L1612.85 478.47L1613 478.46L1613.15 478.45L1613.3 478.44L1613.31 478.44L1613.46 478.42L1613.61 478.41L1613.77 478.38L1613.8 478.37L1613.92 478.35L1614.07 478.31L1614.23 478.26L1614.3 478.23L1614.38 478.19L1614.53 478.09L1614.69 477.97L1614.8 477.86L1614.84 477.81L1614.99 477.63L1615.15 477.47L1615.3 477.4L1615.31 477.4L1615.45 477.46L1615.61 477.61L1615.76 477.77L1615.8 477.81L1615.91 477.92L1616.07 478.02L1616.22 478.09L1616.3 478.11L1616.37 478.13L1616.48 478.14L1616.53 478.14L1616.64 478.14L1616.68 478.13L1616.79 478.11L1616.8 478.11L1616.83 478.1L1616.94 478.06L1616.99 478.04L1617.1 477.99L1617.14 477.97L1617.25 477.93L1617.3 477.92L1617.3 477.91L1617.4 477.91L1617.45 477.91L1617.56 477.95L1617.6 477.97L1617.71 478.04L1617.76 478.06L1617.8 478.09L1617.87 478.13L1617.91 478.16L1618.02 478.22L1618.06 478.24L1618.17 478.28L1618.21 478.3L1618.3 478.32L1618.33 478.33L1618.37 478.34L1618.52 478.38L1618.67 478.4L1618.8 478.42L1618.83 478.43L1618.98 478.44L1619.3 478.47L1619.8 478.49L1620.3 478.5L1620.8 478.51L1621.3 478.52L1621.8 478.52L1622.3 478.52L1622.8 478.53L1623.3 478.53L1623.8 478.53L1624.3 478.53L1624.8 478.53L1625.3 478.53L1625.8 478.53L1626.3 478.53L1626.8 478.53L1627.3 478.53L1627.8 478.53L1628.3 478.53L1628.8 478.53L1629.3 478.53L1629.8 478.53L1630.3 478.53L1630.8 478.53L1631.3 478.53L1631.8 478.53L1632.3 478.53L1632.8 478.52L1633.3 478.52L1633.8 478.52L1634.3 478.52L1634.8 478.52L1635.3 478.52L1635.8 478.52L1636.3 478.52L1636.8 478.52L1637.3 478.52L1637.8 478.51L1638.3 478.51L1638.8 478.51L1639.3 478.51L1639.8 478.51L1640.3 478.51L1640.8 478.5L1641.3 478.5L1641.8 478.5L1642.3 478.5L1642.8 478.5L1643.3 478.49L1643.8 478.49L1644.3 478.49L1644.8 478.48L1645.3 478.48L1645.8 478.47L1646.3 478.47L1646.8 478.46L1647.3 478.45L1647.8 478.44L1648.3 478.43L1648.8 478.42L1649.3 478.41L1649.8 478.39L1650.3 478.36L1650.8 478.33L1651.3 478.29L1651.8 478.24L1652.12 478.19L1652.28 478.17L1652.3 478.16L1652.43 478.14L1652.59 478.11L1652.75 478.07L1652.8 478.05L1652.91 478.02L1653.07 477.97L1653.22 477.91L1653.3 477.88L1653.38 477.85L1653.54 477.76L1653.69 477.67L1653.8 477.59L1653.85 477.55L1654.01 477.41L1654.17 477.23L1654.3 477.05L1654.33 477.01L1654.48 476.73L1654.64 476.37L1654.8 475.89L1654.8 475.89L1654.95 475.27L1655.11 474.42L1655.27 473.31L1655.3 473.06L1655.43 471.89L1655.59 470.27L1655.74 468.82L1655.8 468.47L1655.9 468.2L1655.9 468.2L1656.06 468.73L1656.21 470.08L1656.3 470.92L1656.37 471.6L1656.53 472.91L1656.69 473.88L1656.8 474.39L1656.85 474.55L1657 474.97L1657.16 475.17L1657.25 475.2L1657.3 475.18L1657.32 475.17L1657.41 475.08L1657.47 474.97L1657.56 474.77L1657.63 474.57L1657.72 474.26L1657.79 473.99L1657.8 473.94L1657.88 473.61L1657.95 473.33L1658.04 473.02L1658.11 472.87L1658.19 472.83L1658.26 472.92L1658.3 473.02L1658.35 473.21L1658.42 473.51L1658.51 473.98L1658.58 474.35L1658.67 474.83L1658.73 475.17L1658.8 475.47L1658.82 475.58L1658.89 475.85L1658.98 476.17L1659.05 476.38L1659.14 476.61L1659.21 476.77L1659.3 476.96L1659.37 477.07L1659.52 477.3L1659.68 477.48L1659.8 477.59L1660.3 477.9L1660.8 478.07L1661.3 478.18L1661.8 478.25L1662.3 478.3L1662.8 478.33L1663.3 478.36L1663.8 478.38L1664.3 478.4L1664.8 478.41L1665.3 478.42L1665.8 478.43L1666.3 478.44L1666.8 478.44L1667.3 478.45L1667.8 478.45L1668.3 478.46L1668.8 478.46L1669.3 478.46L1669.8 478.46L1670.3 478.47L1670.8 478.47L1671.3 478.47L1671.8 478.47L1672.3 478.47" stroke="#f00" stroke-width="2" fill="none" stroke-linejoin="round"/>
<path d="M1223.3 446.89L1223.3 446.85L1223.41 442.63L1223.53 437.46L1223.64 431.03L1223.76 423.08L1223.8 419.48L1223.87 413.01L1223.98 399.94L1224.1 383.04L1224.21 360.48L1224.3 338.81L1224.33 330.68L1224.44 291.31L1224.56 240.65L1224.67 182.72L1224.79 129.14L1224.8 123.96L1224.9 101.37L1224.92 100.2L1224.98 104.1L1225.01 109.76L1225.1 132L1225.13 142.01L1225.21 166.94L1225.24 175.5L1225.3 188.24L1225.33 192.73L1225.36 197.65L1225.44 205.56L1225.47 207.48L1225.55 211.87L1225.59 214.19L1225.67 224.4L1225.7 230.37L1225.78 250.78L1225.8 255.77L1225.82 260.32L1225.9 286.76L1225.93 297.57L1226.01 323.26L1226.04 332.55L1226.13 354.01L1226.16 361.44L1226.24 378.37L1226.27 384.06L1226.3 388.54L1226.36 396.82L1226.39 401.16L1226.5 414.24L1226.62 424.43L1226.73 432.34L1226.8 436.37L1226.85 438.68L1226.96 443.76L1227.07 447.91" stroke="#000" stroke-width="1.3" stroke-dasharray="1.3 3.2" fill="none"/>
<path d="M1223.3 448.77L1223.3 448.74L1223.41 444.77L1223.53 439.91L1223.64 433.87L1223.76 426.39L1223.8 423.01L1223.87 416.93L1223.98 404.66L1224.1 388.77L1224.21 367.57L1224.3 347.21L1224.33 339.58L1224.44 302.57L1224.56 254.98L1224.67 200.54L1224.79 150.19L1224.8 145.32L1224.9 124.1L1224.92 123L1224.98 126.66L1225.01 131.98L1225.1 152.88L1225.13 162.29L1225.21 185.72L1225.24 193.76L1225.3 205.73L1225.33 209.95L1225.36 214.57L1225.44 222.01L1225.47 223.81L1225.55 227.93L1225.59 230.12L1225.67 239.71L1225.7 245.32L1225.78 264.5L1225.8 269.18L1225.82 273.46L1225.9 298.3L1225.93 308.46L1226.01 332.61L1226.04 341.34L1226.13 361.5L1226.16 368.48L1226.24 384.39L1226.27 389.74L1226.3 393.95L1226.36 401.72L1226.39 405.8L1226.5 418.09L1226.62 427.66L1226.73 435.1L1226.8 438.89L1226.85 441.06L1226.96 445.83" stroke="#f00" stroke-width="1.6" stroke-dasharray="1.7 2.6" stroke-dashoffset="-2.2" fill="none"/>
<path d="M1404.17 451.75L1404.3 445.64L1404.31 445.3L1404.44 436.77L1404.57 425.48L1404.7 410.99L1404.8 398.93L1404.84 394.51L1404.97 379.62L1405.1 372.75L1405.11 372.7L1405.23 377.17L1405.3 382.88L1405.37 389.4L1405.5 402.84L1405.61 412.51L1405.63 413.59L1405.75 419.62L1405.76 420.2L1405.8 421.34L1405.88 422.65L1405.89 422.76L1406.01 422.03L1406.03 421.75L1406.14 418.85L1406.16 418.39L1406.28 415.44L1406.29 415.18L1406.3 415.07L1406.41 415.29L1406.42 415.63L1406.54 420.34L1406.56 421.31L1406.67 429.07L1406.69 430.22L1406.8 438L1406.81 438.34L1406.82 439.4L1406.94 446.42L1406.95 447.28L1407.07 452.76L1407.09 453.42M1451.04 446.28L1451.18 438.57L1451.3 429.47L1451.31 428.27L1451.45 414.53L1451.59 397.16L1451.73 377.26L1451.8 366.93L1451.86 359.47L1452 351.34L1452.01 351.3L1452.14 357.03L1452.27 372.2L1452.3 375.48L1452.41 389.11L1452.55 402.89L1452.64 409.73L1452.69 412.07L1452.78 415.62L1452.8 416.1L1452.82 416.54L1452.92 417.12L1452.96 416.77L1453.05 414.78L1453.1 413.4L1453.19 409.76L1453.23 408.01L1453.3 405.61L1453.33 404.77L1453.37 403.9L1453.47 403.99L1453.51 405.06L1453.6 409.68L1453.64 412.51L1453.74 419.88L1453.78 423.32L1453.8 424.78L1453.88 430.88L1453.92 434.02L1454.01 440.43L1454.06 442.96L1454.15 447.98" stroke="#000" stroke-width="1.8" stroke-dasharray="1.5 2" fill="none"/>
<path d="M1404.17 451.75L1404.3 445.64L1404.31 445.3L1404.44 436.77L1404.57 425.48L1404.7 410.99L1404.8 398.94L1404.84 394.51L1404.97 379.62L1405.1 372.75L1405.11 372.7L1405.23 377.17L1405.3 382.88L1405.37 389.4L1405.5 402.84L1405.61 412.51L1405.63 413.59L1405.75 419.62L1405.76 420.2L1405.8 421.34L1405.88 422.65L1405.89 422.76L1406.01 422.03L1406.03 421.75L1406.14 418.85L1406.16 418.39L1406.28 415.44L1406.29 415.18L1406.3 415.07L1406.41 415.29L1406.42 415.63L1406.54 420.34L1406.56 421.31L1406.67 429.07L1406.69 430.22L1406.8 438L1406.81 438.34L1406.82 439.4L1406.94 446.42L1406.95 447.28L1407.07 452.76L1407.09 453.42M1451.04 446.28L1451.18 438.57L1451.3 429.47L1451.31 428.27L1451.45 414.53L1451.59 397.16L1451.73 377.26L1451.8 366.93L1451.86 359.47L1452 351.34L1452.01 351.3L1452.14 357.03L1452.27 372.2L1452.3 375.48L1452.41 389.11L1452.55 402.89L1452.64 409.73L1452.69 412.07L1452.78 415.62L1452.8 416.1L1452.82 416.54L1452.92 417.12L1452.96 416.77L1453.05 414.78L1453.1 413.4L1453.19 409.76L1453.23 408.01L1453.3 405.61L1453.33 404.77L1453.37 403.9L1453.47 403.99L1453.51 405.06L1453.6 409.68L1453.64 412.51L1453.74 419.88L1453.78 423.32L1453.8 424.78L1453.88 430.88L1453.92 434.02L1454.01 440.43L1454.06 442.96L1454.15 447.98" stroke="#f00" stroke-width="2" stroke-dasharray="2.2 1.3" stroke-dashoffset="-1.5" fill="none"/>
<path d="M1404.8 398.94L1404.84 394.51L1404.97 379.62L1405.1 372.75L1405.11 372.7L1405.23 377.17L1405.3 382.88L1405.37 389.4M1451.86 359.47L1452 351.34L1452.01 351.3L1452.14 357.03" stroke="#f00" stroke-width="2" fill="none" stroke-linejoin="round"/>
<circle cx="1223.9" cy="467.6" r="3.4" fill="#f00"/>
<path d="M1223.6 441.5V466" stroke="#f00" stroke-width="1.6"/>
<path d="M1082 513.3V531.7M1180 513.3V531.7M1225.4 513.3V531.7M1239 513.3V531.7M1289 513.3V531.7M1323.3 513.3V531.7M1376.3 513.3V531.7M1452.2 513.3V531.7" stroke="#00f" stroke-width="2.1" fill="none"/>
<path d="M1405.4 513.3V531.7M1479.1 513.3V531.7M1488.3 513.3V531.7M1549.1 513.3V531.7M1615.4 513.3V531.7" stroke="#00f" stroke-width="3" fill="none"/>
<path d="M1522.25 513.3V531.7M1523.95 513.3V531.7M1556.45 513.3V531.7M1558.55 513.3V531.7M1590.05 513.3V531.7M1592.15 513.3V531.7M1655.75 513.3V531.7M1657.85 513.3V531.7M1680.15 513.3V531.7M1682.45 513.3V531.7" stroke="#00f" stroke-width="1.3" fill="none"/>
<path d="M1010 574.3L1010.7 574.3L1011.4 574.3L1012.1 574.3L1012.8 574.3L1013.5 574.3L1014.2 574.3L1014.9 574.3L1015.6 574.3L1016.3 574.3L1017 574.3L1017.7 574.3L1018.4 574.3L1019.1 574.3L1019.8 574.3L1020.5 574.3L1021.2 574.3L1021.9 574.3L1022.6 574.3L1023.3 574.3L1024 574.3L1024.7 574.3L1025.4 574.3L1026.1 574.3L1026.8 574.3L1027.5 574.3L1028.2 574.3L1028.9 574.3L1029.6 574.3L1030.3 574.3L1031 574.3L1031.7 574.3L1032.4 574.3L1033.1 574.3L1033.8 574.3L1034.5 574.3L1035.2 574.3L1035.9 574.3L1036.6 574.3L1037.3 574.3L1038 574.3L1038.7 574.3L1039.4 574.3L1040.1 574.3L1040.8 574.3L1041.5 574.3L1042.2 574.3L1042.9 574.3L1043.6 574.3L1044.3 574.3L1045 574.3L1045.7 574.3L1046.4 574.3L1047.1 574.3L1047.8 574.3L1048.5 574.3L1049.2 574.3L1049.9 574.3L1050.6 574.3L1051.3 574.3L1052 574.3L1052.7 574.3L1053.4 574.3L1054.1 574.3L1054.8 574.3L1055.5 574.3L1056.2 574.3L1056.9 574.3L1057.6 574.3L1058.3 574.3L1059 574.3L1059.7 574.3L1060.4 574.3L1061.1 574.3L1061.8 574.3L1062.5 574.3L1063.2 574.3L1063.9 574.3L1064.6 574.3L1065.3 574.3L1066 574.3L1066.7 574.3L1067.4 574.3L1068.1 574.3L1068.8 574.3L1069.5 574.3L1070.2 574.3L1070.9 574.3L1071.6 574.3L1072.3 574.3L1073 574.3L1073.7 574.3L1074.4 574.3L1075.1 574.3L1075.8 574.3L1076.5 574.3L1077.2 574.3L1077.9 574.3L1078.6 574.3L1079.3 574.3L1080 574.3L1081.4 572.3L1082 572.3L1082.4 577.3L1083 578.3L1083.6 574.3L1085 574.3L1085.6 574.3L1086.3 574.3L1087 574.3L1087.7 574.3L1088.4 574.3L1089.1 574.3L1089.8 574.3L1090.5 574.3L1091.2 574.3L1091.9 574.3L1092.6 574.3L1093.3 574.3L1094 574.3L1094.7 574.3L1095.4 574.3L1096.1 574.3L1096.8 574.3L1097.5 574.3L1098.2 574.3L1098.9 574.3L1099.6 574.3L1100.3 574.3L1101 574.3L1101.7 574.3L1102.4 574.3L1103.1 574.3L1103.8 574.3L1104.5 574.3L1105.2 574.3L1105.9 574.3L1106.6 574.3L1107.3 574.3L1108 574.3L1108.7 574.3L1109.4 574.3L1110.1 574.3L1110.8 574.3L1111.5 574.3L1112.2 574.3L1112.9 574.3L1113.6 574.3L1114.3 574.3L1115 574.3L1115.7 574.3L1116.4 574.3L1117.1 574.3L1117.8 574.3L1118.5 574.3L1119.2 574.3L1119.9 574.3L1120.6 574.3L1121.3 574.3L1122 574.3L1122.7 574.3L1123.4 574.3L1124.1 574.3L1124.8 574.3L1125.5 574.3L1126.2 574.3L1126.9 574.3L1127.6 574.3L1128.3 574.3L1129 574.3L1129.7 574.3L1130.4 574.3L1131.1 574.3L1131.8 574.3L1132.5 574.3L1133.2 574.3L1133.9 574.3L1134.6 574.3L1135.3 574.3L1136 574.3L1136.7 574.3L1137.4 574.3L1138.1 574.3L1138.8 574.3L1139.5 574.3L1140.2 574.3L1140.9 574.3L1141.6 574.3L1142.3 574.3L1143 574.3L1143.7 574.3L1144.4 574.3L1145.1 574.3L1145.8 574.3L1146.5 574.3L1147.2 574.3L1147.9 574.3L1148.6 574.3L1149.3 574.3L1150 574.3L1150.7 574.3L1151.4 574.3L1152.1 574.3L1152.8 574.3L1153.5 574.3L1154.2 574.3L1154.9 574.3L1155.6 574.3L1156.3 574.3L1157 574.3L1157.7 574.3L1158.4 574.3L1159.1 574.3L1159.8 574.3L1160.5 574.3L1161.2 574.3L1161.9 574.3L1162.6 574.3L1163.3 574.3L1164 574.3L1164.7 574.3L1165.4 574.3L1166.1 574.3L1166.8 574.3L1167.5 574.3L1168.2 574.3L1168.9 574.3L1169.6 574.3L1170.3 574.3L1171 574.3L1171.7 574.3L1172.4 574.3L1173.1 574.3L1173.8 574.3L1174.5 574.3L1175.2 574.3L1175.9 574.3L1176.6 574.3L1177.3 574.3L1178 574.3L1179.4 573.3L1179.7 564.3L1180.4 564.3L1180.6 576.3L1181.2 579.3L1181.8 574.3L1183 574.3L1183.6 574.3L1184.3 574.3L1185 574.3L1185.7 574.3L1186.4 574.3L1187.1 574.3L1187.8 574.3L1188.5 574.3L1189.2 574.3L1189.9 574.3L1190.6 574.3L1191.3 574.3L1192 574.3L1192.7 574.3L1193.4 574.3L1194.1 574.3L1194.8 574.3L1195.5 574.3L1196.2 574.3L1196.9 574.3L1197.6 574.3L1198.3 574.3L1199 574.3L1199.7 574.3L1200.4 574.3L1201.1 574.3L1201.8 574.3L1202.5 574.3L1203.2 574.3L1203.9 574.3L1204.6 574.3L1205.3 574.3L1206 574.3L1206.7 574.3L1207.4 574.3L1208.1 574.3L1208.8 574.3L1209.5 574.3L1210.2 574.3L1210.9 574.3L1211.6 574.3L1212.3 574.3L1213 574.3L1213.7 574.3L1214.4 574.3L1215.1 574.3L1215.8 574.3L1216.5 574.3L1217.4 574.3L1220.4 573.8L1222.4 573.3L1223.9 572.7L1224.6 571.8L1225 563.3L1225.8 563.3L1226 574.3L1226.1 595.3L1226.4 597.8L1226.7 595.3L1227 577.3L1227.9 574.3L1230.4 574.3L1231.2 574.3L1231.9 574.3L1232.6 574.3L1233.3 574.3L1234 574.3L1234.7 574.3L1235.4 574.3L1236.1 574.3L1237 574.3L1238.5 570.3L1239.3 570.3L1239.5 577.3L1240.2 577.3L1240.6 574.3L1242 574.3L1242.4 574.3L1243.1 574.3L1243.8 574.3L1244.5 574.3L1245.2 574.3L1245.9 574.3L1246.6 574.3L1247.3 574.3L1248 574.3L1248.7 574.3L1249.4 574.3L1250.1 574.3L1250.8 574.3L1251.5 574.3L1252.2 574.3L1252.9 574.3L1253.6 574.3L1254.3 574.3L1255 574.3L1255.7 574.3L1256.4 574.3L1257.1 574.3L1257.8 574.3L1258.5 574.3L1259.2 574.3L1259.9 574.3L1260.6 574.3L1261.3 574.3L1262 574.3L1262.7 574.3L1263.4 574.3L1264.1 574.3L1264.8 574.3L1265.5 574.3L1266.2 574.3L1266.9 574.3L1267.6 574.3L1268.3 574.3L1269 574.3L1269.7 574.3L1270.4 574.3L1271.1 574.3L1271.8 574.3L1272.5 574.3L1273.2 574.3L1273.9 574.3L1274.6 574.3L1275.3 574.3L1276 574.3L1276.7 574.3L1277.4 574.3L1278.1 574.3L1278.8 574.3L1279.5 574.3L1280.2 574.3L1280.9 574.3L1281.6 574.3L1282.3 574.3L1283 574.3L1283.7 574.3L1284.4 574.3L1285.1 574.3L1285.8 574.3L1286.5 574.3L1287 574.3L1288.5 567.3L1289.3 567.3L1289.5 578.3L1290.2 578.3L1290.6 574.3L1292 574.3L1292.8 574.3L1293.5 574.3L1294.2 574.3L1294.9 574.3L1295.6 574.3L1296.3 574.3L1297 574.3L1297.7 574.3L1298.4 574.3L1299.1 574.3L1299.8 574.3L1300.5 574.3L1301.2 574.3L1301.9 574.3L1302.6 574.3L1303.3 574.3L1304 574.3L1304.7 574.3L1305.4 574.3L1306.1 574.3L1306.8 574.3L1307.5 574.3L1308.2 574.3L1308.9 574.3L1309.6 574.3L1310.3 574.3L1311 574.3L1311.7 574.3L1312.4 574.3L1313.1 574.3L1313.8 574.3L1314.5 574.3L1315.2 574.3L1315.9 574.3L1316.6 574.3L1317.3 574.3L1318 574.3L1318.7 574.3L1319.4 574.3L1320.1 574.3L1320.8 574.3L1321.5 574.3L1322.2 574.3L1322.9 574.3L1323.6 574.3L1324.3 574.3L1325 574.3L1325.7 574.3L1326.4 574.3L1327.1 574.3L1327.8 574.3L1328.5 574.3L1329.2 574.3L1329.9 574.3L1330.6 574.3L1331.3 574.3L1332 574.3L1332.7 574.3L1333.4 574.3L1334.1 574.3L1334.8 574.3L1335.5 574.3L1336.2 574.3L1336.9 574.3L1337.6 574.3L1338.3 574.3L1339 574.3L1339.7 574.3L1340.4 574.3L1341.1 574.3L1341.8 574.3L1342.5 574.3L1343.2 574.3L1343.9 574.3L1344.6 574.3L1345.3 574.3L1346 574.3L1346.7 574.3L1347.4 574.3L1348.1 574.3L1348.8 574.3L1349.5 574.3L1350.2 574.3L1350.9 574.3L1351.6 574.3L1352.3 574.3L1353 574.3L1353.7 574.3L1354.4 574.3L1355.1 574.3L1355.8 574.3L1356.5 574.3L1357.2 574.3L1357.9 574.3L1358.6 574.3L1359.3 574.3L1360 574.3L1360.7 574.3L1361.4 574.3L1362.1 574.3L1362.8 574.3L1363.5 574.3L1364.2 574.3L1364.9 574.3L1365.6 574.3L1366.3 574.3L1367 574.3L1367.7 574.3L1368.4 574.3L1369.1 574.3L1369.8 574.3L1370.5 574.3L1371.2 574.3L1371.9 574.3L1372.6 574.3L1373.4 574.3L1375 572.8L1375.7 572.8L1376 575.8L1376.8 574.3L1378.4 574.3L1378.9 574.3L1379.6 574.3L1380.3 574.3L1381 574.3L1381.7 574.3L1382.4 574.3L1383.1 574.3L1383.8 574.3L1384.5 574.3L1385.2 574.3L1385.9 574.3L1386.6 574.3L1387.3 574.3L1388 574.3L1388.7 574.3L1389.4 574.3L1390.1 574.3L1390.8 574.3L1391.5 574.3L1392.2 574.3L1392.9 574.3L1393.6 574.3L1394.3 574.3L1395 574.3L1395.7 574.3L1396.4 574.3L1397.1 574.3L1397.8 574.3L1398.5 574.3L1399.2 574.3L1399.9 574.3L1400.6 574.3L1401.3 574.3L1402 574.3L1402.7 574.3L1403.2 574.3L1404.7 570.8L1405.5 570.8L1405.8 577.3L1406.6 577.3L1407 574.3L1408.2 574.3L1409 574.3L1409.7 574.3L1410.4 574.3L1411.1 574.3L1411.8 574.3L1412.5 574.3L1413.2 574.3L1413.9 574.3L1414.6 574.3L1415.3 574.3L1416 574.3L1416.7 574.3L1417.4 574.3L1418.1 574.3L1418.8 574.3L1419.5 574.3L1420.2 574.3L1420.9 574.3L1421.6 574.3L1422.3 574.3L1423 574.3L1423.7 574.3L1424.4 574.3L1425.1 574.3L1425.8 574.3L1426.5 574.3L1427.2 574.3L1427.9 574.3L1428.6 574.3L1429.3 574.3L1430 574.3L1430.7 574.3L1431.4 574.3L1432.1 574.3L1432.8 574.3L1433.5 574.3L1434.2 574.3L1434.9 574.3L1435.6 574.3L1436.3 574.3L1437 574.3L1437.7 574.3L1438.4 574.3L1439.1 574.3L1439.8 574.3L1440.5 574.3L1441.2 574.3L1441.9 574.3L1442.6 574.3L1443.3 574.3L1444 574.3L1444.7 574.3L1445.4 574.3L1446.1 574.3L1446.8 574.3L1447.5 574.3L1448.2 574.3L1448.9 574.3L1449.6 574.3L1450 574.3L1451.5 571.3L1452.3 571.3L1452.6 576.8L1453.4 576.8L1453.8 574.3L1455 574.3L1455.9 574.3L1456.6 574.3L1457.3 574.3L1458 574.3L1458.7 574.3L1459.4 574.3L1460.1 574.3L1460.8 574.3L1461.5 574.3L1462.2 574.3L1462.9 574.3L1463.6 574.3L1464.3 574.3L1465 574.3L1465.7 574.3L1466.4 574.3L1467.1 574.3L1467.8 574.3L1468.5 574.3L1469.2 574.3L1469.9 574.3L1470.6 574.3L1471.3 574.3L1472 574.3L1472.7 574.3L1473.4 574.3L1474.1 574.3L1474.8 574.3L1475.5 574.3L1476.2 574.3L1476.9 574.3L1477.6 574.3L1478.3 574.3L1479 574.3L1479.7 574.3L1480.4 574.3L1481.1 574.3L1481.8 574.3L1482.5 574.3L1483.2 574.3L1483.9 574.3L1484.6 574.3L1485.3 574.3L1486 574.3L1486.7 574.3L1487.4 574.3L1488.1 574.3L1488.8 574.3L1489.5 574.3L1490.2 574.3L1490.9 574.3L1491.6 574.3L1492.3 574.3L1493 574.3L1493.7 574.3L1494.4 574.3L1495.1 574.3L1495.8 574.3L1496.5 574.3L1497.2 574.3L1497.9 574.3L1498.6 574.3L1499.3 574.3L1500 574.3L1500.7 574.3L1501.4 574.3L1502.1 574.3L1502.8 574.3L1503.5 574.3L1504.2 574.3L1504.9 574.3L1505.6 574.3L1506.3 574.3L1507 574.3L1507.7 574.3L1508.4 574.3L1509.1 574.3L1509.8 574.3L1510.5 574.3L1511.2 574.3L1511.9 574.3L1512.6 574.3L1513.3 574.3L1514 574.3L1514.7 574.3L1515.4 574.3L1516.1 574.3L1516.8 574.3L1517.5 574.3L1518.2 574.3L1518.9 574.3L1519.6 574.3L1520.3 574.3L1521 574.3L1521.7 574.3L1522.4 574.3L1523.1 574.3L1523.8 574.3L1524.5 574.3L1525.2 574.3L1525.9 574.3L1526.6 574.3L1527.3 574.3L1528 574.3L1528.7 574.3L1529.4 574.3L1530.1 574.3L1530.8 574.3L1531.5 574.3L1532.2 574.3L1532.9 574.3L1533.6 574.3L1534.3 574.3L1535 574.3L1535.7 574.3L1536.4 574.3L1537.1 574.3L1537.8 574.3L1538.5 574.3L1539.2 574.3L1539.9 574.3L1540.6 574.3L1541.3 574.3L1542 574.3L1542.7 574.3L1543.4 574.3L1544.1 574.3L1544.8 574.3L1545.5 574.3L1546.5 574.3L1548 573.1L1549 573.1L1550 574.3L1551.5 574.3L1551.8 574.3L1552.5 574.3L1553.2 574.3L1553.9 574.3L1554.6 574.3L1555.3 574.3L1556 574.3L1556.7 574.3L1557.4 574.3L1558.1 574.3L1558.8 574.3L1559.5 574.3L1560.2 574.3L1560.9 574.3L1561.6 574.3L1562.3 574.3L1563 574.3L1563.7 574.3L1564.4 574.3L1565.1 574.3L1565.8 574.3L1566.5 574.3L1567.2 574.3L1567.9 574.3L1568.6 574.3L1569.3 574.3L1570 574.3L1570.7 574.3L1571.4 574.3L1572.1 574.3L1572.8 574.3L1573.5 574.3L1574.2 574.3L1574.9 574.3L1575.6 574.3L1576.3 574.3L1577 574.3L1577.7 574.3L1578.4 574.3L1579.1 574.3L1579.8 574.3L1580.5 574.3L1581.2 574.3L1581.9 574.3L1582.6 574.3L1583.3 574.3L1584 574.3L1584.7 574.3L1585.4 574.3L1586.1 574.3L1586.8 574.3L1587.5 574.3L1588.2 574.3L1588.9 574.3L1589.6 574.3L1590.3 574.3L1591 574.3L1591.7 574.3L1592.4 574.3L1593.1 574.3L1593.8 574.3L1594.5 574.3L1595.2 574.3L1595.9 574.3L1596.6 574.3L1597.3 574.3L1598 574.3L1598.7 574.3L1599.4 574.3L1600.1 574.3L1600.8 574.3L1601.5 574.3L1602.2 574.3L1602.9 574.3L1603.6 574.3L1604.3 574.3L1605 574.3L1605.7 574.3L1606.4 574.3L1607.1 574.3L1607.8 574.3L1608.5 574.3L1609.2 574.3L1609.9 574.3L1610.6 574.3L1611.3 574.3L1612 574.3L1612.7 574.3L1613.4 574.3L1614.1 574.3L1614.8 574.3L1615.5 574.3L1616.2 574.3L1616.9 574.3L1617.6 574.3L1618.3 574.3L1619 574.3L1619.7 574.3L1620.4 574.3L1621.1 574.3L1621.8 574.3L1622.5 574.3L1623.2 574.3L1623.9 574.3L1624.6 574.3L1625.3 574.3L1626 574.3L1626.7 574.3L1627.4 574.3L1628.1 574.3L1628.8 574.3L1629.5 574.3L1630.2 574.3L1630.9 574.3L1631.6 574.3L1632.3 574.3L1633 574.3L1633.7 574.3L1634.4 574.3L1635.1 574.3L1635.8 574.3L1636.5 574.3L1637.2 574.3L1637.9 574.3L1638.6 574.3L1639.3 574.3L1640 574.3L1640.7 574.3L1641.4 574.3L1642.1 574.3L1642.8 574.3L1643.5 574.3L1644.2 574.3L1644.9 574.3L1645.6 574.3L1646.3 574.3L1647 574.3L1647.7 574.3L1648.4 574.3L1649.1 574.3L1649.8 574.3L1650.5 574.3L1651.2 574.3L1651.9 574.3L1652.6 574.3L1653.3 574.3L1654 574.3L1655.5 573.5L1656.5 573.5L1657.5 574.3L1659 574.3L1659.6 574.3L1660.3 574.3L1661 574.3L1661.7 574.3L1662.4 574.3L1663.1 574.3L1663.8 574.3L1664.5 574.3L1665.2 574.3L1665.9 574.3L1666.6 574.3L1667.3 574.3L1668 574.3L1668.7 574.3L1669.4 574.3L1670.1 574.3L1670.8 574.3L1671.5 574.3L1672.2 574.3" stroke="#0f0" stroke-width="2.6" fill="none" stroke-linejoin="round"/>
<path d="M1225.3 537V563" stroke="#0f0" stroke-width="1.4" stroke-dasharray="2.5 1.2"/>
<text x="405.3" y="702" class="sf" font-size="36.5">2</text>
<text transform="translate(423.6 702) scale(1.14 1)" class="sf" font-size="36.5">θ</text>
<text x="452.5" y="702" class="sf" font-size="36.5">(</text>
<text x="464.4" y="687.4" class="sf" font-size="25.5">o</text>
<text x="477.35" y="702" class="sf" font-size="36.5">)</text>
<text x="1297.15" y="702" class="ss" font-size="37">2</text>
<text transform="translate(1318.1 702) scale(1.14 1)" class="sf" font-size="36.5">θ</text>
<text x="1347.8" y="702" class="ss" font-size="37">(</text>
<text x="1360" y="687.3" class="ss" font-size="23">o</text>
<text x="1375" y="702" class="ss" font-size="37">)</text>
<text transform="translate(27 480.7) rotate(-90)" class="sf" font-size="36.7">XRD</text>
<text transform="translate(27 385.0) rotate(-90)" class="sf" font-size="36.7">Intensity (arb. units)</text>
<text transform="translate(922 454.0) rotate(-90)" class="sf" font-size="31.4">XRD</text>
<text transform="translate(922 372.9) rotate(-90)" class="sf" font-size="31.4">Intensity (arb. units)</text>
<text x="166.5" y="112.5" class="sf" font-size="69.5">(a)</text>
<text x="1038.3" y="112.5" class="sf" font-size="69.5">(b)</text>
<path d="M515.8 75.8H536" stroke="#000" stroke-width="3.2"/>
<path d="M515.8 108.4H536" stroke="#f00" stroke-width="3.2"/>
<path d="M515.8 148.2H536" stroke="#0f0" stroke-width="3.2"/>
<path d="M526.4 166V193.7" stroke="#00f" stroke-width="3"/>
<text x="561.3" y="80.8" class="sf" font-size="25.6">Raw Data (I<tspan dy="7.6" font-size="17">obs.</tspan><tspan dy="-7.6">)</tspan></text>
<text x="561.3" y="118.1" class="sf" font-size="25.6">Calculated Data (I<tspan dy="7.6" font-size="17">cal.</tspan><tspan dy="-7.6">)</tspan></text>
<text x="561.3" y="155.1" class="sf" font-size="25.6">I<tspan dy="7.6" font-size="17">obs.</tspan><tspan dy="-7.6">-I</tspan><tspan dy="7.6" font-size="17">cal.</tspan></text>
<text x="561.3" y="192.5" class="sf" font-size="25.6">Bragg Peak Positions</text>
<path d="M1397 62.2H1410" stroke="#000" stroke-width="3.2"/>
<path d="M1397 97H1410" stroke="#f00" stroke-width="3.2"/>
<path d="M1397 136.1H1410" stroke="#0f0" stroke-width="3.2"/>
<path d="M1407.4 163.3V182.4" stroke="#00f" stroke-width="3"/>
<text x="1442.6" y="69.6" class="sf" font-size="25.6">Raw Data (I<tspan dy="7.6" font-size="17">obs.</tspan><tspan dy="-7.6">)</tspan></text>
<text x="1442.6" y="107.2" class="sf" font-size="25.6">Calculated Data (I<tspan dy="7.6" font-size="17">cal.</tspan><tspan dy="-7.6">)</tspan></text>
<text x="1442.6" y="144.2" class="sf" font-size="25.6">I<tspan dy="7.6" font-size="17">obs.</tspan><tspan dy="-7.6">-I</tspan><tspan dy="7.6" font-size="17">cal.</tspan></text>
<text x="1442.6" y="181.8" class="sf" font-size="25.6">Bragg Peak Positions</text>
</svg>
</body></html>
